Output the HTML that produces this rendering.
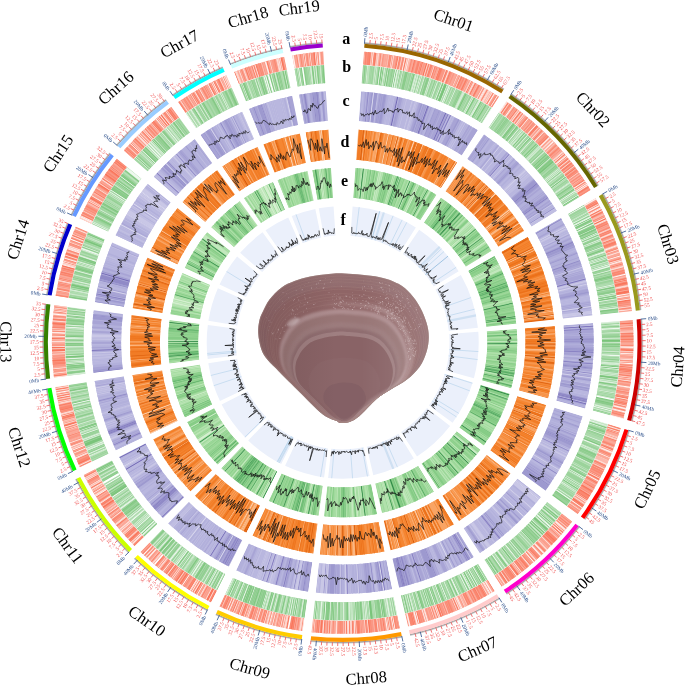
<!DOCTYPE html><html><head><meta charset="utf-8"><title>Circos</title><style>html,body{margin:0;padding:0;background:#fff;}#w{position:relative;width:685px;height:685px;overflow:hidden;background:#fff}.ring{position:absolute;border-radius:50%;filter:blur(0.3px)}svg{position:absolute;left:0;top:0}.ln{fill:none;stroke:#111;stroke-width:0.7;stroke-linejoin:round}.tr{font:5.2px "Liberation Serif",serif;fill:#ee4c4c;dominant-baseline:central}.tb{font:5.2px "Liberation Serif",serif;fill:#2c4f8a;dominant-baseline:central}.cl{font:16.5px "Liberation Serif",serif;fill:#000;text-anchor:middle;dominant-baseline:central}.lt{font:bold 16px "Liberation Serif",serif;fill:#000}</style></head><body><div id="w"><svg width="685" height="685" viewBox="0 0 685 685"><defs><radialGradient id="gr" cx="342.7" cy="342.4" r="300.6" gradientUnits="userSpaceOnUse"><stop offset="0.994" stop-color="#8a8a8a"/><stop offset="1" stop-color="#d8d8d8"/></radialGradient></defs>
<g transform="translate(0 342.4) scale(1 1.0022) translate(0 -342.4)">
<g fill="none"><circle cx="342.7" cy="342.4" r="284.35" stroke="#fa9885" stroke-width="12.9" stroke-dasharray="0 20.7 140.8 8.3 120.6 9 116.7 8.4 97.7 9.1 94.5 8.7 94.4 7.9 92 7.9 87.1 8.6 85.3 9 85 8 85.9 7.9 82.6 8.9 71.5 8.7 70.9 8.5 69.2 9.9 63.7 7.7 54.5 7.7 51.7 7.3 31.2 19.62" transform="rotate(-90 342.7 342.4)"/><circle cx="342.7" cy="342.4" r="284.35" stroke="#fcbaae" stroke-width="12.9" stroke-dasharray="0 21.5 0.7 13.4 0.8 1.5 0.7 4.5 0.7 0.8 1.5 17.8 0.8 0.7 0.8 29.8 0.7 30.5 0.8 0.7 0.8 7.4 0.8 13.4 0.7 0.8 0.7 3 0.7 26.2 0.7 3.7 0.8 14.1 0.8 10.4 0.7 16.4 0.8 4.4 0.8 5.2 0.7 21.6 0.8 5.9 0.8 3.7 0.7 39.6 2.2 14.9 0.7 7.4 0.8 2.9 0.8 10.4 0.7 13.4 0.8 7.4 0.7 5.2 0.8 6.7 0.7 7.4 0.8 28.5 0.7 4.5 1.5 11.2 0.7 4.5 0.8 8.9 1.5 6.7 0.7 23.9 0.8 41.1 0.8 20.1 0.7 7.4 3 7.5 0.7 6 0.7 8.2 0.7 15.7 0.7 44.4 0.8 15.6 0.7 1.5 0.8 2.2 0.7 19.4 0.7 5.2 0.7 16.4 0.7 5.2 0.8 13.1 0.7 5.2 0.8 16.3 1.5 5.9 1.5 2.2 0.8 14 1.5 0.8 0.7 3.7 0.8 4.4 0.8 50.2 0.7 5.2 0.8 5.2 0.7 23.1 0.8 2.2 0.7 3 0.8 20.1 0.7 2.2 0.8 39 0.7 0.8 0.7 2.2 0.8 11.1 0.7 1.5 1.5 8.2 0.7 20 0.8 75.3 0.7 16.4 1.5 7.5 0.7 29.7 0.7 2.3 0.7 3 0.8 3.7 0.7 6.8 0.7 8.2 1.5 3 0.7 9 0.7 12.7 0.8 8.2 0.7 39.3 0.7 4.5 0.7 13.4 0.8 132.2 0.8 29.1 0.7 56.3 2.2 9.7 1.4 13.4 0.8 54.5 0.7 14.1 0.7 2.2 0.8 35.8 0.7 10.4 0.8 18.7 0.7 14.9 0.8 17.4 0.8 5.2 0.8 6 0.7 46.3 0.7 45.62" transform="rotate(-90 342.7 342.4)"/><circle cx="342.7" cy="342.4" r="284.35" stroke="#fa8770" stroke-width="12.9" stroke-dasharray="0 22.2 1.5 0.8 2.2 3.7 1.5 0.8 0.7 3.7 0.8 8.2 0.7 0.8 0.7 5.2 0.8 1.4 1.5 2.3 0.7 7.5 0.7 3 0.7 2.3 2.2 0.7 0.8 6.7 1.5 0.7 2.3 4.4 0.8 2.9 0.8 0.7 0.8 4.4 0.8 3 0.7 9 0.7 0.7 0.8 2.2 0.8 1.5 0.7 6.7 0.7 6.8 0.7 8.2 0.7 5.2 1.5 3 0.8 0.7 0.7 13.5 1.5 3.8 0.7 6 0.7 2.2 0.8 5.2 1.5 4.4 0.8 1.5 0.7 4.5 1.5 11.1 0.8 0.7 0.8 11.1 0.8 2.2 1.5 1.5 0.7 10.5 0.7 2.2 1.5 1.5 1.5 0.8 0.7 5.2 1.5 0.7 0.8 3.7 0.8 1.4 0.8 2.2 0.8 2.2 0.7 0.8 0.7 2.3 0.7 0.8 0.7 1.5 0.7 15 0.8 0.7 0.7 1.5 0.8 2.2 0.7 1.5 0.8 3.7 0.7 0.8 0.7 3.7 1.5 0.8 0.7 3.7 0.8 3.7 1.5 8.9 0.7 0.8 1.5 4.4 0.8 8.9 1.5 8.1 0.8 1.5 1.5 0.7 1.5 4.4 0.8 3 0.7 1.5 0.7 3.7 0.8 3.7 0.7 8.2 0.8 1.5 0.7 20.3 0.8 1.5 0.7 6.7 0.8 0.7 0.8 0.7 0.8 2.2 0.7 3 0.8 3 0.7 6 0.7 6 0.7 1.5 0.8 2.9 1.5 3 0.8 7.4 1.5 9 0.7 3 0.7 0.8 0.7 3.7 0.8 2.2 0.8 0.7 0.8 2.9 0.8 2.2 0.8 14.3 1.5 0.8 0.7 3 0.7 11.2 1.5 2.2 0.7 4.5 0.8 0.7 0.7 10.5 1.4 4.5 1.5 0.7 1.5 1.5 0.8 17.1 0.7 1.5 0.7 2.3 2.2 8.9 0.8 2.2 0.8 3.7 0.7 0.8 0.7 10.2 0.8 1.5 1.5 0.7 0.7 1.5 0.8 5.2 0.7 1.5 0.7 2.3 0.7 2.2 2.3 1.5 0.7 3 0.7 8.2 1.5 2.2 0.8 2.9 0.8 0.7 1.5 1.5 0.7 1.5 1.5 0.8 0.7 5.2 1.5 0.7 0.8 0.7 0.8 2.9 1.5 0.8 0.7 3.7 0.8 0.7 0.7 1.5 3 0.8 0.7 4.5 1.4 4.5 0.7 7.9 0.8 7.4 0.7 1.5 1.5 1.5 1.5 1.5 2.2 2.2 0.8 0.7 0.7 3 1.5 0.7 1.5 10.4 0.7 0.8 0.7 3 1.5 0.7 0.8 0.7 0.7 1.5 0.8 11.8 0.8 0.7 0.8 8.9 0.7 1.5 0.7 0.8 0.7 1.5 0.8 4.4 3 11.6 0.7 1.5 1.5 3 0.7 9 0.7 3.7 2.3 3.7 0.7 3 0.7 5.3 0.7 0.7 1.5 0.8 0.7 1.5 0.8 12.6 0.8 0.7 0.7 0.8 0.7 0.8 0.7 9.7 0.7 1.5 0.8 21.9 0.8 3.7 0.7 3.7 0.8 1.4 1.5 1.5 0.7 6.7 0.8 2.2 0.7 3 0.7 3.8 0.7 5.9 1.5 1.5 0.7 0.8 0.7 3 0.7 0.8 0.7 2.2 1.5 3.7 0.8 0.7 0.8 1.4 0.8 10.4 0.7 2.2 0.8 1.5 0.7 1.5 1.5 2.9 0.8 9.7 1.5 7.5 1.5 8.2 0.7 1.5 0.7 2.3 1.5 3.7 0.8 2.2 0.7 3 1.5 3 0.7 0.8 0.7 0.8 0.7 0.8 0.7 6.7 0.8 0.7 0.8 2.2 0.8 2.9 0.8 2.2 0.8 11.2 0.7 5.2 0.8 1.5 0.7 8 1.5 9 0.7 1.5 0.8 11.9 0.7 4.5 0.8 0.7 1.5 1.5 0.8 2.9 1.5 11.2 0.8 3 1.5 8.9 0.8 7.4 0.8 2.2 0.8 5.9 0.8 13.9 2.2 8.9 0.8 0.7 0.8 5.2 0.7 8.2 0.8 5.9 0.8 1.5 0.7 6.7 0.7 0.8 0.7 3 0.8 2.9 0.8 1.5 2.2 6 0.7 1.5 0.7 1.5 1.5 6 0.7 11.9 0.7 6 0.7 5.2 1.5 3.7 0.8 16.4 0.7 4.5 0.7 3.7 0.8 0.7 0.8 1.5 0.7 3.7 0.8 3 0.7 1.5 0.7 10.4 0.8 8.7 1.5 4.5 1.5 3 0.7 0.8 0.7 3 0.7 4.5 1.5 1.5 0.7 0.8 0.7 0.8 0.7 9 0.7 1.5 0.8 1.5 0.7 1.5 0.7 1.5 0.8 6.7 0.7 2.3 0.7 0.8 1.5 2.2 0.7 0.8 0.7 1.5 0.8 3.7 1.5 11.5 1.5 0.7 1.5 3.7 0.8 1.5 1.5 5.2 0.7 3 0.7 8.2 0.8 3.7 0.7 2.3 0.7 4.5 0.7 6 1.5 1.4 0.8 2.2 0.8 7.4 0.7 1.5 0.8 14.3 0.8 8.9 0.7 0.7 0.8 9.6 1.5 0.7 0.8 4.4 0.8 1.4 0.8 5.2 0.7 4.4 0.8 0.7 0.8 6.6 0.8 0.7 0.8 0.7 0.7 3.7 1.5 7.7 1.5 1.4 0.8 1.5 0.7 0.8 0.7 1.5 0.8 3.7 0.7 5.3 2.2 1.5 0.7 2.3 1.5 3 0.7 3 0.7 1.5 0.8 3.7 0.8 2.2 0.7 24.2 0.8 5.2 0.8 0.7 0.8 7.5 0.7 1.5 0.7 0.8 0.7 6.8 0.7 6 0.8 7.5 0.7 0.8 0.7 11.8 0.8 2.9 0.8 5.9 0.8 2.9 0.8 4.4 0.8 27.02" transform="rotate(-90 342.7 342.4)"/><circle cx="342.7" cy="342.4" r="284.35" stroke="#f9765c" stroke-width="12.9" stroke-dasharray="0 26.7 0.7 4.5 0.8 21.6 0.7 7.4 0.8 7.4 0.8 7.4 0.8 3 1.4 7.5 0.7 4.5 0.7 0.8 0.7 4.5 0.7 3 0.8 11.9 0.7 4.5 0.7 4.5 0.8 3.7 0.7 3 0.8 32.8 0.8 9.6 0.8 3.7 0.7 20.1 0.8 5.9 0.8 8.2 0.7 20.9 0.7 0.8 0.7 2.2 0.8 2.2 0.8 3.7 0.7 3 0.7 2.3 0.7 14.2 0.7 6.7 0.8 15.7 0.7 0.8 0.7 7.4 0.8 1.5 0.7 6 1.4 4.5 0.7 6 0.7 4.5 0.7 3 0.8 2.9 0.8 21.5 0.8 14.1 0.7 0.8 0.7 1.5 1.5 3.7 0.7 0.8 0.7 0.8 2.2 6.7 1.5 6.7 0.7 13.7 1.4 9 0.7 2.3 0.7 2.3 0.7 9.7 1.5 15.6 0.8 2.2 0.8 0.7 0.8 2.9 0.8 1.5 0.7 19.4 0.8 0.7 0.8 2.9 0.8 11.2 0.7 15.1 0.7 0.8 0.7 7.5 0.7 8.9 0.8 20.8 0.8 7.4 0.7 0.8 1.5 3 0.7 5.2 0.8 2.2 1.5 3.7 1.5 2.2 0.8 0.7 0.7 5.3 1.4 0.8 0.7 28.8 0.8 0.7 0.8 1.5 0.7 8.2 1.5 0.7 0.7 1.5 0.8 19.3 0.7 9 0.7 3 0.7 3.7 0.8 5.9 1.5 3 0.7 6 0.7 1.5 0.8 24.2 0.7 5.2 0.8 3.7 0.7 18.6 0.7 15.6 0.7 0.8 1.5 2.2 0.7 17.8 0.8 3.7 0.7 0.8 0.7 19 0.8 3.7 0.8 4.4 0.8 13.4 1.5 2.2 0.7 6.7 0.8 0.7 0.8 3.7 0.7 2.3 0.7 2.2 0.8 12.6 0.8 3 0.7 4.5 0.7 1.5 1.5 1.5 0.7 0.8 0.7 3 0.7 17.5 0.7 0.8 0.7 0.8 1.4 3.7 0.8 22.2 0.8 12.6 0.7 8.2 0.7 3 0.8 5.1 0.8 8.1 0.8 3 0.7 10.5 0.7 2.2 2.3 10.4 0.8 0.7 1.5 5.2 0.8 1.5 0.7 4.5 0.7 2.3 1.5 3 1.5 7.4 0.8 0.7 0.8 1.4 0.8 6 0.7 6 0.7 4.5 0.7 8.3 0.7 1.5 0.7 16.2 0.8 0.7 1.5 3.8 0.7 1.5 0.7 11.2 0.8 20.9 1.5 1.5 0.7 0.8 0.7 7.5 0.7 9 0.7 7.5 0.8 3.7 0.7 11 0.7 1.5 1.5 3.7 0.7 33.5 1.5 6.7 0.8 0.7 0.8 5.9 0.8 3.7 0.7 6.7 0.8 3 0.7 3.7 0.8 13.3 0.8 10.4 0.7 2.3 1.5 8.1 2.3 0.7 1.5 0.8 0.7 6 1.4 9.7 0.8 2.9 1.5 3 0.8 6.7 0.7 28.9 0.7 3 0.7 5.3 0.7 3.7 0.8 0.7 1.5 3 0.7 5.3 0.7 1.5 1.5 17.2 0.7 36.1 0.7 3 1.5 0.7 0.8 4.4 0.8 7.4 1.5 5.2 0.8 4.4 1.5 4.5 1.5 2.2 0.7 4.5 0.8 1.4 0.8 12.9 0.7 0.8 0.7 5.2 0.7 0.8 0.7 5.2 0.7 4.5 0.7 8.2 0.7 8.1 0.8 0.7 0.8 3.7 0.7 3 0.7 0.7 1.5 2.3 0.7 4.4 0.8 0.7 0.8 25.5 0.7 0.8 0.7 12 0.7 5.2 0.8 3.7 0.8 4.4 0.8 4.5 0.7 11.5 0.7 10.5 0.8 6 0.7 0.8 0.7 1.5 0.8 10.4 0.8 13.5 1.5 21.4 0.8 4.5 0.7 3.7 1.5 8.2 0.7 19.62" transform="rotate(-90 342.7 342.4)"/><circle cx="342.7" cy="342.4" r="284.35" stroke="#feddd6" stroke-width="12.9" stroke-dasharray="0 28.2 0.7 4.5 0.7 14.2 0.7 6 0.7 2.3 0.7 25.3 0.8 5.9 0.8 11.2 0.7 11.9 0.8 2.2 0.7 13.4 0.8 13.4 0.7 1.5 0.8 0.7 0.8 0.7 0.8 20.2 0.7 4.5 0.7 5.2 0.8 3.7 0.7 3 0.8 17.1 0.7 17.1 0.8 0.7 0.8 14.1 0.8 2.9 0.8 1.5 0.7 5.2 0.8 4.4 0.8 6.7 0.7 11.9 0.8 30.6 0.7 9.7 0.7 8.2 0.8 3.7 1.5 3.7 0.7 6.7 0.7 0.8 0.7 14.9 0.7 3.8 1.4 17.9 1.5 38.9 0.7 4.5 0.8 29 0.8 14.1 0.8 0.7 0.8 8.2 0.7 6.7 0.8 9.7 0.7 6 0.7 18.8 0.8 5.2 0.7 1.5 0.8 7.4 0.8 2.2 0.7 9.7 0.7 3 0.8 4.4 0.8 9.6 0.8 24.5 0.8 10.4 0.8 20.6 0.7 3 0.7 40.2 0.7 18.6 0.7 20.1 0.8 42 0.7 3 1.5 2.9 0.8 20.8 0.7 1.5 0.7 6.7 0.8 36.1 0.7 0.8 0.7 22.3 0.8 12.6 0.8 36.5 0.7 12.3 0.7 0.7 0.8 12.6 0.7 0.8 0.7 8.2 0.7 8.2 0.7 11.1 0.8 8.1 0.8 1.5 0.7 8.2 0.7 28.3 0.7 19.4 0.8 14.9 0.8 4.4 0.8 0.7 0.8 14.2 0.7 1.5 0.7 6 0.8 38.5 0.8 5.2 1.5 4.5 0.7 9.7 0.8 4.5 0.7 10.5 0.7 7.5 1.5 3.7 0.8 0.7 0.7 12.7 0.8 19.8 0.8 28.3 0.7 0.8 0.7 4.5 0.7 2.3 0.7 4.5 0.7 0.8 0.7 9.7 0.7 1.5 0.8 1.4 0.8 3.7 0.8 7.4 0.7 36.5 0.7 1.5 0.8 3.7 0.7 1.5 0.8 5.9 0.8 2.2 0.7 0.8 0.7 9.7 0.7 2.3 0.7 0.8 0.7 3 0.7 3 0.7 14.8 0.7 28.3 0.8 5.2 0.8 8.2 0.7 3.7 0.8 7.4 0.8 16.7 0.8 6.7 0.7 10.4 0.8 0.7 0.8 12.6 0.8 4.4 0.8 5.9 0.8 38.1 0.8 4.4 0.7 6 0.7 5.9 0.8 13.3 0.7 6.7 0.7 0.8 0.7 9.7 0.7 15.8 0.7 11.2 0.8 31.3 0.8 15.9 0.8 17.2 0.8 16.4 0.8 6 0.7 3 0.8 22.2 0.7 15.7 0.7 23.32" transform="rotate(-90 342.7 342.4)"/><circle cx="342.7" cy="342.4" r="284.35" stroke="#fba999" stroke-width="12.9" stroke-dasharray="0 28.9 0.8 6.7 0.7 3.8 2.2 0.7 0.8 5.9 0.8 0.7 0.8 14.1 0.8 1.4 1.5 2.3 0.7 3 0.7 2.3 0.7 1.5 0.8 6.7 0.7 3 0.7 0.8 1.5 10.4 0.7 3 0.8 1.4 2.3 1.5 1.5 5.9 0.8 6.7 0.7 3.7 1.5 3 2.2 33.6 0.8 3.7 0.7 0.8 0.7 2.3 0.7 6 0.7 1.5 0.7 3.8 0.7 0.8 1.4 9.7 0.8 4.4 0.8 2.2 0.8 6.7 0.7 1.5 0.7 2.3 0.7 0.8 0.7 3 0.7 2.3 0.7 0.7 0.8 0.7 0.8 10.4 0.7 4.5 0.8 13.4 1.4 2.3 0.7 6 0.7 34.3 0.8 8.1 0.8 0.7 0.8 25.2 0.8 1.5 2.2 1.5 1.5 2.2 0.7 2.3 0.7 0.8 0.7 3 1.5 5.9 0.8 0.7 0.7 3 0.8 8.1 0.8 6.7 0.7 6.7 0.7 3 0.8 0.7 1.5 8.4 0.8 0.7 0.8 1.4 0.8 3.7 0.8 8.2 0.7 2.3 0.7 3 0.7 7.5 0.7 0.8 0.7 1.5 0.8 6.7 0.7 3 0.7 3.8 0.7 0.8 1.4 3.8 0.7 3 1.5 1.5 0.7 1.5 1.5 4.5 0.7 6 0.7 9 0.7 5.3 1.4 16.6 2.3 5.9 2.2 2.3 0.7 8.9 0.8 1.5 2.2 7.4 0.8 13.4 0.7 9 2.2 4.4 0.8 8.9 0.8 0.7 0.8 5.2 0.7 2.2 0.8 11.7 0.7 1.5 0.8 1.5 0.7 14.1 1.5 8.9 0.8 1.5 0.7 0.7 0.8 0.7 0.8 7.4 0.7 5.2 0.8 5.2 0.7 7.5 0.7 0.8 0.7 5.9 1.5 3.7 0.8 12.6 1.5 11.6 0.8 3.7 0.7 8.2 0.7 3 1.5 1.5 0.7 3 0.7 4.5 0.7 3 0.7 3 0.7 3.7 1.5 22.3 0.7 0.8 1.4 1.5 0.8 1.5 0.7 0.7 0.8 8.1 0.8 16 0.8 5.9 0.8 8.2 0.7 18.6 0.8 0.7 0.8 0.7 0.7 25.4 1.4 0.8 1.5 4.4 1.5 12.7 0.7 12.3 0.7 1.5 1.5 0.7 0.8 17 0.8 1.5 0.7 2.2 0.8 2.2 0.7 1.5 0.8 9.6 0.7 1.5 0.8 4.4 0.8 0.7 0.7 0.8 0.7 8.9 0.8 5.9 0.8 4.4 0.7 20.9 0.8 0.7 0.8 0.7 0.8 3.7 0.7 2.3 0.7 9.7 1.5 2.3 0.7 4.5 0.7 5.2 0.8 4.5 0.7 11.2 0.8 7.4 0.8 1.5 0.7 2.2 0.8 5.2 0.8 3.7 0.7 17.7 0.8 6.7 0.7 1.5 0.8 3.7 1.5 0.8 0.7 4.5 0.7 6 0.7 0.8 0.7 3 0.8 14.2 1.5 5.2 1.5 1.5 0.7 7.5 0.7 4.5 0.7 3.8 0.7 10.9 0.8 8.9 0.8 1.5 0.7 1.5 0.7 1.5 0.8 1.5 0.7 0.7 0.8 3.7 0.8 0.7 0.7 2.3 0.7 1.5 2.2 0.8 1.5 11.1 0.8 43.9 0.7 1.5 0.7 1.5 0.8 1.5 1.5 8.9 0.7 1.5 0.8 0.7 0.8 7.4 0.7 0.8 1.5 4.4 1.5 2.3 0.7 11.2 0.7 3.7 0.8 3.7 0.8 17.6 1.5 0.8 0.7 5.2 0.8 2.2 0.8 2.9 0.8 0.7 0.8 0.7 1.5 3.7 0.8 3 0.7 6 0.7 9 0.7 9 0.7 3.8 0.7 3.7 1.5 3.8 0.7 14.5 0.7 4.5 0.7 10.5 0.7 3.7 0.8 0.7 0.8 2.2 0.7 3.8 1.4 5.2 0.8 5.2 0.7 9 0.7 0.8 0.7 0.7 0.8 2.2 1.5 15.1 0.8 0.7 0.8 11.8 0.7 8.2 0.7 0.8 0.7 17.8 0.7 8.2 1.5 8.1 0.7 12.9 1.5 2.2 0.8 3.7 0.7 3 0.8 1.5 0.7 3 0.8 2.2 1.5 2.2 0.8 0.7 0.8 0.7 0.8 3.7 0.7 12 0.7 2.3 0.7 1.5 0.8 10.7 0.7 2.3 0.7 1.5 0.8 3 0.7 0.8 0.7 15 1.5 3.7 0.8 2.2 0.8 7.5 0.7 3 0.8 11 1.5 2.2 1.5 1.5 0.8 5.2 0.7 14.1 0.8 20.32" transform="rotate(-90 342.7 342.4)"/><circle cx="342.7" cy="342.4" r="284.35" stroke="#ffffff" stroke-width="12.9" stroke-dasharray="0 29.7 0.7 30.6 0.7 3 0.7 80.5 0.7 8.9 0.8 3 0.7 9.8 0.7 6.7 0.8 18.6 0.7 9 0.7 9.7 0.7 12.7 0.7 17.9 0.7 29.8 0.8 2.9 0.8 26.9 0.7 38.6 0.8 9.6 0.8 4.4 0.8 12.6 0.8 18.5 0.8 1.5 0.7 12.7 0.7 42.7 0.8 8.9 0.8 16.4 0.7 5.2 0.8 23.8 0.8 5.9 0.8 39.6 0.8 6.7 0.7 17.1 0.8 29.7 0.8 31 0.8 20.8 0.7 17.1 0.8 20.8 0.7 13.4 0.7 16.1 0.7 30.5 0.7 34.9 0.7 1.5 0.7 6 0.7 23.5 0.7 0.8 0.7 5.2 0.8 31.3 0.7 6 0.7 10.4 0.8 46.4 1.5 17.8 0.8 40.8 0.7 1.5 0.7 32.1 0.7 5.3 0.7 1.5 0.7 8.2 0.8 22.4 0.7 9.7 1.5 13.4 0.8 14.7 0.7 0.8 0.7 56 0.8 3 0.7 37.8 0.7 4.5 0.7 2.3 0.7 3 0.7 49.2 0.7 3.7 0.8 55 0.8 3 0.7 17.1 0.8 2.2 0.7 2.3 0.7 42.3 0.8 5.9 0.8 8.9 0.8 0.7 0.8 7.4 0.8 24.2 0.7 85 0.8 9.6 0.7 23.7 0.8 4.4 0.7 55.3 0.8 4.5 0.7 107.7 0.8 24.02" transform="rotate(-90 342.7 342.4)"/><circle cx="342.7" cy="342.4" r="284.35" stroke="#fdccc2" stroke-width="12.9" stroke-dasharray="0 34.1 0.8 3.7 0.8 26.8 0.7 19.4 0.7 145.3 0.8 148.1 0.7 76.9 0.8 80.7 0.7 115.1 0.7 109.7 0.8 139.4 0.8 14.8 0.8 41.2 0.7 29.7 0.7 19.3 0.8 22.4 0.7 124.4 0.8 60.9 0.7 8.2 0.8 25.3 0.7 28.3 0.7 110 0.7 17.2 0.8 11.1 0.8 125.6 0.7 17.8 0.7 50.7 0.8 41.8 0.7 10.7 0.8 24.7 0.7 15.8 0.7 29.7 0.8 34.42" transform="rotate(-90 342.7 342.4)"/><circle cx="342.7" cy="342.4" r="284.35" stroke="#feeeeb" stroke-width="12.9" stroke-dasharray="0 34.9 0.7 14.2 0.7 12.7 0.7 41.7 0.8 23.1 0.7 3 0.7 9 0.7 1.5 0.8 3.7 0.7 3 0.7 16.5 0.8 14.1 0.8 4.4 0.8 20.8 0.8 11.1 1.5 1.5 0.7 15.7 0.7 1.5 0.8 6.7 0.7 30.5 0.8 14.2 1.5 4.5 0.7 0.7 1.5 1.5 0.8 9.6 0.8 1.4 0.8 30.5 0.7 2.2 0.8 6.7 0.7 38.7 0.7 6.7 0.7 39 1.5 3 0.7 7.5 0.7 38.1 0.7 8.2 1.5 20.3 0.8 8.9 0.7 12.7 1.5 53.5 0.8 1.5 0.7 30.3 1.5 1.5 0.7 3.7 0.8 13.4 0.7 8.9 1.5 2.2 1.5 5.2 0.8 7.4 0.8 9.6 0.8 15.6 0.7 17.6 1.4 1.5 0.8 1.5 0.7 30.4 0.8 19.3 0.7 0.7 0.8 20.8 1.4 6 1.5 30.2 0.7 9 0.7 11.2 0.7 4.5 0.7 1.5 0.8 2.2 0.7 9 0.7 4.5 0.7 6.7 0.8 19.7 0.7 1.5 0.7 14.1 0.8 1.5 0.7 1.5 0.7 7.4 0.8 4.4 0.8 2.2 0.7 6.7 0.8 8.9 0.7 8.2 0.7 5.2 0.7 29.1 0.7 6 0.7 6 0.8 30.6 0.7 9.7 0.7 6.8 0.7 6 1.5 1.5 0.7 17 0.7 6 0.7 6.7 0.8 2.2 0.8 7.4 0.8 6 0.7 5.2 0.8 11.9 0.8 15.6 0.8 1.5 0.7 0.8 0.7 5.3 0.7 0.7 0.8 13.9 0.7 17.2 0.7 5.2 0.8 15.6 0.7 12.7 0.7 9.7 0.8 11.9 0.7 1.5 0.8 10.3 0.8 3 0.7 3.7 0.8 13.4 0.7 1.5 0.7 9.7 0.8 19.3 0.8 39.2 0.8 15.7 0.7 0.8 0.7 14.2 0.7 1.5 0.8 8.9 0.8 7.4 0.8 11.5 1.5 22.3 0.7 17.9 0.7 55.2 0.8 0.7 0.8 4.4 0.7 0.8 0.7 22.2 0.8 3.7 0.7 33.7 0.8 4.4 0.8 12.7 0.7 3.8 0.7 6.7 0.8 0.7 0.8 0.7 0.8 10.7 0.7 2.3 0.7 3.8 0.7 11.3 0.7 9.7 1.5 10.5 0.8 0.7 0.8 13.3 1.5 3.7 0.7 6 0.7 4.5 0.7 4.5 0.7 0.8 0.7 26.32" transform="rotate(-90 342.7 342.4)"/></g>
<g fill="none"><circle cx="342.7" cy="342.4" r="268.3" stroke="#9bd39b" stroke-width="18" stroke-dasharray="0 19.6 132.8 7.8 113.8 8.5 110.1 8 92.1 8.6 89.2 8.2 89.1 7.4 86.9 7.4 82.2 8 80.5 8.5 80.3 7.5 81 7.5 78 8.4 67.4 8.2 66.9 8.1 65.2 9.4 60.1 7.2 51.4 7.3 48.8 6.9 29.5 18.48" transform="rotate(-90 342.7 342.4)"/><circle cx="342.7" cy="342.4" r="268.3" stroke="#8bcb8b" stroke-width="18" stroke-dasharray="0 19.6 0.7 0.7 1.4 12.6 0.7 1.4 0.7 5 1.4 4.2 0.7 1.4 0.7 4.9 0.7 2.1 0.7 1.4 2.8 4.3 0.7 5.6 0.7 6.3 0.7 0.7 2.1 5.6 0.7 7.1 0.7 1.4 0.7 16.1 0.7 0.7 0.8 3.5 0.7 8.4 0.7 7.7 0.7 0.7 0.7 6.4 0.7 1.4 0.7 16.2 0.7 0.7 0.7 0.7 0.7 5.7 1.4 4.2 0.7 10.5 0.7 2.8 0.7 4.2 0.7 0.7 0.7 12 0.7 6.3 0.7 3.5 0.7 0.7 1.4 5 0.7 1.4 0.7 4.9 0.7 3.5 0.7 11.9 1.4 9.2 0.7 11.3 0.7 11.2 0.7 2.8 0.7 0.7 0.7 2.1 0.7 1.4 0.7 0.7 0.7 1.5 0.7 6.3 0.7 2.1 0.7 4.2 1.4 0.7 0.7 0.7 0.7 6.3 0.7 4.2 0.7 2.1 0.7 2.8 0.7 2.8 0.7 2.8 0.7 2.1 0.7 0.7 1.4 1.4 0.7 7.8 0.7 3.5 1.4 1.4 0.7 3.5 0.7 4.2 0.7 1.4 0.7 0.7 0.7 2.1 0.7 2.1 0.7 10.1 0.7 2.1 0.7 4.2 0.7 4.2 0.7 4.3 0.7 0.7 0.7 4.2 0.7 10.5 0.7 1.5 0.7 8.4 0.7 12 0.7 4.2 0.7 7.7 0.7 2.8 0.7 2.2 2.1 7 0.7 17.1 0.7 2.1 0.7 0.7 0.7 18.9 2.1 0.7 0.7 3.5 0.7 1.4 1.5 11.2 0.7 0.7 1.4 1.4 0.7 7 0.7 19 0.7 14.5 0.7 6.3 1.5 4.9 0.7 3.5 0.7 1.4 0.7 0.7 0.7 0.7 0.7 1.4 0.7 4.2 1.4 1.4 1.4 2.1 0.7 9.1 0.7 3.5 1.4 1.4 0.7 0.7 0.7 2.1 0.7 0.7 0.7 5.7 0.7 2.8 0.7 9.1 0.7 2.8 0.7 3.5 0.7 16.5 0.7 0.7 0.7 2.8 0.7 0.7 0.7 0.7 0.7 8.4 1.4 3.5 0.7 1.4 1.5 8.4 0.7 5.6 0.7 0.7 0.7 6.3 0.7 0.7 1.4 0.7 0.7 6.3 1.4 2.8 0.7 6.3 0.7 1.4 0.7 4.2 0.7 19.3 0.7 3.6 2.1 2.1 0.7 13.3 0.7 2.8 0.7 11.3 0.7 0.7 0.7 4.9 0.7 2.1 0.7 0.7 0.7 3.5 0.7 0.7 1.4 0.7 1.4 20.7 0.7 4.9 0.7 4.2 0.7 2.1 0.7 13.3 0.7 0.7 0.7 14.7 1.4 0.7 0.7 2.8 0.7 1.4 0.7 0.7 0.7 0.7 0.7 1.4 0.7 1.4 0.7 3.5 0.7 1.4 0.7 0.7 0.7 4.9 0.7 1.4 0.7 14.1 0.7 1.4 0.7 0.7 0.7 0.7 1.5 1.4 0.7 10.5 0.7 1.4 0.7 0.7 0.7 0.8 0.7 16.1 0.8 0.7 0.7 8.4 0.7 3.5 0.7 2.9 1.4 2.1 1.4 3.5 0.7 8.5 2.1 8.9 1.4 3.5 0.8 4.2 0.7 12.7 0.7 0.7 0.7 3.5 0.7 1.4 1.4 4.2 0.8 1.4 0.7 2.8 0.7 6.3 0.7 1.4 0.7 6.4 0.7 7 0.7 0.7 0.7 5.7 0.7 22.2 0.7 1.5 0.7 15.4 0.7 4.9 1.4 11.3 0.7 8.4 0.7 9.8 0.7 5.7 0.7 3.5 0.7 12.6 1.4 4.9 0.7 11.2 0.7 8.5 0.7 9.1 0.7 7.7 0.7 1.4 1.4 2.2 1.4 2.1 0.7 0.7 0.7 0.7 0.7 2.8 0.7 20.2 0.7 4.2 0.7 4.2 0.7 0.7 0.8 4.9 0.7 3.5 1.4 0.7 0.7 4.9 0.8 1.4 0.7 10.5 0.7 0.7 0.7 6.4 0.7 21.4 0.7 4.2 2.8 0.7 0.7 4.2 0.7 0.7 1.4 3.5 0.7 2.8 0.7 8.5 2.8 4.2 0.7 2.1 1.4 4.9 0.7 24.1 0.7 6.3 0.7 1.4 0.7 1.4 0.7 11.8 0.7 1.4 0.7 0.7 0.7 5.6 1.4 7.7 0.7 3.5 0.7 3.5 0.7 2.8 0.7 20.6 0.7 1.4 0.7 1.4 0.7 9.9 0.7 14.1 1.4 2.8 0.7 0.7 0.7 10.1 0.7 0.7 0.7 1.5 1.4 6.3 0.7 4.3 0.7 2.1 0.7 1.4 1.4 7.8 0.7 7.1 0.7 0.7 0.7 16.1 0.7 6.3 1.4 7.7 0.7 7.7 0.7 1.4 0.7 19.28" transform="rotate(-90 342.7 342.4)"/><circle cx="342.7" cy="342.4" r="268.3" stroke="#acdaac" stroke-width="18" stroke-dasharray="0 20.3 0.7 1.4 0.7 4.2 0.7 0.7 0.7 4.2 1.4 11.3 0.7 2.1 0.7 4.2 0.7 2.1 1.4 1.4 1.4 2.8 0.7 0.7 0.7 2.9 0.7 2.8 0.7 5.6 0.7 2.8 0.7 6.3 0.7 4.3 0.7 9.1 0.7 4.9 0.7 3.5 0.7 0.7 0.7 8.5 0.7 0.7 0.7 4.2 0.7 2.1 0.7 0.7 0.7 1.4 0.7 3.5 0.7 2.1 1.4 1.5 2.1 11.3 0.7 2.1 1.4 1.4 0.7 2.1 0.7 5.6 1.5 9.8 0.7 0.7 0.7 4.9 0.7 2.8 0.7 2.8 0.7 4.2 2.2 3.5 0.7 0.7 0.7 2.1 1.4 2.1 0.7 1.4 0.7 3.5 0.7 1.4 0.7 4.2 0.7 1.4 1.5 2.8 1.4 0.7 0.7 2.8 0.7 1.4 0.7 4.9 0.7 2.1 0.7 2.8 0.7 3.5 0.7 2.9 0.7 2.1 1.4 14.1 0.7 1.4 0.7 0.7 1.4 2.8 1.4 17.6 0.7 12.6 0.7 0.7 0.7 2.1 0.7 5.6 0.7 7 1.4 2.1 0.7 7 0.7 0.7 0.7 6.3 1.4 0.7 0.8 15.4 0.7 3.5 0.7 24.8 0.7 2.1 0.7 4.2 0.7 4.3 0.7 4.9 0.7 0.7 0.7 2.8 0.7 2.8 1.4 9.9 1.4 0.7 0.7 2.8 0.7 5.7 0.7 2.8 0.7 3.5 0.7 1.4 0.7 3.5 1.4 8.5 2.1 2.8 0.7 2.1 0.7 12.1 0.7 1.4 1.5 2.8 0.7 3.5 0.7 0.7 2.8 2.8 0.7 0.7 0.7 2.1 0.7 11.2 1.4 5 0.7 7.7 0.7 1.4 0.7 9.1 0.7 12 1.4 1.4 0.7 1.4 0.7 7 0.7 8.9 0.7 2.8 0.7 17.6 0.7 15.4 0.7 2.1 1.4 1.4 0.7 3.5 0.7 4.2 0.7 4.2 0.7 0.7 0.7 0.7 0.7 0.7 1.5 5.6 0.7 6.3 2.1 2.8 2.1 13 0.7 2.1 0.7 0.7 0.7 2.1 0.7 6.3 0.7 6.3 0.7 2.8 0.7 4.2 0.7 3.6 0.7 0.7 0.7 0.7 0.7 0.7 0.7 1.4 0.7 2.1 0.7 2.1 0.7 8.4 0.7 2.1 0.7 5.6 0.7 5.6 0.7 10.5 0.7 15.8 0.7 4.2 0.7 0.7 0.7 10.6 0.7 0.7 1.4 11.2 0.7 2.8 0.7 2.9 0.7 2.1 0.7 4.2 0.7 3.5 0.7 4.9 0.7 15.5 1.4 19.2 2.1 10.5 0.7 4.2 0.7 4.9 0.7 0.7 0.7 1.4 0.7 2.1 0.7 11.9 1.4 7.7 0.7 11.9 1.4 1.4 1.4 24.7 0.7 1.4 0.7 0.7 0.7 2.1 0.7 4.9 0.7 7.8 0.7 2.8 0.7 0.7 1.4 7.1 0.7 2.1 0.7 0.7 0.7 0.7 0.7 15.5 0.7 8.4 0.7 0.8 0.7 2.8 0.7 16.7 0.7 1.4 0.7 0.7 0.7 2.1 0.7 0.7 1.4 2.8 0.8 19 1.4 0.7 1.4 3.5 0.7 5 0.7 0.7 0.7 0.7 0.7 0.7 0.7 0.7 1.4 2.1 1.4 5.7 0.7 6.3 0.7 0.7 0.7 1.4 0.7 8.2 1.4 0.7 0.7 3.5 0.7 2.2 0.7 3.5 2.1 5.6 0.7 14.7 0.7 2.2 1.4 0.7 0.7 4.2 0.7 2.8 0.7 1.4 1.4 0.7 0.7 7 0.7 2.1 0.7 0.7 0.7 2.2 0.7 2.1 0.7 0.7 0.7 16.8 0.7 0.7 0.7 4.9 0.7 0.7 0.7 8.4 1.4 2.2 0.7 7 0.7 0.7 0.7 4.2 0.7 0.7 0.7 0.7 0.7 1.4 0.7 2.8 0.7 12 1.4 3.5 0.7 10.3 0.8 0.7 0.7 1.4 0.7 0.7 0.7 4.2 0.7 4.2 0.7 0.7 0.7 0.7 0.7 0.8 0.7 0.7 0.7 14 0.7 0.8 0.7 6.3 0.7 1.4 0.7 4.9 1.4 0.7 0.7 0.8 0.7 4.9 1.4 13 0.7 0.7 2.1 5.6 0.7 2.8 0.7 1.4 0.7 0.7 0.7 2.1 0.7 2.1 1.4 2.8 0.7 0.7 0.7 5 0.7 0.7 0.7 6.3 0.7 1.4 0.7 0.7 0.7 2.8 0.7 7 0.7 1.4 0.7 15 0.7 4.9 1.4 1.4 0.7 4.9 0.7 2.1 0.7 3.5 0.7 11.1 0.7 6.3 0.7 1.4 0.7 0.7 1.4 4.2 0.7 4.9 0.7 1.4 0.7 0.7 0.7 8.6 1.4 0.7 2.1 1.4 0.7 3.6 0.7 1.4 0.7 2.8 0.7 3.5 2.1 1.4 1.5 11.2 0.7 2.8 0.7 0.8 0.7 7 1.4 13.7 0.7 2.1 0.7 9.2 1.4 1.4 0.7 12 0.7 3.6 0.7 2.1 1.4 0.7 0.7 2.8 0.8 8.3 1.4 10.5 0.7 3.5 0.7 4.2 0.7 1.4 0.7 24.18" transform="rotate(-90 342.7 342.4)"/><circle cx="342.7" cy="342.4" r="268.3" stroke="#eef8ee" stroke-width="18" stroke-dasharray="0 23.8 0.7 14 0.7 1.5 0.7 14 0.7 15.5 0.7 1.4 0.7 1.4 0.7 0.7 0.7 2.1 0.7 4.9 0.7 7.1 0.7 3.5 0.7 1.4 0.7 2.8 0.7 2.8 0.7 4.9 0.7 7.8 0.7 8.4 0.7 0.7 0.7 5.6 0.7 13.4 0.7 8.5 0.7 26.7 0.7 1.4 0.7 4.2 0.7 2.1 0.7 11.3 0.7 0.7 0.7 0.7 0.7 4.2 0.7 21.1 0.7 2.1 0.7 1.4 0.7 4.2 0.7 6.3 0.7 33.1 0.7 2.1 0.7 1.4 0.7 1.4 0.7 14.1 0.7 2.8 0.7 2.8 0.7 7 0.7 8.4 0.7 2.1 0.7 2.1 0.7 4.2 1.4 2.8 0.7 13.4 0.7 11.2 0.7 1.4 0.7 21.3 0.7 2.1 0.7 2.8 1.4 25.3 1.4 6.4 0.7 0.7 0.7 3.5 0.7 16.9 0.7 36 0.7 1.4 0.7 1.4 0.7 12.7 0.7 9.8 0.7 0.7 0.7 11.3 0.7 9.8 0.7 3.5 0.7 0.7 0.7 7 0.7 2.1 0.7 2.8 0.7 7.1 0.7 20.8 0.7 3.5 0.7 5.7 0.7 1.4 0.7 2.1 0.7 4.2 0.7 3.5 0.7 2.1 0.7 8.4 0.7 14.7 0.7 19.7 0.7 8.4 0.7 2.8 0.7 8.8 0.7 13.3 0.7 1.4 0.7 13.3 0.7 2.2 0.7 4.2 0.7 21.7 0.7 11.9 0.7 2.8 0.7 1.4 0.7 3.5 0.7 9.5 0.7 3.5 0.7 21.1 0.7 2.1 0.7 0.7 0.7 9.1 0.7 5 0.7 18.9 0.7 27.7 0.7 5.6 0.7 5.6 0.7 13.3 0.7 7.7 0.7 1.4 0.7 0.7 0.7 12.6 0.7 11.2 0.7 3.5 0.7 3.5 0.7 2.8 0.7 16.3 0.7 1.4 0.7 4.2 0.7 10.6 0.7 1.4 1.4 11.2 0.7 2.2 0.7 3.5 0.7 10.6 0.7 5.6 0.7 3.5 0.7 19.5 0.7 1.4 1.4 8.5 0.7 5.6 0.7 14.1 0.7 2.9 0.7 30.3 0.7 5.6 0.7 18 0.7 1.4 0.7 14.1 0.7 4.2 0.7 3.5 0.7 2.1 0.7 16.2 0.7 3.5 0.7 30.9 0.7 9.8 0.7 0.7 0.7 5.6 0.7 7.8 0.7 4.2 0.7 4.2 0.7 21.1 0.7 7 0.7 16 0.7 8.4 0.7 9.2 0.7 8.4 0.7 12 1.4 16.2 0.7 8.8 0.7 60.3 2.8 12.2 0.7 14 0.7 0.7 1.4 0.7 1.4 1.4 0.7 0.7 0.7 11.8 0.7 29.6 0.7 1.4 0.7 2.8 0.7 3.6 0.7 27.4 0.7 35.6 0.7 9.9 1.4 4.2 0.7 38.6 0.7 2.1 0.7 1.4 0.7 26.98" transform="rotate(-90 342.7 342.4)"/><circle cx="342.7" cy="342.4" r="268.3" stroke="#bce2bc" stroke-width="18" stroke-dasharray="0 24.5 2.1 4.2 0.7 23.2 0.7 12 0.7 7 0.7 3.5 0.7 6.3 0.7 2.8 0.7 1.4 0.7 3.6 0.7 7.7 0.7 0.7 0.7 4.2 0.7 7.8 0.7 7 0.7 6.3 0.7 7.7 0.7 7.1 0.7 14.1 0.7 7.7 0.7 16.9 0.7 9.1 0.7 1.4 0.7 5 0.7 35.8 0.7 0.7 0.7 4.9 0.7 2.8 0.7 2.8 0.7 3.5 0.8 5.6 0.7 19 0.7 43.5 0.7 18.2 0.7 5.6 0.7 3.5 0.7 4.3 0.7 33.2 0.7 1.4 0.7 3.5 0.7 2.8 0.7 13.4 0.7 0.7 0.7 4.2 0.7 2.1 0.7 16.2 0.7 11.3 0.7 3.5 0.7 2.8 0.7 0.7 0.7 15.5 0.7 34.6 0.7 4.9 0.7 6.3 0.7 5.7 0.7 0.7 0.7 3.5 0.7 9.8 0.7 7.7 0.7 2.1 1.4 3.5 0.8 22.2 0.7 0.7 0.7 0.7 0.7 2.1 0.7 38.6 0.7 3.5 0.7 0.7 1.4 16.9 0.7 1.4 0.7 14 0.7 0.7 0.7 16.5 0.7 0.7 0.7 13.3 1.4 16.9 0.7 8.4 0.7 8.4 0.7 15.4 0.7 8.4 0.7 13.7 0.7 0.7 0.7 5.6 0.8 8.4 0.7 4.9 0.7 13.3 0.8 12.6 0.7 5.6 0.7 10.6 0.7 2.1 0.7 5.6 0.7 25.5 0.7 1.4 0.7 2.8 0.7 0.7 0.7 6.3 0.7 7.7 0.7 19.6 0.7 4.9 0.7 10.5 0.7 15.5 0.7 21.2 0.7 11.2 0.7 2.9 0.7 2.8 0.7 7 0.7 18.3 0.7 21.7 0.7 0.7 0.7 11.9 0.7 5 0.7 9.1 0.7 0.8 0.7 2.1 0.7 5.6 1.4 24.7 0.7 19.4 0.7 7.8 0.7 15.4 0.7 5.6 0.7 0.7 0.7 9.2 0.7 1.4 0.7 12.6 0.7 0.7 0.7 3.5 0.8 6.3 0.7 32.2 1.4 1.4 1.5 7.7 0.7 7 0.7 4.9 0.7 32.9 0.7 0.7 0.7 2.8 0.7 4.2 0.7 17.6 0.7 11.3 0.7 14.8 1.4 2.1 0.7 36.1 0.7 0.7 0.7 0.7 0.7 21.8 0.7 7 1.4 50.6 0.7 9.8 1.4 50.1 0.7 3.5 0.7 9.9 0.7 20.7 0.7 1.4 0.7 0.7 0.7 12 0.7 10.6 0.7 6.4 0.7 4.3 0.7 20.9 0.7 11.2 0.7 22.08" transform="rotate(-90 342.7 342.4)"/><circle cx="342.7" cy="342.4" r="268.3" stroke="#def0de" stroke-width="18" stroke-dasharray="0 31.5 0.7 0.7 0.7 10.6 0.7 7.7 0.7 4.9 0.7 12 0.7 1.4 0.7 13.3 0.7 32.4 0.7 0.7 0.7 16.1 1.4 9.9 0.7 26.1 0.7 4.2 0.7 10.5 0.7 33 0.7 14.1 0.7 9.1 0.7 5.6 0.7 9.9 0.7 38.7 0.7 12.6 0.7 11.2 0.7 4.2 0.7 28.1 0.7 7.7 0.7 10.5 0.7 0.7 1.4 12.9 0.7 9.1 0.7 4.9 0.7 3.6 0.7 8.4 0.7 11.3 0.7 8.4 0.7 0.7 0.7 0.7 0.7 2.1 0.7 1.4 0.8 0.7 1.4 8.4 0.7 4.9 0.7 9.2 1.4 2.8 0.7 21.3 0.7 16.1 0.7 35.8 0.7 8.4 0.7 32.1 0.7 3.6 0.7 4.9 0.7 7 0.7 2.1 0.7 13.3 0.7 14 0.7 7.1 0.7 6.3 0.7 43.1 0.7 42.8 0.7 2.1 0.7 2.8 0.7 0.7 0.7 5.6 0.7 4.2 0.7 13.7 0.7 4.9 0.7 0.7 0.7 4.3 0.7 17.5 0.7 11.3 0.7 1.4 0.7 4.2 1.4 9.8 0.7 10.6 0.7 4.2 0.7 0.7 0.7 12.2 0.7 4.9 0.7 2.8 0.7 12.6 0.7 7.7 1.4 2.8 0.7 29.4 0.7 21.1 0.7 9.2 0.7 5.6 0.7 12 0.7 7 0.7 12.7 0.7 2.8 0.7 6.4 0.7 6.3 0.7 4.2 0.7 1.4 0.8 23.7 0.7 2.1 0.7 7.1 0.7 0.7 0.7 14.8 0.7 4.2 0.7 10.6 0.7 15.5 0.7 20.8 0.7 6.4 0.7 8.4 0.7 1.4 0.7 5.6 0.7 7.7 0.8 4.2 0.7 6.3 0.7 10.5 0.7 8.5 0.7 15.4 0.7 3.5 0.7 4.9 0.7 17.6 0.7 16.8 0.7 9.9 0.7 7 0.7 14.6 0.7 2.8 0.7 7 0.7 7.1 0.7 9.8 0.7 0.7 0.7 7.1 0.7 4.9 0.7 2.8 0.7 9.2 0.7 15.1 0.7 6.3 0.7 5.6 0.7 17.6 0.7 9.1 0.7 3.5 0.7 29.7 0.7 4.2 0.7 0.7 0.7 11.9 0.7 2.8 0.7 1.4 0.6 16.8 0.7 4.2 0.7 2.1 0.7 18.4 0.7 3.6 0.7 4.2 0.7 2.1 0.7 14.1 0.7 7 0.7 21.4 0.8 3.5 0.7 9.9 0.7 9.9 0.7 7 0.8 8.4 0.7 24.5 0.7 9.1 0.7 22.78" transform="rotate(-90 342.7 342.4)"/><circle cx="342.7" cy="342.4" r="268.3" stroke="#7ac47a" stroke-width="18" stroke-dasharray="0 35.7 0.7 1.4 0.7 0.7 0.8 4.9 0.7 6.3 0.7 16.9 0.7 28.8 0.7 1.4 2.1 20.4 0.7 8.4 0.7 6.3 0.7 4.9 0.8 32.4 0.7 2.8 0.7 9.1 0.7 6.3 0.7 7.8 0.7 1.4 0.7 11.2 0.7 2.1 0.7 0.7 0.7 2.1 0.7 1.4 1.4 18.3 0.7 13.4 0.7 7 0.7 23.9 0.7 1.4 0.7 2.1 0.7 2.8 0.7 0.7 0.8 1.4 0.7 2.1 0.7 9.8 0.7 7 0.7 4.9 0.7 21 0.7 9.9 0.7 7.7 0.7 0.7 0.7 10.5 0.7 29.8 1.4 2.8 0.7 1.4 0.7 19 0.7 0.7 0.7 8.4 1.4 5.7 0.7 14.7 0.7 2.2 0.7 23.3 0.7 3.6 0.7 12.6 0.7 16.8 0.7 29.5 0.7 13.4 0.7 4.2 0.7 13.8 0.7 1.4 0.7 5.7 0.7 3.5 0.7 2.1 1.4 3.5 0.7 1.4 0.7 2.1 0.7 8.4 0.7 26 0.7 7 0.7 9.8 0.7 1.4 0.7 11.6 0.7 0.7 0.7 2.1 0.7 4.9 0.7 4.2 0.7 2.8 0.7 14.8 0.7 7.7 0.7 2.1 0.7 5.6 0.7 1.4 0.7 6.3 0.7 5.6 0.7 14 0.7 2.1 0.7 19.3 0.7 0.8 0.7 9.8 2.1 8.4 0.7 4.2 0.7 7.8 0.7 13.3 0.7 0.7 0.7 3.5 0.7 1.4 0.7 0.7 0.8 7.7 0.7 12.2 0.7 6.3 0.7 8.4 0.7 3.5 0.7 4.9 0.7 3.5 0.7 2.1 0.7 0.7 0.7 5.6 0.7 4.2 0.7 2.1 0.7 4.9 0.7 1.4 0.7 0.7 0.7 0.7 0.7 7 0.7 7 0.7 23.3 0.7 11.2 0.8 8.4 0.7 11.3 0.7 19 0.7 1.4 1.4 3.5 0.7 18.8 0.7 24 0.7 4.2 0.7 16.9 1.4 0.7 0.7 1.5 0.7 2.1 0.7 19.7 0.7 0.7 0.7 25.1 2.8 0.7 0.7 10.5 0.7 2.1 0.7 17.6 0.7 6.3 0.7 12 0.7 21 0.7 1.4 0.7 0.7 0.7 6.3 1.4 9.9 0.7 1.4 0.7 2.8 0.7 2.8 0.7 37.7 0.7 9.2 0.7 0.7 1.4 15.5 0.7 9.2 0.7 0.7 0.7 16.2 1.4 5.6 0.7 17.2 0.7 11.2 0.7 2.8 0.7 14.8 0.7 3.5 0.7 4.2 0.7 4.9 0.7 0.7 0.7 0.7 0.7 4.2 0.7 16.4 0.7 7 0.7 1.4 0.7 2.1 0.7 9.1 0.7 0.7 0.7 5.5 0.7 18.9 0.7 22.6 0.8 9.8 0.7 9.2 0.7 18.3 0.7 13.7 0.7 16.2 0.7 6.4 0.7 2.1 0.7 3.5 0.7 2.2 0.7 5.6 0.7 1.4 0.7 15.4 0.7 9.8 0.7 4.2 0.7 4.9 0.7 19.98" transform="rotate(-90 342.7 342.4)"/><circle cx="342.7" cy="342.4" r="268.3" stroke="#ffffff" stroke-width="18" stroke-dasharray="0 36.4 0.7 14.1 0.7 1.4 0.7 51.3 0.7 78.8 0.7 16.1 0.7 64 0.7 4.2 0.7 11.3 0.7 11.9 0.7 4.2 0.7 1.4 0.7 9.9 0.7 17.5 0.7 12.6 0.7 27.4 0.7 71.9 0.7 30.2 1.4 9.9 0.7 14.2 0.7 20.4 0.7 58.3 0.7 32.1 0.7 44.1 0.7 9.2 0.7 6.3 0.7 22.8 0.7 4.2 0.7 1.4 0.7 5.6 0.7 2.1 0.7 8.4 0.7 12 0.7 4.9 0.7 6.3 0.7 44.5 0.7 50.6 0.7 11.2 0.7 3.6 0.7 29 0.7 47.6 0.7 27.4 0.7 43.7 0.7 7 0.7 35.7 0.7 7.8 0.7 7.7 0.7 2.2 0.7 12.6 0.7 12.7 0.7 12.7 0.7 1.4 2.1 33.6 0.7 1.4 0.7 44.2 0.7 43.5 0.7 19 0.7 10.5 0.7 1.4 0.7 67.4 0.7 67.8 0.7 1.4 0.7 15.4 0.7 31.8 0.7 31.4 0.7 106.7 0.8 3.5 1.4 28.8 0.7 2.8 1.4 39.58" transform="rotate(-90 342.7 342.4)"/><circle cx="342.7" cy="342.4" r="268.3" stroke="#cde9cd" stroke-width="18" stroke-dasharray="0 40 0.7 1.4 0.7 66 0.7 26 0.7 50.7 0.7 2.1 0.7 153.1 0.7 37.2 0.7 24.1 0.7 32.4 0.7 0.7 0.7 27.4 0.7 32.5 0.7 28.8 0.7 18.3 0.7 22.4 0.7 35.7 0.7 55.4 0.7 56.4 0.7 16.2 0.7 6.3 1.4 61.4 0.7 10.5 0.7 10.6 1.4 9.1 0.7 23.2 0.7 32.5 1.4 56.7 0.7 16.3 0.7 29.5 0.7 11.3 0.7 157.2 0.7 12.7 0.7 11.9 0.7 9.1 0.7 33.7 0.7 28.8 0.7 85.6 0.7 52.4 0.7 75.8 0.7 6.3 1.4 5.6 0.7 53.6 0.7 24.2 0.7 55.7 0.7 45.18" transform="rotate(-90 342.7 342.4)"/></g>
<g fill="none"><circle cx="342.7" cy="342.4" r="236.3" stroke="#b2b0db" stroke-width="29.4" stroke-dasharray="0 17.2 117 6.9 100.2 7.5 97 7 81.1 7.6 78.6 7.2 78.5 6.5 76.5 6.5 72.4 7.1 70.9 7.5 70.7 6.6 71.4 6.6 68.6 7.4 59.4 7.3 58.8 7.1 57.5 8.3 52.9 6.3 45.3 6.5 42.9 6.1 25.9 16.42" transform="rotate(-90 342.7 342.4)"/><circle cx="342.7" cy="342.4" r="236.3" stroke="#c0bee2" stroke-width="29.4" stroke-dasharray="0 18.9 0.8 13.2 0.8 11.5 0.9 2.4 0.9 10.7 1.6 5 0.8 0.8 0.8 0.9 1.6 33.8 1.6 0.8 0.9 9 1.7 34.9 0.9 35.6 1.6 1.7 0.8 2.5 2.5 2.5 0.8 35.6 2.5 15.7 0.9 3.2 0.9 0.8 0.8 0.8 1.7 35.3 0.8 11.5 0.8 1.7 0.8 9.9 0.8 2.5 0.8 13.1 1.7 8.6 0.9 29.8 0.8 3.3 0.9 9.1 0.8 9.9 0.9 9.9 0.8 6.7 0.8 46.4 0.9 1.6 0.8 2.5 0.8 15.7 0.9 0.8 0.8 41.2 0.8 4.9 0.9 9 0.9 4.9 0.9 19.8 0.8 3.3 1.7 0.8 0.8 1.7 0.8 3.3 0.8 6.6 0.8 32.1 1.6 6.6 0.8 12.4 0.8 12.3 0.8 36.2 2.5 23 0.8 0.8 0.9 27.9 1.7 21.1 0.8 1.7 0.8 18.1 2.5 2.5 0.8 0.8 1.7 4.1 2.5 0.8 1.6 3.3 1.7 0.8 0.8 41.2 0.8 0.9 0.8 4.9 0.8 4.2 0.8 4.1 0.8 0.8 0.9 1.6 0.8 3.3 0.8 0.8 0.9 16.4 3.3 54.7 0.9 2.5 1.6 1.7 0.8 3.3 0.8 0.9 0.8 2.5 2.5 0.8 0.8 24.9 1.6 8.3 1.6 3.4 0.8 7.4 0.9 20.6 0.9 0.8 0.8 26.4 0.8 1.7 2.5 1.6 0.8 13.2 0.8 0.9 1.6 2.5 0.8 3.3 0.8 30.4 0.9 36.5 0.8 0.8 1.7 25.3 0.8 0.8 0.8 1.7 0.8 6.6 0.8 1.6 2.5 5.7 1.7 0.8 1.6 5 0.8 2.5 0.8 2.4 0.9 8.2 0.8 14 1.7 3.3 0.8 14 0.9 0.8 0.8 0.9 0.8 3.3 1.6 0.9 0.8 14.1 0.8 29.4 0.8 0.9 1.6 12.4 0.8 6.6 1.6 0.8 0.9 26.2 1.6 1.7 0.8 0.9 0.8 0.8 0.8 5 0.8 0.8 0.9 3.3 0.8 36.1 0.9 18.02" transform="rotate(-90 342.7 342.4)"/><circle cx="342.7" cy="342.4" r="236.3" stroke="#b9b7df" stroke-width="29.4" stroke-dasharray="0 19.7 0.8 1.7 0.8 1.7 0.8 18.1 1.6 0.9 2.4 4.2 0.8 4.9 1.7 1.6 4.1 1.7 0.8 3.3 0.8 14.9 0.8 14.8 1.6 2.5 0.8 0.9 0.8 6.6 1.6 1.7 0.8 1.6 0.9 0.8 0.8 16.8 0.8 6.6 1.7 3.3 0.8 0.9 1.6 4.2 0.8 0.8 0.9 0.8 4.1 1.7 0.8 1.7 2.4 0.9 1.6 7.5 1.6 1.7 2.5 5 0.8 3.3 2.5 0.8 0.8 30.7 0.8 0.8 0.9 11.6 0.8 0.9 0.8 4.9 0.8 5 0.8 0.8 0.8 2.5 1.6 13.2 0.8 27.1 0.8 0.9 0.8 2.4 0.9 1.6 0.8 0.9 0.8 6.6 0.8 0.8 2.5 0.8 0.8 7.4 1.6 67.5 1.6 3.3 0.9 3.3 3.3 0.8 0.9 0.8 0.8 8.3 0.8 16.7 0.8 5 0.8 1.7 0.8 0.8 0.8 13.3 0.8 2.5 0.8 0.8 0.9 0.8 0.8 2.5 2.5 9.1 0.8 0.8 0.8 0.9 0.8 1.7 2.4 23.8 0.8 8.3 4.1 1.7 1.6 0.9 0.8 0.8 0.8 1.7 1.6 1.7 0.8 5 0.8 2.5 0.8 1.7 0.8 0.8 0.8 1.7 2.5 0.8 1.6 5 0.8 0.8 0.9 4.9 0.8 3.4 0.8 0.8 1.7 4.9 0.8 6.6 0.9 17.2 0.8 2.5 0.8 2.5 2.5 1.6 0.8 0.8 1.7 2.5 0.8 4.1 0.8 0.8 2.5 13.2 0.8 5.7 0.9 28.7 0.8 0.9 1.6 9.9 0.8 0.8 0.8 9.1 0.8 0.8 0.9 4.1 0.8 2.5 0.8 1.6 0.8 4.2 0.8 17.3 0.8 4.9 0.8 18.7 0.8 6.6 0.8 2.5 0.8 7.4 0.8 4.2 1.6 4.1 0.9 3.3 1.6 1.7 0.8 4.9 3.3 3.3 1.7 4.1 0.8 0.8 1.7 29.7 0.8 2.4 0.9 1.6 2.5 0.8 0.8 2.5 0.8 3.3 2.5 5.7 0.8 3.3 0.8 1.7 0.8 0.8 1.7 0.8 0.8 1.7 0.8 5.7 0.9 4.9 2.5 8.3 0.8 2.5 1.6 15 0.8 0.8 0.9 0.8 0.8 2.5 3.3 0.9 1.6 7.5 0.8 0.8 1.7 3.3 0.9 1.6 1.7 1.6 2.5 2.5 0.8 5.8 0.9 0.8 1.7 9.1 0.8 0.8 2.5 5.8 0.8 4.1 0.9 4.9 1.7 1.6 0.9 0.8 0.8 6.6 0.9 0.8 0.8 1.7 1.6 0.9 0.8 2.5 0.8 0.8 1.7 0.8 0.8 2.5 0.8 1.7 1.7 0.8 0.8 4.1 0.9 0.8 0.8 0.9 0.8 2.5 0.8 15.6 2.5 0.8 1.7 2.5 0.8 1.6 0.8 7.5 1.6 12.4 0.8 15.7 1.6 24.7 2.5 1.7 0.8 14.1 0.8 0.8 0.9 1.6 0.9 0.8 1.7 0.8 0.8 1.7 0.8 1.7 5.8 1.6 2.5 7.9 1.7 0.8 0.8 4.1 1.7 0.8 0.8 7.4 0.8 15.6 1.7 2.4 0.9 0.8 1.6 11.5 0.8 14.1 1.6 2.5 1.6 11.6 0.8 0.9 0.8 0.8 0.9 0.8 0.8 1.7 0.8 3.3 0.8 17.4 0.8 31.1 0.8 13.2 0.8 1.6 0.9 3.3 0.8 0.8 0.8 23 0.8 1.6 1.7 0.8 0.9 0.8 0.8 0.8 5 0.8 0.8 0.9 1.6 15.2 0.8 6.7 1.7 9.2 2.5 3.4 0.8 17.22" transform="rotate(-90 342.7 342.4)"/><circle cx="342.7" cy="342.4" r="236.3" stroke="#a8a4d5" stroke-width="29.4" stroke-dasharray="0 21.4 0.8 0.8 0.8 1.7 1.6 7.4 0.9 0.8 0.8 0.8 0.9 2.4 0.8 9.1 0.8 1.7 0.8 0.8 1.7 16.4 1.7 3.3 1.6 5 0.8 4.1 3.3 0.8 1.7 0.8 3.3 0.8 1.7 7.4 3.3 2.5 0.8 8.2 1.7 0.8 0.8 1.7 4.9 7.7 2.5 0.8 0.9 11.6 0.8 9.9 1.7 7.4 0.9 2.4 1.7 0.8 0.9 19.8 0.9 7.4 0.8 0.9 1.6 3.3 0.9 0.8 0.8 0.9 0.8 3.3 0.8 1.7 1.6 0.9 0.8 22.4 1.6 9.9 0.8 2.5 1.6 1.6 0.9 4.1 0.8 5.7 0.9 4.1 0.8 3.3 1.6 0.9 1.6 0.8 0.8 3.3 0.8 0.9 0.8 0.8 4.1 10.7 2.5 1.6 0.8 7.4 0.8 0.9 0.8 0.8 0.8 0.9 0.8 20.2 3.3 0.8 0.9 0.8 2.5 3.3 0.8 2.5 0.8 0.8 1.7 4.1 1.7 0.8 0.9 2.4 0.9 2.5 0.8 1.6 1.7 3.3 0.8 3.3 0.9 0.8 0.8 1.7 0.8 4.2 2.4 2.5 0.9 7.4 0.8 8.3 0.8 10.1 0.8 2.5 0.9 4.1 0.8 5.8 0.8 1.7 0.8 1.7 0.8 0.8 0.8 5 2.5 14 0.9 2.4 0.9 0.8 1.6 11.6 1.7 1.6 1.7 0.8 1.7 42.7 0.8 1.7 0.8 21.5 0.8 0.8 0.9 16.5 0.8 0.8 0.9 10.6 0.9 5.7 0.8 1.7 0.8 0.8 0.9 4.1 0.8 10.7 3.3 4.9 0.8 0.8 1.7 5.7 0.9 0.8 0.8 0.8 0.9 1.6 2.5 3.3 1.6 3.3 1.6 0.9 1.6 1.6 0.9 14.7 0.9 2.4 0.9 4.1 0.8 0.8 0.8 0.9 0.8 6.6 0.8 0.8 1.6 0.9 1.6 5.8 0.8 16.4 0.9 1.6 2.5 6.6 0.8 0.8 0.8 18.6 2.5 1.7 2.4 9.1 0.8 3.3 0.8 0.9 0.8 1.6 1.7 3.3 0.8 30.5 1.7 7.4 0.8 14.9 1.6 5.8 1.6 9.9 0.8 27.1 0.8 2.5 0.8 26.5 0.8 1.7 0.8 4.1 1.7 5.8 0.8 15 1.6 0.9 0.8 0.8 0.8 10 0.8 28.2 0.8 0.8 1.7 0.8 0.9 10.7 0.8 8.3 0.8 16.6 0.8 0.8 0.9 14 0.9 4.1 0.8 9.9 2.5 14.8 0.8 2.5 0.8 3.3 1.7 9 1.7 2.5 1.6 2.5 3.3 19.6 0.9 3.3 0.8 2.5 3.3 13.3 0.8 0.9 0.8 3.3 1.7 20.7 0.8 22.8 0.8 62.5 0.8 0.9 0.8 5.8 0.8 13.2 1.7 0.8 1.7 14 0.8 0.9 0.8 7.2 2.4 1.7 0.8 3.3 0.8 1.7 1.6 10.7 1.7 2.4 0.9 0.8 1.6 1.7 0.8 18 1.6 0.8 1.7 0.8 2.5 4.9 0.9 0.8 0.8 0.8 0.9 20.6 0.8 0.9 4.1 6.9 0.9 1.6 0.9 1.7 0.8 3.3 2.5 29.82" transform="rotate(-90 342.7 342.4)"/><circle cx="342.7" cy="342.4" r="236.3" stroke="#908ac7" stroke-width="29.4" stroke-dasharray="0 23.8 0.9 57.6 0.8 140.8 0.8 12.5 0.8 11.6 0.9 23 1.6 17.3 0.8 74.5 0.8 0.8 0.9 8.3 0.8 15.7 0.9 4.1 0.8 24 1.7 0.8 0.9 39.8 0.8 7.5 0.8 23.1 0.9 9.9 0.8 1.7 0.8 104.6 0.8 5 0.8 26.3 0.8 25.5 1.6 0.9 0.8 0.8 0.8 0.9 1.6 18.9 0.8 6.6 0.8 46.9 0.8 18.6 0.9 4.1 0.8 3.3 0.8 29.7 0.8 34.7 0.8 0.8 0.9 2.4 1.7 6.5 0.9 73.3 2.5 0.8 0.8 1.7 0.8 77.9 0.9 30.6 0.8 26.4 0.8 52.8 0.8 33 0.8 0.8 4.2 118.4 0.8 5 0.8 9.9 0.9 50 0.9 33.6 0.8 6.6 0.8 40.9 1.7 6.6 0.9 2.5 1.7 24.72" transform="rotate(-90 342.7 342.4)"/><circle cx="342.7" cy="342.4" r="236.3" stroke="#9d99cf" stroke-width="29.4" stroke-dasharray="0 27.1 1.7 0.8 3.3 2.5 0.8 0.8 0.8 0.9 2.4 13.2 0.8 19.8 1.6 0.9 0.8 1.6 0.9 8.2 0.8 3.3 0.8 19 1.6 32.5 0.8 34.8 0.8 21.6 4.1 0.8 2.5 10.8 0.8 0.8 0.9 6.6 0.8 42.1 2.5 0.8 0.8 5.8 0.8 9 0.9 27.1 1.6 42.5 0.8 0.8 0.8 1.7 0.8 5 1.7 0.8 0.8 2.5 0.8 10.8 0.8 0.9 0.8 9.9 0.8 6.7 1.6 0.9 0.8 12.4 0.8 20.9 0.8 8.2 0.9 3.3 0.8 0.8 1.7 0.8 2.5 17.4 1.6 18.2 0.8 5 5.8 25.4 0.8 9.1 0.8 3.3 1.7 15.7 0.8 0.8 0.8 21.5 0.8 12.4 0.8 0.8 1.7 0.8 0.8 13.2 0.8 19.7 4.9 18.1 0.9 4.9 0.8 3.3 3.3 17.2 0.9 8.2 0.8 1.6 0.9 30.4 0.8 0.8 4.2 0.8 0.8 18.6 0.8 2.5 0.8 17.3 0.9 57.7 0.8 0.9 0.8 0.8 0.8 3.3 1.7 0.8 0.8 0.8 0.8 72.5 0.9 26.5 1.7 1.6 0.9 53 0.8 2.5 0.8 9.9 0.9 46.2 1.7 47.8 3.3 0.8 0.9 11.4 0.8 2.5 1.6 0.9 0.8 2.5 0.8 4.2 0.8 6.6 0.8 6.7 0.8 112.6 0.9 2.4 2.5 0.8 0.9 15.7 0.8 6.6 0.8 17.1 0.9 2.4 0.9 1.6 3.3 0.8 0.8 14.9 2.4 0.9 0.8 4.9 0.8 24.6 3.3 26.4 0.9 11.9 0.8 10.9 2.5 1.7 0.8 2.5 1.7 19.72" transform="rotate(-90 342.7 342.4)"/><circle cx="342.7" cy="342.4" r="236.3" stroke="#deddf0" stroke-width="29.4" stroke-dasharray="0 28.8 0.8 500.2 0.8 20.7 0.8 82.4 0.8 67.4 0.9 34.5 0.8 125 0.8 33.7 0.8 91.9 0.8 217.3 0.8 17.8 0.8 22.2 0.8 12.4 0.8 165.4 0.8 54.22" transform="rotate(-90 342.7 342.4)"/><circle cx="342.7" cy="342.4" r="236.3" stroke="#7066b4" stroke-width="29.4" stroke-dasharray="0 51.8 0.9 28.8 0.8 17.3 0.8 254.9 0.8 72.9 0.8 443.1 0.8 114 0.9 11.6 0.8 104.1 0.8 72.6 0.9 305.82" transform="rotate(-90 342.7 342.4)"/><circle cx="342.7" cy="342.4" r="236.3" stroke="#c9c7e6" stroke-width="29.4" stroke-dasharray="0 65.8 0.9 2.4 0.9 50.2 0.8 42.5 0.8 7.4 0.9 2.4 0.9 17.4 0.8 0.8 0.9 0.8 0.8 35.6 0.9 4.1 0.8 20.7 1.6 37.8 0.9 12.3 1.6 27.1 2.5 57.5 0.8 78 0.8 1.6 1.7 44.4 1.7 0.8 4.2 31.3 0.9 26.4 3.3 1.6 0.9 15.6 0.8 128.3 0.8 14 0.8 0.8 3.3 2.5 0.8 17.8 2.5 1.6 0.9 21.4 1.6 6.6 0.9 3.3 0.8 85.6 0.8 6.6 0.8 58.9 1.6 11.6 0.9 28.1 1.7 12.4 0.8 0.8 0.9 9.1 0.8 17.4 0.8 0.8 0.8 0.9 0.8 0.8 0.8 31.4 0.8 1.6 0.9 12.3 0.9 1.6 2.5 84.3 0.8 17 0.8 14.8 0.8 0.8 4.1 4.1 0.9 9.8 0.8 0.9 0.8 0.8 1.7 1.6 3.3 3.3 0.8 14.8 0.9 19.8 1.7 65.7 0.8 6.6 0.8 1.7 0.8 98.62" transform="rotate(-90 342.7 342.4)"/><circle cx="342.7" cy="342.4" r="236.3" stroke="#8078be" stroke-width="29.4" stroke-dasharray="0 102.1 0.8 1.6 0.9 65.5 0.8 37.3 0.8 15.8 0.8 84 0.9 46.5 0.8 21.5 0.8 10 0.8 34.8 0.8 154.5 0.8 34.7 0.8 48.5 0.8 15.6 0.9 18 0.8 34.6 0.8 59.8 0.8 6.6 0.8 8.3 0.8 42.1 0.8 73.2 0.9 11.6 0.8 68.8 0.8 10.8 0.8 0.9 0.8 131.1 0.8 127.6 0.8 197.42" transform="rotate(-90 342.7 342.4)"/><circle cx="342.7" cy="342.4" r="236.3" stroke="#d4d2eb" stroke-width="29.4" stroke-dasharray="0 159.3 0.8 32.3 0.9 64.6 0.8 56.7 0.8 20.5 0.9 5.7 0.8 60 0.9 91.1 0.8 43.6 0.9 25.6 0.8 158.8 0.8 11.5 0.9 17.2 0.9 192.5 0.8 118.5 0.8 93.9 0.9 74 0.8 21.4 0.8 2.5 0.8 33.8 0.8 52.6 0.9 131.52" transform="rotate(-90 342.7 342.4)"/></g>
<g fill="none"><circle cx="342.7" cy="342.4" r="197.75" stroke="#f58632" stroke-width="29.9" stroke-dasharray="0 14.4 97.9 5.8 83.8 6.3 81.2 5.8 68 6.3 65.7 6.1 65.6 5.5 64 5.5 60.6 5.9 59.3 6.3 59.1 5.6 59.7 5.5 57.5 6.2 49.7 6.1 49.2 6 48.1 6.9 44.3 5.3 37.9 5.4 35.9 5.1 21.7 13.8" transform="rotate(-90 342.7 342.4)"/><circle cx="342.7" cy="342.4" r="197.75" stroke="#fccaa4" stroke-width="29.9" stroke-dasharray="0 14.4 0.8 5.3 0.8 12.9 0.7 15.9 0.8 1.5 0.8 12.9 1.5 2.3 0.7 31.9 0.8 75.1 0.7 39.8 0.8 1.5 0.7 5.3 0.8 37.2 0.7 11.4 0.7 2.3 0.8 3 0.8 16.5 0.8 3 0.8 3.8 0.8 6.1 0.7 60.5 0.7 2.3 0.7 9.1 0.8 1.5 0.7 6.1 0.7 9.8 0.8 31 0.8 53.4 0.8 6.1 0.8 24.5 0.7 3.1 0.8 6.1 1.5 32 0.7 13.1 0.8 39.3 0.8 6.8 0.8 50.7 0.8 6.9 0.7 3.1 0.7 19.9 0.8 14.4 0.8 29.5 0.8 34.3 0.8 18.9 0.7 3 0.8 22.9 0.8 33.2 0.8 60.2 0.8 4.6 0.7 17.6 0.7 9.9 0.7 43.9 0.8 19.1 0.7 58.1 0.7 17.6 0.8 7.6 0.7 12.1 0.8 103.9" transform="rotate(-90 342.7 342.4)"/><circle cx="342.7" cy="342.4" r="197.75" stroke="#f17c26" stroke-width="29.9" stroke-dasharray="0 15.2 3 1.5 0.8 6.1 0.7 9.1 1.5 16.7 0.8 3 1.6 0.7 0.8 3.8 1.5 1.5 0.8 0.7 0.8 1.5 2.3 4.5 0.8 0.7 0.8 3 0.8 1.5 0.8 3 3.8 3 0.8 1.5 1.5 9.1 0.8 8 0.8 8.4 0.7 8.4 2.3 15.3 0.7 4.6 1.5 0.8 0.8 3.8 0.7 4.6 2.3 0.8 0.7 16 0.8 1.5 0.8 0.7 0.8 3.1 1.5 11.6 0.7 0.8 0.7 0.8 0.8 6 2.3 1.5 1.5 1.6 0.7 3.8 0.8 0.7 0.8 0.7 0.8 0.8 1.5 2.2 0.8 2.3 0.7 6.1 1.5 0.8 1.5 3 1.5 0.8 0.8 1.5 0.7 3.8 0.8 2.3 0.7 1.5 0.8 2.3 1.5 18 0.8 8.4 0.7 0.8 2.3 0.7 0.8 0.8 0.7 7.7 0.7 1.5 0.8 7.6 0.8 7.6 0.8 3.8 0.8 0.7 0.8 1.5 0.8 3.8 0.8 0.7 0.8 3.8 0.8 10.9 0.8 4.5 0.7 2.3 0.8 7.5 2.3 2.3 0.7 6.8 0.8 0.7 0.8 2.2 0.8 0.8 1.5 0.7 1.5 1.5 0.8 1.5 0.8 7.5 1.5 2.3 0.7 0.8 0.8 0.7 2.3 2.2 0.8 2.3 0.7 10.7 0.7 1.6 0.7 5.4 1.5 1.5 1.6 0.7 0.8 13.7 0.8 1.5 2.3 5.3 0.8 19.9 0.7 7 2.3 9.9 1.5 6.1 0.8 6.1 0.8 3.8 0.7 0.8 0.7 19.1 1.5 21.5 0.7 0.8 0.7 3.8 0.8 5.3 0.7 2.3 0.8 0.7 0.8 0.7 0.8 12.9 0.7 0.8 0.7 13.7 0.7 5.3 0.8 8.2 0.8 1.5 0.7 2.3 0.8 1.5 1.5 0.8 0.7 1.6 0.7 3.8 0.8 0.7 0.8 0.8 0.7 5.4 0.7 0.8 1.5 1.5 1.5 0.8 2.3 7.6 0.8 0.7 0.8 5.3 0.8 5.3 0.7 8.6 0.7 7.6 0.8 3.8 0.7 2.3 0.7 1.6 0.7 3.8 1.5 13.7 1.5 0.8 0.7 3.8 0.8 0.7 0.8 4.5 1.6 1.5 0.7 7.1 0.8 0.7 0.8 0.7 0.8 8.3 0.8 4.5 1.5 2.3 2.2 8.3 0.8 0.8 1.5 0.7 2.3 3.8 1.5 4.5 1.5 4.6 0.7 3 0.8 10.1 0.7 4.6 0.7 0.8 0.7 0.8 0.7 6.1 0.7 1.5 1.6 1.5 0.7 1.5 0.8 10.6 1.5 13.6 0.8 3.7 0.8 10 0.8 1.5 0.8 3 0.8 0.7 3.1 0.8 0.7 3.1 0.8 5.3 2.3 0.8 0.7 0.8 0.8 3.8 0.7 5.4 0.8 3.8 0.8 2.2 1.6 6.8 0.8 1.5 0.7 4.6 0.8 9.8 1.5 4.6 0.7 16.7 0.8 0.7 0.8 25 0.7 2.3 0.8 0.8 0.7 3.1 2.3 3.8 0.8 5.3 2.3 3 0.8 27.5 1.6 1.5 1.5 1.5 2.3 8.4 0.8 3.8 0.8 1.5 0.8 1.5 0.8 10.6 0.8 6.8 1.5 2.3 2.2 3.8 0.8 1.5 0.8 2.2 1.6 0.7 2.3 0.7 1.6 0.7 0.8 2.2 0.8 12.3 0.7 1.5 0.8 5.4 0.7 3.8 0.8 5.4 0.7 0.8 1.5 14.3 0.8 5.2 0.7 28.8" transform="rotate(-90 342.7 342.4)"/><circle cx="342.7" cy="342.4" r="197.75" stroke="#d25406" stroke-width="29.9" stroke-dasharray="0 19 0.7 127.3 0.8 136.3 0.7 27.2 0.8 71.8 0.8 167.4 0.8 54 0.8 4.5 0.8 6.8 0.8 4.5 0.8 65.2 0.7 21.5 0.7 0.8 0.8 250.8 0.8 9.9 0.7 7.6 0.8 35.5 0.8 110.6 0.8 108.4" transform="rotate(-90 342.7 342.4)"/><circle cx="342.7" cy="342.4" r="197.75" stroke="#f7954b" stroke-width="29.9" stroke-dasharray="0 21.3 0.7 0.8 0.7 2.3 0.8 0.7 0.8 12.1 2.3 1.5 2.3 1.5 3 3.1 0.7 2.3 0.8 5.3 0.7 24.3 1.5 4.6 1.5 8.4 0.7 0.8 0.7 2.3 0.8 12.6 3 0.8 1.5 5.4 0.7 1.5 0.8 0.8 0.7 3.8 1.6 0.7 0.8 1.5 0.8 9.9 0.8 6.8 1.5 4.6 0.8 10.7 0.7 1.5 0.8 5.3 0.8 4.6 0.7 2.3 1.6 31.3 1.5 3.8 0.7 3.8 1.5 4.6 0.8 0.7 0.8 21.2 0.8 3 2.3 5.3 1.5 2.3 0.7 12 2.3 12.9 0.8 10.7 0.8 1.5 1.5 2.3 2.3 4.6 0.7 1.6 1.5 6.9 0.7 3.1 0.7 6.1 2.3 9.4 1.5 3.8 0.8 6.8 0.7 4.5 0.8 9.1 0.7 8.3 1.5 3.1 0.7 0.8 1.5 0.7 1.5 0.8 0.8 2.2 0.8 3.8 0.7 3.8 0.7 0.8 0.8 9.1 0.7 1.5 1.6 3 0.8 0.8 0.7 13.8 0.7 2.3 1.5 2.3 0.8 2.3 1.5 3.1 0.7 5.4 1.5 0.8 2.2 0.8 2.3 0.8 0.7 0.8 0.8 3 0.8 0.7 0.8 25.3 0.8 0.7 0.8 6.8 0.8 9.1 0.8 0.8 1.5 3 0.8 3 0.8 3.1 1.5 9.9 1.5 1.5 0.8 0.8 0.7 5.5 0.8 2.2 1.5 3.8 0.8 2.3 0.7 1.5 2.3 7.6 0.7 0.8 0.7 6.9 1.5 2.2 1.6 2.2 0.8 5.3 0.7 0.8 0.8 0.7 1.5 3.8 1.5 0.8 0.7 0.8 0.8 16.5 0.8 14.5 0.7 2.3 0.8 0.7 0.8 1.5 1.5 6.9 0.7 0.8 0.7 2.3 0.8 3.8 0.8 2.2 0.8 0.8 0.7 3.1 0.7 16.9 0.7 6.9 0.7 1.5 0.8 6.8 1.6 2.2 0.8 1.5 1.5 3.8 1.5 12.9 0.8 3 0.8 1.5 0.7 10.9 0.7 0.8 0.8 8.3 0.7 3.1 0.7 3.8 1.5 2.3 0.7 0.8 0.7 15.9 0.8 2.2 0.8 2.3 1.5 0.7 0.8 0.7 0.8 2.3 0.7 7 0.8 3.8 0.7 0.8 0.8 4.5 2.3 0.7 2.3 4.5 0.8 1.5 0.7 1.6 1.5 3 0.7 0.8 2.3 11.3 0.8 21.3 0.8 11.5 0.7 4.6 1.5 7.7 0.8 5.3 0.8 0.7 0.8 1.5 0.8 15.2 0.8 6.1 0.7 0.8 0.7 14.4 0.8 5.3 1.5 1.5 0.8 1.5 0.8 1.5 0.7 4.6 2.3 0.7 0.8 6.7 0.7 6.9 0.8 5.3 0.8 3.8 0.8 12.2 0.7 1.6 0.7 5.4 0.7 0.8 0.8 0.7 0.8 2.3 0.8 0.7 0.8 6.9 0.8 1.5 0.7 0.8 2.3 0.8 1.5 3.8 0.8 14.5 0.7 0.8 0.8 2.3 0.7 5.4 0.7 1.6 0.7 8.4 0.7 2.3 3 2.3 0.8 22 0.7 5.3 0.8 14.5 0.8 9.2 0.7 7.7 0.8 0.7 1.5 11.3 1.4 1.5 0.8 0.7 0.8 0.7 0.8 6 0.7 5.3 0.7 0.8 0.7 13.8" transform="rotate(-90 342.7 342.4)"/><circle cx="342.7" cy="342.4" r="197.75" stroke="#e56711" stroke-width="29.9" stroke-dasharray="0 22 0.8 32.6 0.8 12.9 0.7 16 0.7 52.9 0.8 68.8 1.5 56.9 0.7 19.7 1.6 25.7 0.7 13 0.8 51.2 0.8 71.1 0.8 12.2 1.5 6.2 0.7 31.3 0.8 21.5 0.7 2.3 0.8 35 0.8 41.1 0.8 45.3 0.8 59.4 0.8 22.8 0.7 70.7 0.7 7.6 0.8 35.7 0.8 39.3 0.8 116.5 0.7 67.1 0.8 162.5" transform="rotate(-90 342.7 342.4)"/><circle cx="342.7" cy="342.4" r="197.75" stroke="#f9a464" stroke-width="29.9" stroke-dasharray="0 28.1 1.5 1.5 0.8 0.7 1.6 4.5 1.5 21.3 1.5 0.7 0.8 17.5 0.7 4.6 0.7 16.7 0.8 14.1 0.8 0.7 0.8 5.3 0.8 2.3 0.7 2.3 0.8 12.2 0.7 0.8 0.8 22.1 0.7 5.4 0.7 3.1 0.8 67.8 0.7 14.4 1.6 17.4 0.8 2.2 0.8 25.7 0.7 5.4 0.8 3.8 0.7 12.2 0.8 6.9 0.7 3.1 0.8 9.9 0.7 2.3 0.8 20.7 0.8 1.5 0.7 8.3 2.3 0.8 0.7 7.6 0.7 11.3 0.8 3.8 1.5 19.7 0.7 11.5 0.8 4.5 0.8 1.5 0.8 6.9 0.7 6.9 0.8 5.3 0.8 9.1 0.8 2.3 0.7 4.6 0.8 12.3 1.6 0.7 6.1 10.7 0.7 1.6 1.5 2.3 0.7 0.8 0.8 5.3 0.8 11.4 0.7 24.5 0.8 24.2 0.8 1.5 0.8 3 0.7 4.6 0.7 0.8 0.8 3.7 0.8 4.5 0.8 3 0.8 0.7 0.8 0.8 0.7 6.7 0.8 39.5 0.8 9.1 1.5 20.7 0.8 0.7 0.8 2.3 1.5 15.9 0.8 1.5 0.7 12.9 0.8 0.8 0.7 0.8 0.7 3.1 0.7 14.7 0.7 10.6 1.5 15.1 0.8 14.4 0.7 4.5 1.6 3 0.7 10.1 0.7 28.8 0.7 1.5 0.8 8.3 1.5 12.9 0.7 28.4 0.8 2.2 0.8 7.7 0.7 1.5 0.8 1.5 0.8 6.1 0.8 1.5 0.8 13.7 0.7 5.3 0.8 0.7 0.8 8.3 0.8 0.8 0.7 14.4 0.8 16.5 0.8 0.8 1.5 8.4 1.5 3.1 0.7 46.7 0.7 16.8 0.8 8.4 0.7 13.7 0.8 4.5 0.8 10.6 1.5 3.8 0.8 12.9 0.7 8.5 0.7 5.4 0.7 12.3 0.7 6.2 0.7 1.5 0.8 12.7 0.7 8.3 0.7 22.8" transform="rotate(-90 342.7 342.4)"/><circle cx="342.7" cy="342.4" r="197.75" stroke="#fbb681" stroke-width="29.9" stroke-dasharray="0 31.9 0.7 13.7 0.8 5.3 0.7 4.6 0.7 81.8 0.7 3.9 0.7 39.7 2.3 9.1 0.8 3.8 0.7 35.9 0.8 24.2 0.8 15.9 0.8 37.8 0.8 6.9 0.7 9.2 0.7 17.6 0.8 98.7 0.8 25.9 0.8 12.2 0.8 32.1 0.8 17.5 0.8 1.5 0.8 21.3 0.8 0.7 0.8 38.1 2.2 12.1 0.8 0.8 0.7 7.6 0.7 28 0.8 39.5 0.8 13.8 1.5 0.8 0.8 62.4 0.7 1.5 0.8 4.5 0.8 0.8 0.7 9.8 0.8 1.5 0.8 18.1 0.8 4.5 0.7 29.8 0.7 23.5 0.7 6.1 0.7 3 0.8 19.9 0.7 13 0.8 105.6 0.8 56.5 0.8 6.8 0.8 56.2 0.8 16.8 0.8 1.5 0.8 16 0.8 15.7 0.8 32.5" transform="rotate(-90 342.7 342.4)"/><circle cx="342.7" cy="342.4" r="197.75" stroke="#dc5e0c" stroke-width="29.9" stroke-dasharray="0 35.7 0.7 15.2 0.8 100.7 0.8 5.3 0.8 31.3 0.7 26.8 0.8 104.6 0.8 4.6 0.7 19.1 0.8 224.7 0.8 76.5 0.8 43.3 0.8 29.8 0.7 3.8 0.8 15.9 0.8 57 0.8 66 0.7 18.9 0.8 16.8 0.7 7.7 0.7 75.4 0.8 3.8 0.7 178.2 0.8 33.3 0.7 30.3" transform="rotate(-90 342.7 342.4)"/><circle cx="342.7" cy="342.4" r="197.75" stroke="#fddec6" stroke-width="29.9" stroke-dasharray="0 42.5 0.8 32.6 0.7 34.2 0.7 6.6 0.7 30.5 0.8 7.6 0.8 19 0.8 14.5 0.8 36.6 0.8 336.3 0.7 48 0.7 104.9 0.7 121.6 0.8 18.1 0.8 210.8 0.7 112 0.8 3 0.8 28.5 0.8 0.7 0.8 20.5" transform="rotate(-90 342.7 342.4)"/><circle cx="342.7" cy="342.4" r="197.75" stroke="#ec711a" stroke-width="29.9" stroke-dasharray="0 47.1 0.7 23.5 0.8 2.3 1.5 3.8 0.7 0.8 0.8 1.5 0.7 0.8 0.8 23.5 0.7 1.5 0.8 16.4 0.8 14.5 0.8 3.8 0.7 1.6 2.2 2.3 0.8 5.3 0.8 0.8 0.7 1.5 1.6 0.7 0.8 3 0.8 2.3 0.8 6.8 1.5 6.9 0.8 16.9 0.8 15.9 1.5 6.8 0.8 6.1 0.7 2.3 2.3 8.3 0.8 1.5 1.5 3 0.8 10.6 1.5 5.3 0.8 17.3 0.7 11.5 0.7 6.1 0.8 4.6 0.7 34.4 0.7 22.3 1.5 11.4 0.7 8.3 0.8 27.9 0.8 20.5 0.8 6.9 0.7 0.8 0.7 8.4 1.6 9.9 2.3 22.9 0.7 24.6 0.7 1.6 0.7 7.6 0.8 13.7 0.8 33.6 0.7 9.1 0.8 0.7 0.8 0.8 0.7 50.7 0.7 5.3 0.8 4.6 0.7 0.8 0.7 4.6 0.8 76.1 1.5 64.6 1.5 1.5 0.8 5.3 0.7 57.7 0.8 8.3 0.7 1.6 0.7 13 0.8 0.7 0.8 3.8 1.6 5.3 0.8 3 0.8 3.1 0.7 4.6 0.8 0.7 0.8 6.1 0.8 4.6 0.7 5.4 0.7 28.1 0.8 9.1 0.7 5.3 0.8 3.8 1.5 0.8 0.7 3.1 0.7 28.1 0.8 3.8 0.7 0.8 0.8 9.9 0.8 6.8 0.8 10.7 0.8 7.6 1.5 7.7 0.7 3.1 1.5 16.8 1.5 23.6 0.7 26.6 0.8 3.8 0.8 6.1 0.8 36.2 1.5 6 0.8 19" transform="rotate(-90 342.7 342.4)"/></g>
<g fill="none"><circle cx="342.7" cy="342.4" r="159.55" stroke="#a1da9d" stroke-width="29.9" stroke-dasharray="0 11.6 79 4.7 67.6 5.1 65.5 4.7 54.8 5.1 53 4.9 53 4.4 51.7 4.4 48.9 4.8 47.8 5.1 47.7 4.5 48.2 4.4 46.4 5 40.1 4.9 39.7 4.8 38.8 5.6 35.7 4.3 30.6 4.3 29 4.1 17.6 11.18" transform="rotate(-90 342.7 342.4)"/><circle cx="342.7" cy="342.4" r="159.55" stroke="#94d392" stroke-width="29.9" stroke-dasharray="0 11.6 0.7 2.8 1.4 2.8 0.7 3.5 0.7 0.7 0.7 1.4 2.1 0.7 0.7 2.1 0.7 4.2 2.1 2.8 0.7 1.4 2.1 3.5 0.7 0.7 0.7 3.5 0.7 4.2 0.7 2.8 1.4 2.7 1.4 3.5 0.7 0.7 0.7 0.7 1.4 4.9 0.7 4.2 0.7 0.7 0.7 6.1 0.7 1.4 0.7 2 2.8 5.6 1.4 1.4 0.7 2.8 0.7 7 0.7 2.8 0.7 1.4 0.6 5.6 0.7 4.2 0.7 4.2 0.7 4.2 0.7 4.9 0.7 1.4 1.3 0.7 0.7 0.7 0.7 12.8 0.7 0.7 0.7 6.9 0.7 5.6 0.7 2.1 1.4 0.7 0.7 6.2 0.7 1.4 0.7 0.7 0.7 1.4 0.7 2.1 0.7 4.9 2.1 1.3 0.7 0.7 1.4 0.7 0.7 1.4 2.1 2.8 0.7 10.3 0.7 0.7 0.7 0.7 0.7 0.7 0.6 2.8 0.7 0.7 0.7 1.4 0.7 1.4 0.7 2.7 1.4 2.8 0.7 4.2 0.6 0.7 1.4 2.8 1.4 0.7 0.7 6.9 0.7 2.8 0.7 2.8 1.3 0.7 0.7 2.1 0.7 5.1 0.7 2.8 0.7 4.2 0.7 11.2 0.7 4.1 0.7 4.9 0.7 0.7 0.7 13.3 0.7 3.5 1.4 0.6 0.7 4.9 0.7 1.4 0.7 7 0.7 0.7 0.7 2.8 0.7 1.4 2.1 2.8 0.6 2.8 0.7 7.7 0.7 4.2 0.7 3.5 2.7 2.8 0.7 3.5 0.7 4.4 0.7 0.7 0.7 0.7 0.7 1.4 0.7 0.7 2.1 2.8 0.7 0.7 0.7 0.7 0.7 2.1 0.7 2.1 0.7 7.6 0.7 0.7 0.7 4.9 0.7 0.7 0.7 2.1 1.4 4.2 0.7 13.5 1.4 4.2 0.7 18.1 0.7 7.7 0.7 7.7 0.7 2.1 0.7 6.9 0.6 0.7 0.7 2.8 0.7 3.5 0.7 9.7 0.7 4.8 0.7 0.7 1.4 4.9 2 2.1 1.4 1.4 2.1 3.4 1.4 7.8 0.7 3.5 0.7 0.7 0.7 3.4 0.7 2.1 1.4 4.8 0.7 2.8 0.7 7.6 0.7 2 1.4 3.5 0.7 3.4 0.7 12.2 1.4 3.5 0.7 2 1.4 1.4 0.7 2.8 0.7 0.7 0.7 9.8 0.7 5.6 2.1 0.7 0.7 6.3 1.4 5.1 0.7 1.4 0.7 0.7 1.3 1.4 0.7 1.4 0.7 0.7 0.7 9 0.7 4.8 0.7 1.4 0.7 1.4 0.7 6.2 0.7 15.3 0.7 2.8 1.4 3.4 1.4 1.4 2.1 6.9 0.7 2.7 0.7 0.7 0.7 0.7 1.4 5.5 0.7 1.4 0.7 8.4 1.4 0.6 1.4 14.7 0.7 3.5 0.7 0.7 0.7 2.1 0.7 1.4 0.7 19.4 0.7 4.1 0.7 3.5 0.7 0.7 0.7 2 0.7 4.9 1.4 2 0.7 2.1 0.7 16 0.7 0.7 0.7 7 0.7 2.1 0.7 0.7 0.7 7 1.4 4.9 1.4 0.7 0.7 8.5 0.7 2.1 0.7 2.1 0.7 5.5 0.7 7 0.7 15.4 1.4 0.7 0.7 2 0.7 12.5 0.7 1.3 0.7 0.7 0.7 2.1 0.7 6.8 0.7 2.8 2.2 2.1 0.7 2.1 0.7 4.2 1.4 11.88" transform="rotate(-90 342.7 342.4)"/><circle cx="342.7" cy="342.4" r="159.55" stroke="#86cc86" stroke-width="29.9" stroke-dasharray="0 13 1.4 8.4 0.7 7.7 0.7 9.1 1.4 1.4 0.7 9.8 0.7 2.1 0.7 7.7 1.4 0.7 0.6 4.2 0.7 0.7 0.7 2.8 0.7 1.4 0.7 4.9 2.1 0.7 0.7 10.3 0.6 4.9 0.7 0.7 0.7 1.4 0.7 7 0.7 3.5 0.7 2.8 0.7 2.8 1.4 11.8 0.7 0.7 0.7 0.7 0.7 2.1 0.7 3.5 0.7 0.7 0.7 3.5 0.7 15.5 2.1 0.7 0.7 0.7 0.7 6.9 2.1 1.4 0.7 0.7 0.7 1.4 1.4 1.4 0.7 1.4 1.4 0.7 0.6 1.4 1.4 1.4 0.7 2.1 1.4 1.4 0.7 8.4 1.3 0.7 0.7 2.8 1.4 7 1.4 0.7 0.7 6.8 0.7 6.9 0.7 9 0.7 1.4 0.7 9.7 0.7 3.5 1.4 2 0.7 8.4 0.7 12 2.1 4.2 0.7 2.1 1.4 1.4 0.7 1.4 0.7 2.1 1.4 4.8 0.7 1.4 0.7 0.7 2.8 9.8 3.5 0.7 0.7 4.2 0.7 1.4 0.6 12.6 1.4 2.1 0.7 0.7 0.7 7 2.1 1.3 0.7 4.9 0.7 1.4 2.1 2.1 0.7 9.7 2.1 2.1 0.7 12.8 0.7 2.8 0.7 0.7 0.7 2.1 0.7 3.5 2.1 11.8 2.1 3.5 0.7 18.4 2.8 16 0.7 5.6 0.7 3.5 0.7 1.4 2.1 0.7 0.7 6.3 1.4 0.7 0.7 12.4 1.4 11.1 0.7 7 1.3 7.7 0.7 2.7 1.4 2.1 0.7 16.8 0.7 0.7 0.7 10.4 1.4 2 1.4 1.4 0.7 3.5 0.6 2.8 0.7 1.4 0.7 0.7 0.7 4.1 0.7 6.9 0.7 0.7 0.7 8 0.7 2.8 0.7 1.4 0.7 2 0.7 4.2 0.7 21.7 0.7 0.7 1.4 0.7 2.8 0.7 0.7 5.8 0.7 1.4 0.7 15.2 2.1 9 0.7 0.7 0.6 0.7 0.7 2.8 1.4 0.7 0.7 16 0.7 8.3 0.7 2.8 0.7 6.2 2.7 0.7 0.7 0.7 0.7 1.4 0.7 0.7 0.7 2.7 0.7 0.7 0.7 15.3 0.7 13.3 0.7 4.2 0.7 29.1 2.1 0.7 0.7 2.1 0.6 9.8 0.6 0.7 1.4 19.5 0.7 4.2 0.7 2.8 1.4 4.9 1.4 0.7 0.7 0.7 0.7 4.2 0.7 52.5 0.6 9 1.4 3.5 0.6 4.2 0.7 8.2 0.7 9.9 0.7 2.1 0.7 13.98" transform="rotate(-90 342.7 342.4)"/><circle cx="342.7" cy="342.4" r="159.55" stroke="#b1e1ac" stroke-width="29.9" stroke-dasharray="0 16.5 1.4 2.8 0.7 4.9 0.7 3.5 0.7 2.8 0.7 1.4 0.7 21.7 0.7 2.1 1.4 8.3 0.7 7 0.7 0.7 0.7 18.6 0.7 11.9 0.7 9.1 0.7 1.4 0.7 6.2 0.7 1.4 1.4 1.4 0.7 0.7 0.7 0.7 0.7 7 1.4 2.8 0.7 2.1 1.4 7.6 0.7 6.5 0.7 8.3 0.7 0.7 0.7 29.3 0.7 0.7 0.7 0.7 0.7 16 0.7 8.9 0.7 2.1 0.7 2.7 0.7 15.3 1.4 1.4 0.7 4.1 0.7 4.2 0.7 9 0.7 4.8 0.7 12.8 0.7 11.2 0.7 16 2.1 0.7 1.4 0.7 0.7 7 0.7 36.2 0.7 2.1 1.4 1.4 0.7 3.5 0.7 0.7 0.7 1.4 0.7 2.8 0.7 6.9 0.7 0.7 0.7 7.2 0.7 0.7 0.7 0.7 0.7 5.6 0.7 1.4 0.7 2.8 0.7 5.6 0.7 2.1 0.7 16 1.4 0.7 0.7 1.4 2.8 1.4 0.7 10 0.7 0.7 2.1 4.9 1.4 2.1 0.7 4.1 0.7 1.4 0.7 0.7 0.7 8.4 0.7 4.2 0.7 6.3 1.4 6.9 0.7 0.6 0.7 4.9 0.7 2.8 0.7 15.2 0.7 1.4 0.7 29.3 0.7 2.1 0.7 4.1 0.7 32.5 0.7 5.9 0.7 20.2 1.4 2.1 0.7 0.7 0.7 2.8 0.7 2.1 0.7 0.7 0.7 0.7 1.4 21.8 0.7 2.8 0.7 1.4 0.7 0.7 0.6 2.1 0.7 22.2 0.7 0.6 2.1 1.4 0.7 7.7 0.7 2.8 0.7 6.2 0.7 6.9 0.7 18.7 0.7 10.4 0.7 2.8 0.7 0.7 0.7 3.5 0.7 1.4 0.7 0.7 1.4 4.2 0.7 2.8 0.7 4.9 1.3 0.7 1.4 0.7 0.7 0.7 0.7 0.7 0.7 6.9 0.7 0.7 1.4 4.8 0.7 7.6 0.7 0.7 0.7 2.8 0.7 6.2 0.7 5.6 0.7 0.7 0.6 7 2.1 7.7 0.7 5.6 1.4 7 0.7 7 0.7 0.7 1.4 5 0.7 4.2 1.4 17.3 0.7 2.8 1.4 6.4 0.7 3.5 0.7 2 0.7 1.4 0.7 2.8 0.6 10.4 0.7 3.4 1.4 12.6 1.4 18.88" transform="rotate(-90 342.7 342.4)"/><circle cx="342.7" cy="342.4" r="159.55" stroke="#c2e8bd" stroke-width="29.9" stroke-dasharray="0 17.9 0.7 1.4 0.7 1.4 0.7 11.9 1.4 0.7 0.7 9.1 0.7 0.7 0.7 20.9 1.4 11.9 1.4 40.3 0.7 3.4 1.4 1.4 0.7 4.2 0.7 14.7 0.7 23.9 0.7 2 0.7 0.7 2.1 27.9 0.7 42.3 0.7 28.4 0.7 28.8 0.7 46.7 0.7 9.1 0.7 1.4 0.7 20.9 0.7 2.1 0.7 1.4 0.7 29.5 0.7 5.6 0.7 0.7 0.7 0.7 0.7 0.7 2 11.2 0.7 3.5 0.7 0.7 0.7 23.3 0.7 1.4 1.4 2.7 0.7 3.5 0.7 4.9 0.7 8.4 0.7 4.9 0.7 22.8 0.7 4.9 0.7 11.1 0.7 25.1 0.7 30.5 1.3 23.3 0.7 13.9 0.7 11.9 0.7 30.9 0.7 0.6 0.7 7 0.7 2 0.7 18 0.7 28.5 0.7 28.4 0.7 2.8 0.7 0.7 0.7 1.4 0.7 3.5 0.7 11.2 1.4 22.8 0.7 11.8 1.4 10.4 3.5 37 0.7 13.4 1.4 3.5 0.7 2.7 0.7 4.9 1.4 1.4 1.4 6.2 0.7 69.68" transform="rotate(-90 342.7 342.4)"/><circle cx="342.7" cy="342.4" r="159.55" stroke="#1e7c3a" stroke-width="29.9" stroke-dasharray="0 18.6 0.7 97.6 0.7 133.8 0.7 46.7 0.7 47.5 0.7 24.4 0.7 107.2 0.7 51.5 0.7 43.2 0.7 42.2 0.6 132.7 0.7 16.6 0.7 82 0.7 149.98" transform="rotate(-90 342.7 342.4)"/><circle cx="342.7" cy="342.4" r="159.55" stroke="#71be77" stroke-width="29.9" stroke-dasharray="0 25.6 0.7 2.8 0.7 9.8 0.7 2.8 0.7 59.8 0.7 0.7 0.7 1.4 0.7 2.8 0.7 1.4 1.4 27.9 0.7 0.7 0.7 23.9 1.4 16.7 0.7 11.8 0.7 7.7 0.7 50.6 0.7 20.8 0.7 10.4 0.7 12.1 0.7 13.3 0.7 1.4 0.7 3.4 0.7 0.7 0.7 11.9 0.7 36.3 0.7 53.9 0.7 11.8 0.7 1.4 0.7 44.2 0.7 8.4 0.7 0.7 1.4 26.4 1.4 0.7 0.7 7.6 0.7 0.7 2.1 3.5 1.4 48 0.6 2.8 0.7 1.4 0.7 0.7 0.7 4.8 0.7 31.6 0.6 42.9 0.7 1.4 0.7 1.3 0.7 14.6 0.7 11 0.7 1.4 0.7 19.5 0.7 3.5 0.7 7.6 1.3 12.5 0.7 0.7 0.7 0.7 0.6 42.6 0.7 18.7 0.7 0.6 0.7 4.9 0.7 36.8 2.1 4.2 0.7 4.9 0.7 2.1 0.7 71.2 0.7 0.7 0.7 2.7 0.7 25.1 0.7 13.28" transform="rotate(-90 342.7 342.4)"/><circle cx="342.7" cy="342.4" r="159.55" stroke="#d4efcf" stroke-width="29.9" stroke-dasharray="0 33.3 0.7 18.9 0.7 9.8 0.7 7.6 0.7 57.7 0.7 4.2 0.7 16.8 0.7 24.5 0.7 70.9 0.7 110.2 1.4 125.3 0.7 3.5 0.7 43.2 0.6 41.8 0.7 7 0.6 67 0.7 2.1 2.1 12.6 0.7 25.2 0.7 28.4 0.7 61.8 1.4 0.7 0.7 0.7 1.4 11.2 0.7 10.4 0.7 85.6 0.7 19.6 0.7 1.4 1.4 2.1 2.7 0.7 1.4 48 0.7 0.7 0.7 20.98" transform="rotate(-90 342.7 342.4)"/><circle cx="342.7" cy="342.4" r="159.55" stroke="#338e49" stroke-width="29.9" stroke-dasharray="0 50.8 0.7 11.2 0.7 17.4 0.7 24.9 0.7 40.5 0.7 65.7 0.7 11.8 0.7 49.2 0.6 4.2 0.7 21.1 0.7 16.8 0.6 40.5 0.7 23 0.7 60.9 1.4 5.6 0.7 101.2 0.7 9.7 0.7 16.1 0.7 9.7 0.7 11 0.7 48.3 0.7 83.7 0.7 11 0.7 87.5 0.7 78.2 0.7 84.98" transform="rotate(-90 342.7 342.4)"/><circle cx="342.7" cy="342.4" r="159.55" stroke="#5cb168" stroke-width="29.9" stroke-dasharray="0 52.2 0.7 0.7 0.7 59.8 0.7 5.6 0.7 36.9 0.7 11.4 0.7 25.8 0.7 45.8 0.7 34.6 0.7 40 0.7 1.3 0.7 67 0.7 157.9 0.7 54.9 0.7 0.7 0.7 2.1 0.7 106.9 0.7 25.1 1.3 4.9 0.7 16.6 0.7 123.1 0.7 69.1 0.7 0.7 0.7 43.18" transform="rotate(-90 342.7 342.4)"/><circle cx="342.7" cy="342.4" r="159.55" stroke="#48a158" stroke-width="29.9" stroke-dasharray="0 66.9 0.7 50 0.7 19.5 0.7 46.9 0.7 8.4 0.7 2.7 0.7 2.8 0.7 25.8 0.7 50.5 0.7 5.6 0.7 4.1 0.7 38.6 0.7 48.1 0.7 27.9 0.7 14.2 0.7 120.1 0.7 0.7 0.7 45.2 0.7 8.3 0.7 2.1 0.7 1.3 0.7 25.3 0.7 2.1 0.7 76.1 0.7 29.2 0.7 55.5 0.7 29.9 0.7 68.2 0.7 23.8 0.7 11.8 0.7 3.5 0.7 39.5 1.4 8.5 0.7 16.08" transform="rotate(-90 342.7 342.4)"/></g>
<path d="M499.76 96.24A292 292 0 0 1 506.87 100.92L421.41 226.62A140 140 0 0 0 418 224.38ZM591.7 189.87A292 292 0 0 1 596.42 197.86L464.34 273.1A140 140 0 0 0 462.08 269.27ZM633.01 311.07A292 292 0 0 1 633.82 319.69L482.28 331.51A140 140 0 0 0 481.89 327.38ZM624.46 419.06A292 292 0 0 1 621.85 428.06L476.54 383.47A140 140 0 0 0 477.79 379.15ZM578.63 514.45A292 292 0 0 1 573.24 521.61L453.23 428.32A140 140 0 0 0 455.82 424.89ZM502.25 586.96A292 292 0 0 1 495.4 591.29L415.91 461.73A140 140 0 0 0 419.2 459.65ZM408.34 626.93A292 292 0 0 1 400.42 628.64L370.37 479.64A140 140 0 0 0 374.17 478.82ZM311.42 632.72A292 292 0 0 1 302.72 631.65L323.53 481.08A140 140 0 0 0 327.7 481.59ZM219.02 606.91A292 292 0 0 1 210.73 602.87L279.42 467.28A140 140 0 0 0 283.4 469.22ZM139.82 552.41A292 292 0 0 1 134 546.63L242.64 440.32A140 140 0 0 0 245.43 443.09ZM82.71 475.33A292 292 0 0 1 79.1 468.02L216.32 402.63A140 140 0 0 0 218.05 406.13ZM54.16 387.22A292 292 0 0 1 52.9 378.19L203.76 359.56A140 140 0 0 0 204.36 363.89ZM53.11 304.99A292 292 0 0 1 54.39 296.12L204.47 320.21A140 140 0 0 0 203.85 324.47ZM74.72 226.43A292 292 0 0 1 78.32 218.44L215.94 282.97A140 140 0 0 0 214.21 286.8ZM115.97 158.4A292 292 0 0 1 122.53 150.6L237.14 250.44A140 140 0 0 0 233.99 254.18ZM170.61 106.5A292 292 0 0 1 177.02 101.96L263.26 227.12A140 140 0 0 0 260.19 229.3ZM225.84 74.8A292 292 0 0 1 233.17 71.72L290.19 212.62A140 140 0 0 0 286.67 214.1ZM283.89 56.38A292 292 0 0 1 291.29 54.96L318.05 204.59A140 140 0 0 0 314.5 205.27ZM323.09 51.06A292 292 0 0 1 363.98 51.18L352.9 202.77A140 140 0 0 0 333.3 202.72Z" fill="#fff"/>
<path d="M352.61 206.76A136 136 0 0 1 415.85 227.75L400.15 252.37A106.8 106.8 0 0 0 350.48 235.88ZM419.16 229.93A136 136 0 0 1 458.67 271.36L433.77 286.61A106.8 106.8 0 0 0 402.75 254.08ZM460.87 275.08A136 136 0 0 1 477.91 327.81L448.88 330.94A106.8 106.8 0 0 0 435.5 289.53ZM478.29 331.82A136 136 0 0 1 473.93 378.1L445.75 370.44A106.8 106.8 0 0 0 449.18 334.09ZM472.72 382.3A136 136 0 0 1 452.59 422.53L428.99 405.33A106.8 106.8 0 0 0 444.8 373.73ZM450.07 425.87A136 136 0 0 1 417.01 456.3L401.05 431.85A106.8 106.8 0 0 0 427.02 407.95ZM413.82 458.32A136 136 0 0 1 373.27 474.92L366.71 446.47A106.8 106.8 0 0 0 398.55 433.43ZM369.58 475.72A136 136 0 0 1 328.13 477.62L331.26 448.59A106.8 106.8 0 0 0 363.81 447.09ZM324.08 477.12A136 136 0 0 1 285.09 465.6L297.46 439.15A106.8 106.8 0 0 0 328.08 448.19ZM281.23 463.72A136 136 0 0 1 248.21 440.21L268.5 419.21A106.8 106.8 0 0 0 294.43 437.67ZM245.5 437.52A136 136 0 0 1 221.61 404.31L247.61 391.02A106.8 106.8 0 0 0 266.37 417.1ZM219.93 400.91A136 136 0 0 1 208.31 363.28L237.17 358.79A106.8 106.8 0 0 0 246.29 388.34ZM207.73 359.07A136 136 0 0 1 207.82 324.98L236.78 328.72A106.8 106.8 0 0 0 236.71 355.49ZM208.42 320.84A136 136 0 0 1 217.89 288.39L244.68 299.98A106.8 106.8 0 0 0 237.25 325.47ZM219.56 284.67A136 136 0 0 1 237.1 256.7L259.77 275.1A106.8 106.8 0 0 0 246 297.06ZM240.15 253.07A136 136 0 0 1 262.55 232.53L279.76 256.12A106.8 106.8 0 0 0 262.17 272.25ZM265.53 230.41A136 136 0 0 1 288.27 217.77L299.96 244.52A106.8 106.8 0 0 0 282.1 254.46ZM291.69 216.33A136 136 0 0 1 315.31 209.19L321.19 237.79A106.8 106.8 0 0 0 302.64 243.4ZM318.76 208.52A136 136 0 0 1 333.57 206.71L335.53 235.84A106.8 106.8 0 0 0 323.9 237.27Z" fill="#ebf0fb"/>
<path d="M375.05 240.62L383.89 212.79M418.91 267.58L439.74 247.12M447.37 321.19L475.99 315.39M382.47 441.52L393.34 468.62" stroke="#cfe0f2" stroke-width="2.2" fill="none"/>
<path d="M355.66 236.39L359.2 207.4M382.27 243.2L393.09 216.08M393.09 248.23L406.87 222.49M371.87 239.66L379.84 211.57M389.38 246.34L402.14 220.08M371.73 239.62L379.67 211.52M420.3 269.02L441.51 248.96M422.27 271.17L444.03 251.69M431.82 283.55L456.19 267.46M443.55 307.24L471.12 297.63M446.28 316.39L474.61 309.28M448.65 355.85L477.62 359.52M449.26 349.6L478.39 351.57M442.52 380.38L469.81 390.76M433.88 398.01L458.81 413.21M444.58 374.43L472.44 383.19M432.1 400.83L456.54 416.8M385.68 440.17L397.43 466.9M334.08 448.85L331.72 477.96M362.13 447.42L367.44 476.13M350.46 448.92L352.59 478.04M325.28 447.77L320.51 476.58M291.55 436.15L277.56 461.79M291.17 435.95L277.09 461.53M292.91 436.89L279.3 462.72M292.3 436.56L278.52 462.3M265.84 416.55L244.82 436.83M241.43 376.31L213.74 385.58M239.09 368.32L210.77 375.41M236.25 351.04L207.15 353.41M236.35 352.24L207.28 354.93M251.49 286.85L226.55 271.66M306.02 242.1L295.99 214.67" stroke="#a6cbe6" stroke-width="0.5" fill="none"/>
<path d="M425.4 274.82L448.01 256.34" stroke="#6fa6d2" stroke-width="0.6" fill="none"/>
<path d="M364.61 42.6A300.6 300.6 0 0 1 504.39 88.99L503.47 90.42A298.9 298.9 0 0 0 364.49 44.3Z" fill="url(#gr)"/>
<path d="M364.49 44.3A298.9 298.9 0 0 1 503.47 90.42L501.27 93.88A294.8 294.8 0 0 0 364.19 48.38Z" fill="#996600"/>
<path d="M511.71 93.81A300.6 300.6 0 0 1 599.03 185.38L597.58 186.27A298.9 298.9 0 0 0 510.75 95.21Z" fill="url(#gr)"/>
<path d="M510.75 95.21A298.9 298.9 0 0 1 597.58 186.27L594.09 188.41A294.8 294.8 0 0 0 508.44 98.61Z" fill="#666600"/>
<path d="M603.89 193.6A300.6 300.6 0 0 1 641.56 310.14L639.87 310.33A298.9 298.9 0 0 0 602.41 194.44Z" fill="url(#gr)"/>
<path d="M602.41 194.44A298.9 298.9 0 0 1 639.87 310.33L635.8 310.77A294.8 294.8 0 0 0 598.85 196.47Z" fill="#99991e"/>
<path d="M642.39 319.02A300.6 300.6 0 0 1 632.76 421.32L631.12 420.87A298.9 298.9 0 0 0 640.69 319.16Z" fill="url(#gr)"/>
<path d="M640.69 319.16A298.9 298.9 0 0 1 631.12 420.87L627.16 419.79A294.8 294.8 0 0 0 636.61 319.48Z" fill="#cc0000"/>
<path d="M630.07 430.59A300.6 300.6 0 0 1 585.58 519.51L584.21 518.51A298.9 298.9 0 0 0 628.45 430.09Z" fill="url(#gr)"/>
<path d="M628.45 430.09A298.9 298.9 0 0 1 584.21 518.51L580.9 516.1A294.8 294.8 0 0 0 624.53 428.89Z" fill="#ff0000"/>
<path d="M580.03 526.89A300.6 300.6 0 0 1 506.95 594.16L506.02 592.74A298.9 298.9 0 0 0 578.69 525.85Z" fill="url(#gr)"/>
<path d="M578.69 525.85A298.9 298.9 0 0 1 506.02 592.74L503.78 589.3A294.8 294.8 0 0 0 575.45 523.33Z" fill="#ff00cc"/>
<path d="M499.9 598.62A300.6 300.6 0 0 1 410.27 635.31L409.89 633.65A298.9 298.9 0 0 0 499.01 597.17Z" fill="url(#gr)"/>
<path d="M499.01 597.17A298.9 298.9 0 0 1 409.89 633.65L408.97 629.66A294.8 294.8 0 0 0 496.86 593.68Z" fill="#ffcccc"/>
<path d="M402.12 637.07A300.6 300.6 0 0 1 310.5 641.27L310.68 639.58A298.9 298.9 0 0 0 401.78 635.4Z" fill="url(#gr)"/>
<path d="M401.78 635.4A298.9 298.9 0 0 1 310.68 639.58L311.12 635.5A294.8 294.8 0 0 0 400.97 631.38Z" fill="#ff9900"/>
<path d="M301.54 640.17A300.6 300.6 0 0 1 215.38 614.7L216.1 613.16A298.9 298.9 0 0 0 301.77 638.48Z" fill="url(#gr)"/>
<path d="M301.77 638.48A298.9 298.9 0 0 1 216.1 613.16L217.83 609.45A294.8 294.8 0 0 0 302.33 634.42Z" fill="#ffcc00"/>
<path d="M206.84 610.55A300.6 300.6 0 0 1 133.85 558.6L135.03 557.37A298.9 298.9 0 0 0 207.61 609.03Z" fill="url(#gr)"/>
<path d="M207.61 609.03A298.9 298.9 0 0 1 135.03 557.37L137.88 554.43A294.8 294.8 0 0 0 209.46 605.37Z" fill="#ffff00"/>
<path d="M127.86 552.64A300.6 300.6 0 0 1 75.05 479.24L76.57 478.47A298.9 298.9 0 0 0 129.07 551.45Z" fill="url(#gr)"/>
<path d="M129.07 551.45A298.9 298.9 0 0 1 76.57 478.47L80.22 476.6A294.8 294.8 0 0 0 132 548.59Z" fill="#ccff00"/>
<path d="M71.34 471.72A300.6 300.6 0 0 1 45.66 388.54L47.34 388.28A298.9 298.9 0 0 0 72.87 470.99Z" fill="url(#gr)"/>
<path d="M72.87 470.99A298.9 298.9 0 0 1 47.34 388.28L51.39 387.65A294.8 294.8 0 0 0 76.57 469.22Z" fill="#00ff00"/>
<path d="M44.37 379.24A300.6 300.6 0 0 1 44.58 303.89L46.26 304.11A298.9 298.9 0 0 0 46.05 379.03Z" fill="url(#gr)"/>
<path d="M46.05 379.03A298.9 298.9 0 0 1 46.26 304.11L50.33 304.64A294.8 294.8 0 0 0 50.12 378.53Z" fill="#358000"/>
<path d="M45.9 294.75A300.6 300.6 0 0 1 66.82 223.02L68.38 223.69A298.9 298.9 0 0 0 47.58 295.02Z" fill="url(#gr)"/>
<path d="M47.58 295.02A298.9 298.9 0 0 1 68.38 223.69L72.15 225.32A294.8 294.8 0 0 0 51.63 295.67Z" fill="#0000cc"/>
<path d="M70.53 214.79A300.6 300.6 0 0 1 109.29 152.98L110.61 154.05A298.9 298.9 0 0 0 72.07 215.51Z" fill="url(#gr)"/>
<path d="M72.07 215.51A298.9 298.9 0 0 1 110.61 154.05L113.79 156.64A294.8 294.8 0 0 0 75.78 217.25Z" fill="#6699ff"/>
<path d="M116.04 144.95A300.6 300.6 0 0 1 165.55 99.55L166.55 100.92A298.9 298.9 0 0 0 117.32 146.07Z" fill="url(#gr)"/>
<path d="M117.32 146.07A298.9 298.9 0 0 1 166.55 100.92L168.96 104.23A294.8 294.8 0 0 0 120.41 148.76Z" fill="#99ccff"/>
<path d="M172.14 94.88A300.6 300.6 0 0 1 222.4 66.92L223.08 68.48A298.9 298.9 0 0 0 173.1 96.28Z" fill="url(#gr)"/>
<path d="M173.1 96.28A298.9 298.9 0 0 1 223.08 68.48L224.72 72.24A294.8 294.8 0 0 0 175.43 99.65Z" fill="#00ffff"/>
<path d="M229.95 63.75A300.6 300.6 0 0 1 282.15 47.96L282.5 49.63A298.9 298.9 0 0 0 230.58 65.32Z" fill="url(#gr)"/>
<path d="M230.58 65.32A298.9 298.9 0 0 1 282.5 49.63L283.32 53.64A294.8 294.8 0 0 0 232.12 69.12Z" fill="#ccffff"/>
<path d="M289.78 46.5A300.6 300.6 0 0 1 322.52 42.48L322.63 44.17A298.9 298.9 0 0 0 290.08 48.17Z" fill="url(#gr)"/>
<path d="M290.08 48.17A298.9 298.9 0 0 1 322.63 44.17L322.91 48.27A294.8 294.8 0 0 0 290.8 52.2Z" fill="#9900cc"/>
<path d="M369.89 44.24L370.22 40.65M375.26 44.78L375.65 41.2M380.61 45.41L381.06 41.84M385.95 46.14L386.47 42.58M391.27 46.97L391.86 43.41M396.58 47.89L397.23 44.35M401.87 48.91L402.58 45.38M412.4 51.23L413.23 47.72M417.63 52.53L418.53 49.04M422.83 53.92L423.79 50.45M428.01 55.41L429.04 51.96M433.16 56.99L434.25 53.56M438.28 58.67L439.43 55.26M443.37 60.43L444.58 57.04M453.46 64.24L454.79 60.89M458.45 66.28L459.84 62.96M463.4 68.41L464.85 65.11M468.31 70.62L469.82 67.35M473.18 72.93L474.75 69.69M478.01 75.32L479.63 72.11M482.79 77.8L484.48 74.62M492.22 83.01L494.02 79.89M496.87 85.74L498.72 82.66M501.46 88.56L503.37 85.51M515.46 97.87L517.54 94.93M519.83 101.02L521.96 98.12M524.15 104.25L526.33 101.38M528.41 107.55L530.64 104.73M532.6 110.93L534.89 108.15M536.74 114.39L539.07 111.65M540.81 117.92L543.19 115.22M548.76 125.19L551.24 122.58M552.64 128.94L555.16 126.37M556.44 132.75L559.01 130.23M560.18 136.63L562.8 134.15M563.85 140.58L566.51 138.15M567.45 144.59L570.15 142.21M570.97 148.67L573.72 146.34M577.8 157.01L580.62 154.78M581.09 161.27L583.96 159.09M584.32 165.59L587.22 163.46M587.46 169.97L590.4 167.89M590.52 174.4L593.5 172.38M593.51 178.89L596.52 176.92M596.41 183.43L599.46 181.52M605.47 198.9L608.63 197.18M608.01 203.65L611.2 201.99M610.47 208.45L613.68 206.84M612.83 213.29L616.08 211.74M615.11 218.18L618.39 216.68M617.3 223.1L620.61 221.66M619.41 228.06L622.73 226.69M623.34 238.09L626.72 236.84M625.17 243.16L628.57 241.97M626.91 248.26L630.33 247.13M628.56 253.39L632 252.32M630.12 258.55L633.57 257.54M631.58 263.74L635.05 262.79M632.95 268.95L636.44 268.07M635.41 279.44L638.93 278.69M636.49 284.72L640.02 284.03M637.48 290.02L641.03 289.39M638.38 295.33L641.93 294.77M639.18 300.66L642.74 300.16M639.88 306L643.45 305.57M641.56 324.49L645.16 324.28M641.84 329.88L645.43 329.72M642.01 335.26L645.61 335.18M642.09 340.65L645.69 340.63M642.08 346.04L645.68 346.08M641.96 351.43L645.56 351.53M641.75 356.81L645.35 356.98M641.04 367.56L644.63 367.87M640.54 372.93L644.12 373.3M639.94 378.28L643.52 378.72M639.25 383.63L642.81 384.12M638.46 388.96L642.01 389.52M637.57 394.27L641.12 394.9M636.59 399.57L640.12 400.26M634.34 410.11L637.85 410.93M633.08 415.35L636.57 416.23M631.72 420.57L635.19 421.51M627.3 435.37L630.72 436.49M625.58 440.48L628.98 441.66M623.77 445.56L627.15 446.8M621.87 450.6L625.22 451.9M619.87 455.6L623.21 456.97M617.79 460.57L621.1 462M615.62 465.51L618.9 466.99M611.01 475.25L614.24 476.85M608.58 480.06L611.77 481.71M606.06 484.82L609.22 486.53M603.45 489.54L606.59 491.31M600.76 494.21L603.86 496.03M597.99 498.82L601.06 500.71M595.13 503.39L598.17 505.33M589.17 512.37L592.14 514.42M586.07 516.78L589 518.88M575.73 530.38L578.54 532.64M572.31 534.54L575.07 536.85M568.82 538.64L571.54 541M565.25 542.68L567.93 545.09M561.61 546.65L564.24 549.11M557.9 550.56L560.49 553.06M554.12 554.4L556.66 556.95M546.35 561.87L548.8 564.51M542.37 565.5L544.77 568.18M538.32 569.06L540.67 571.78M534.21 572.54L536.51 575.31M530.04 575.95L532.29 578.76M525.8 579.28L528 582.13M521.51 582.54L523.66 585.43M512.75 588.82L514.79 591.78M508.29 591.84L510.28 594.84M494.65 600.38L496.48 603.48M489.98 603.07L491.75 606.2M485.27 605.68L486.98 608.84M480.51 608.2L482.16 611.4M475.7 610.64L477.3 613.86M470.85 612.99L472.39 616.24M465.96 615.25L467.44 618.53M456.06 619.51L457.42 622.84M451.06 621.5L452.36 624.86M446.01 623.41L447.26 626.79M440.94 625.22L442.12 628.62M435.83 626.95L436.95 630.37M430.7 628.58L431.76 632.02M425.53 630.11L426.53 633.57M415.13 632.91L416 636.4M396.6 636.91L397.25 640.45M391.3 637.83L391.89 641.38M385.99 638.65L386.51 642.22M380.67 639.38L381.12 642.95M375.33 640.02L375.72 643.6M369.98 640.55L370.31 644.14M364.62 641L364.89 644.59M353.89 641.59L354.02 645.19M348.51 641.74L348.58 645.34M343.14 641.8L343.14 645.4M337.76 641.76L337.7 645.36M332.39 641.62L332.27 645.22M327.02 641.39L326.83 644.98M321.65 641.06L321.4 644.65M310.95 640.11L310.56 643.69M296.37 638.19L295.82 641.75M291.06 637.31L290.44 640.86M285.76 636.34L285.07 639.87M280.48 635.26L279.73 638.78M275.22 634.1L274.4 637.6M269.98 632.83L269.1 636.33M264.76 631.48L263.82 634.95M254.41 628.49L253.35 631.93M249.27 626.85L248.15 630.27M244.17 625.12L242.98 628.52M239.1 623.3L237.85 626.68M234.06 621.39L232.75 624.75M229.05 619.39L227.69 622.72M224.09 617.3L222.66 620.61M202.6 607L200.91 610.18M197.86 604.43L196.11 607.58M193.16 601.78L191.37 604.9M188.52 599.05L186.67 602.14M183.93 596.23L182.02 599.28M179.38 593.33L177.42 596.35M174.89 590.35L172.88 593.34M166.08 584.15L163.95 587.06M161.76 580.94L159.58 583.8M157.49 577.64L155.27 580.47M153.29 574.27L151.01 577.06M149.15 570.82L146.82 573.57M145.07 567.3L142.69 570.01M141.05 563.71L138.63 566.37M124.98 547.92L122.36 550.39M121.32 543.97L118.65 546.39M117.72 539.95L115.02 542.33M114.21 535.87L111.46 538.2M110.76 531.73L107.97 534M107.39 527.52L104.56 529.75M104.1 523.26L101.23 525.43M97.74 514.55L94.8 516.62M94.68 510.11L91.7 512.13M91.71 505.62L88.69 507.59M88.81 501.08L85.76 502.99M85.99 496.48L82.91 498.34M83.26 491.84L80.14 493.64M80.61 487.15L77.46 488.89M70.15 466.32L66.87 467.81M67.96 461.39L64.66 462.82M65.86 456.43L62.53 457.8M63.86 451.43L60.5 452.74M61.94 446.39L58.56 447.64M60.11 441.32L56.72 442.51M58.38 436.22L54.96 437.35M55.19 425.92L51.73 426.93M53.73 420.74L50.25 421.68M52.37 415.52L48.88 416.4M51.1 410.28L47.59 411.1M49.92 405.03L46.4 405.78M48.84 399.75L45.31 400.44M47.86 394.45L44.31 395.07M44.95 373.78L41.37 374.16M44.44 368.45L40.85 368.76M44.02 363.12L40.43 363.36M43.69 357.77L40.1 357.96M43.47 352.43L39.87 352.55M43.34 347.08L39.74 347.13M43.3 341.72L39.7 341.72M43.52 331.02L39.92 330.89M43.77 325.68L40.17 325.48M44.11 320.34L40.52 320.07M44.56 315L40.97 314.67M45.09 309.68L41.51 309.29M45.73 304.36L42.16 303.91M47.97 289.71L44.43 289.08M48.95 284.5L45.42 283.8M50.03 279.3L46.51 278.54M51.19 274.12L47.68 273.3M52.45 268.96L48.96 268.08M53.79 263.83L50.32 262.89M55.23 258.72L51.77 257.72M58.38 248.59L54.96 247.46M60.09 243.56L56.69 242.37M61.88 238.57L58.51 237.32M63.77 233.6L60.41 232.3M65.74 228.68L62.41 227.31M67.8 223.79L64.49 222.36M73.95 210.44L70.72 208.86M76.37 205.63L73.16 203.98M78.87 200.85L75.7 199.15M81.46 196.13L78.32 194.37M84.14 191.45L81.03 189.64M86.9 186.82L83.82 184.95M89.74 182.24L86.7 180.32M95.66 173.24L92.69 171.21M98.75 168.82L95.82 166.74M101.91 164.46L99.02 162.32M105.15 160.16L102.3 157.97M108.47 155.91L105.66 153.67M120.52 141.71L117.85 139.3M124.17 137.74L121.54 135.28M127.89 133.84L125.31 131.33M131.68 130.01L129.14 127.46M135.53 126.25L133.04 123.65M139.46 122.55L137.01 119.91M143.45 118.93L141.05 116.24M151.62 111.9L149.32 109.13M155.8 108.5L153.55 105.69M160.04 105.18L157.84 102.32M164.34 101.93L162.19 99.04M177.28 92.85L175.29 89.85M181.8 89.91L179.86 86.87M186.37 87.05L184.49 83.98M190.99 84.28L189.17 81.18M195.66 81.59L193.89 78.46M200.38 78.99L198.67 75.82M205.14 76.47L203.49 73.27M214.8 71.69L213.26 68.44M219.7 69.43L218.22 66.15M235.41 62.88L234.12 59.52M240.46 61L239.23 57.61M245.54 59.2L244.37 55.8M250.65 57.5L249.55 54.08M255.8 55.89L254.75 52.45M260.97 54.37L259.98 50.91M266.16 52.95L265.24 49.47M276.63 50.38L275.84 46.87M281.9 49.24L281.16 45.71M295.3 46.78L294.73 43.22M300.63 45.97L300.12 42.41M305.97 45.26L305.53 41.69M311.33 44.65L310.95 41.07M316.69 44.13L316.38 40.55M322.06 43.71L321.81 40.12" stroke="#ef5050" stroke-width="0.8" fill="none"/>
<path d="M364.48 44.39L364.89 38.81M407.02 50.6L408.22 45.14M448.22 62.85L450.2 57.61M487.24 80.89L489.95 75.99M510.69 95.3L513.84 90.67M544.41 121.96L548.19 117.83M573.96 153.19L578.29 149.64M602.32 194.49L607.19 191.72M620.86 233.28L626.07 231.23M633.64 274.32L639.09 273.05M640.6 319.16L646.18 318.73M640.85 362.15L646.43 362.52M634.93 404.73L640.4 405.9M628.35 430.06L633.71 431.7M612.82 470.14L617.88 472.54M591.69 507.58L596.36 510.68M578.61 525.78L583.03 529.22M549.85 557.74L553.73 561.77M516.81 585.23L520.07 589.78M498.96 597.09L501.88 601.86M460.79 616.87L463.01 622.02M420.19 630.98L421.64 636.39M401.76 635.31L402.87 640.79M359.22 640.74L359.53 646.33M316.35 640.04L315.85 645.61M301.79 638.39L301.02 643.93M259.74 629.45L258.18 634.83M219.41 614.58L217.1 619.68M207.65 608.94L205.12 613.94M170.8 586.8L167.58 591.38M137.51 559.61L133.67 563.68M129.14 551.38L125.14 555.3M101.36 518.58L96.84 521.88M78.58 482.13L73.63 484.74M72.96 470.94L67.91 473.35M57.31 430.91L51.96 432.57M47.56 389.04L42.03 389.91M46.15 379.02L40.59 379.71M43.96 336.39L38.36 336.27M47.68 295.04L42.15 294.15M57.33 253.82L51.98 252.16M72.16 215.55L67.09 213.18M93.16 178.05L88.48 174.97M117.4 146.13L113.18 142.46M147.89 115.84L144.24 111.59M173.16 96.36L169.98 91.75M210.22 74.58L207.73 69.56M230.62 65.42L228.52 60.22M271.53 52.2L270.19 46.76M290.1 48.27L289.11 42.75" stroke="#2c4f8a" stroke-width="0.8" fill="none"/>
<text class="tb" transform="translate(365 37.21)rotate(-85.82)">0Mb</text>
<text class="tr" transform="translate(370.3 39.76)rotate(-84.79)">2.5</text>
<text class="tr" transform="translate(375.75 40.3)rotate(-83.76)">5</text>
<text class="tr" transform="translate(381.18 40.95)rotate(-82.73)">7.5</text>
<text class="tr" transform="translate(386.6 41.69)rotate(-81.69)">10</text>
<text class="tr" transform="translate(392 42.53)rotate(-80.66)">12.5</text>
<text class="tr" transform="translate(397.39 43.46)rotate(-79.63)">15</text>
<text class="tr" transform="translate(402.76 44.49)rotate(-78.6)">17.5</text>
<text class="tb" transform="translate(408.57 43.57)rotate(-77.57)">20Mb</text>
<text class="tr" transform="translate(413.44 46.85)rotate(-76.54)">22.5</text>
<text class="tr" transform="translate(418.75 48.17)rotate(-75.51)">25</text>
<text class="tr" transform="translate(424.04 49.59)rotate(-74.48)">27.5</text>
<text class="tr" transform="translate(429.29 51.1)rotate(-73.44)">30</text>
<text class="tr" transform="translate(434.52 52.7)rotate(-72.41)">32.5</text>
<text class="tr" transform="translate(439.72 54.4)rotate(-71.38)">35</text>
<text class="tr" transform="translate(444.89 56.2)rotate(-70.35)">37.5</text>
<text class="tb" transform="translate(450.76 56.12)rotate(-69.32)">40Mb</text>
<text class="tr" transform="translate(455.12 60.06)rotate(-68.29)">42.5</text>
<text class="tr" transform="translate(460.18 62.13)rotate(-67.26)">45</text>
<text class="tr" transform="translate(465.21 64.29)rotate(-66.23)">47.5</text>
<text class="tr" transform="translate(470.2 66.54)rotate(-65.19)">50</text>
<text class="tr" transform="translate(475.14 68.88)rotate(-64.16)">52.5</text>
<text class="tr" transform="translate(480.04 71.3)rotate(-63.13)">55</text>
<text class="tr" transform="translate(484.9 73.82)rotate(-62.1)">57.5</text>
<text class="tb" transform="translate(490.72 74.59)rotate(-61.07)">60Mb</text>
<text class="tr" transform="translate(494.47 79.11)rotate(-60.04)">62.5</text>
<text class="tr" transform="translate(499.19 81.89)rotate(-59.01)">65</text>
<text class="tr" transform="translate(503.85 84.74)rotate(-57.98)">67.5</text>
<text class="tb" transform="translate(514.74 89.34)rotate(-55.79)">0Mb</text>
<text class="tr" transform="translate(518.06 94.2)rotate(-54.76)">2.5</text>
<text class="tr" transform="translate(522.5 97.39)rotate(-53.73)">5</text>
<text class="tr" transform="translate(526.88 100.67)rotate(-52.7)">7.5</text>
<text class="tr" transform="translate(531.2 104.02)rotate(-51.66)">10</text>
<text class="tr" transform="translate(535.46 107.45)rotate(-50.63)">12.5</text>
<text class="tr" transform="translate(539.65 110.96)rotate(-49.6)">15</text>
<text class="tr" transform="translate(543.79 114.54)rotate(-48.57)">17.5</text>
<text class="tb" transform="translate(549.27 116.65)rotate(-47.54)">20Mb</text>
<text class="tr" transform="translate(551.86 121.93)rotate(-46.51)">22.5</text>
<text class="tr" transform="translate(555.79 125.73)rotate(-45.48)">25</text>
<text class="tr" transform="translate(559.66 129.6)rotate(-44.45)">27.5</text>
<text class="tr" transform="translate(563.45 133.54)rotate(-43.41)">30</text>
<text class="tr" transform="translate(567.17 137.54)rotate(-42.38)">32.5</text>
<text class="tr" transform="translate(570.83 141.62)rotate(-41.35)">35</text>
<text class="tr" transform="translate(574.4 145.75)rotate(-40.32)">37.5</text>
<text class="tb" transform="translate(579.53 148.63)rotate(-39.29)">40Mb</text>
<text class="tr" transform="translate(581.33 154.22)rotate(-38.26)">42.5</text>
<text class="tr" transform="translate(584.68 158.55)rotate(-37.23)">45</text>
<text class="tr" transform="translate(587.95 162.93)rotate(-36.2)">47.5</text>
<text class="tr" transform="translate(591.14 167.37)rotate(-35.16)">50</text>
<text class="tr" transform="translate(594.25 171.87)rotate(-34.13)">52.5</text>
<text class="tr" transform="translate(597.28 176.43)rotate(-33.1)">55</text>
<text class="tr" transform="translate(600.22 181.04)rotate(-32.07)">57.5</text>
<text class="tb" transform="translate(608.58 190.93)rotate(-29.67)">0Mb</text>
<text class="tr" transform="translate(609.42 196.75)rotate(-28.64)">2.5</text>
<text class="tr" transform="translate(612 201.57)rotate(-27.61)">5</text>
<text class="tr" transform="translate(614.49 206.44)rotate(-26.58)">7.5</text>
<text class="tr" transform="translate(616.89 211.35)rotate(-25.55)">10</text>
<text class="tr" transform="translate(619.21 216.31)rotate(-24.51)">12.5</text>
<text class="tr" transform="translate(621.43 221.31)rotate(-23.48)">15</text>
<text class="tr" transform="translate(623.57 226.34)rotate(-22.45)">17.5</text>
<text class="tb" transform="translate(627.56 230.65)rotate(-21.42)">20Mb</text>
<text class="tr" transform="translate(627.56 236.52)rotate(-20.39)">22.5</text>
<text class="tr" transform="translate(629.42 241.67)rotate(-19.36)">25</text>
<text class="tr" transform="translate(631.19 246.85)rotate(-18.33)">27.5</text>
<text class="tr" transform="translate(632.86 252.05)rotate(-17.3)">30</text>
<text class="tr" transform="translate(634.44 257.29)rotate(-16.26)">32.5</text>
<text class="tr" transform="translate(635.92 262.55)rotate(-15.23)">35</text>
<text class="tr" transform="translate(637.31 267.84)rotate(-14.2)">37.5</text>
<text class="tb" transform="translate(640.65 272.68)rotate(-13.17)">40Mb</text>
<text class="tr" transform="translate(639.81 278.5)rotate(-12.14)">42.5</text>
<text class="tr" transform="translate(640.91 283.85)rotate(-11.11)">45</text>
<text class="tr" transform="translate(641.91 289.23)rotate(-10.08)">47.5</text>
<text class="tr" transform="translate(642.82 294.62)rotate(-9.05)">50</text>
<text class="tr" transform="translate(643.63 300.03)rotate(-8.01)">52.5</text>
<text class="tr" transform="translate(644.35 305.46)rotate(-6.98)">55</text>
<text class="tb" transform="translate(647.77 318.6)rotate(-4.46)">0Mb</text>
<text class="tr" transform="translate(646.06 324.22)rotate(-3.43)">2.5</text>
<text class="tr" transform="translate(646.33 329.69)rotate(-2.4)">5</text>
<text class="tr" transform="translate(646.51 335.15)rotate(-1.37)">7.5</text>
<text class="tr" transform="translate(646.59 340.62)rotate(-0.33)">10</text>
<text class="tr" transform="translate(646.58 346.09)rotate(0.7)">12.5</text>
<text class="tr" transform="translate(646.46 351.56)rotate(1.73)">15</text>
<text class="tr" transform="translate(646.25 357.03)rotate(2.76)">17.5</text>
<text class="tb" transform="translate(648.03 362.63)rotate(3.79)">20Mb</text>
<text class="tr" transform="translate(645.52 367.94)rotate(4.82)">22.5</text>
<text class="tr" transform="translate(645.02 373.39)rotate(5.85)">25</text>
<text class="tr" transform="translate(644.41 378.82)rotate(6.88)">27.5</text>
<text class="tr" transform="translate(643.7 384.25)rotate(7.92)">30</text>
<text class="tr" transform="translate(642.9 389.66)rotate(8.95)">32.5</text>
<text class="tr" transform="translate(642 395.05)rotate(9.98)">35</text>
<text class="tr" transform="translate(641.01 400.43)rotate(11.01)">37.5</text>
<text class="tb" transform="translate(641.97 406.23)rotate(12.04)">40Mb</text>
<text class="tr" transform="translate(638.73 411.13)rotate(13.07)">42.5</text>
<text class="tr" transform="translate(637.44 416.45)rotate(14.1)">45</text>
<text class="tr" transform="translate(636.06 421.74)rotate(15.13)">47.5</text>
<text class="tb" transform="translate(635.24 432.17)rotate(17.06)">0Mb</text>
<text class="tr" transform="translate(631.58 436.77)rotate(18.09)">2.5</text>
<text class="tr" transform="translate(629.83 441.95)rotate(19.12)">5</text>
<text class="tr" transform="translate(627.99 447.11)rotate(20.15)">7.5</text>
<text class="tr" transform="translate(626.06 452.22)rotate(21.19)">10</text>
<text class="tr" transform="translate(624.04 457.31)rotate(22.22)">12.5</text>
<text class="tr" transform="translate(621.93 462.35)rotate(23.25)">15</text>
<text class="tr" transform="translate(619.72 467.36)rotate(24.28)">17.5</text>
<text class="tb" transform="translate(619.33 473.22)rotate(25.31)">20Mb</text>
<text class="tr" transform="translate(615.05 477.25)rotate(26.34)">22.5</text>
<text class="tr" transform="translate(612.57 482.13)rotate(27.37)">25</text>
<text class="tr" transform="translate(610.02 486.96)rotate(28.4)">27.5</text>
<text class="tr" transform="translate(607.37 491.75)rotate(29.44)">30</text>
<text class="tr" transform="translate(604.64 496.49)rotate(30.47)">32.5</text>
<text class="tr" transform="translate(601.82 501.18)rotate(31.5)">35</text>
<text class="tr" transform="translate(598.92 505.81)rotate(32.53)">37.5</text>
<text class="tb" transform="translate(597.69 511.56)rotate(33.56)">40Mb</text>
<text class="tr" transform="translate(592.88 514.93)rotate(34.59)">42.5</text>
<text class="tr" transform="translate(589.73 519.4)rotate(35.62)">45</text>
<text class="tb" transform="translate(584.29 530.2)rotate(37.86)">0Mb</text>
<text class="tr" transform="translate(579.24 533.2)rotate(38.89)">2.5</text>
<text class="tr" transform="translate(575.76 537.43)rotate(39.92)">5</text>
<text class="tr" transform="translate(572.22 541.59)rotate(40.95)">7.5</text>
<text class="tr" transform="translate(568.59 545.69)rotate(41.99)">10</text>
<text class="tr" transform="translate(564.9 549.72)rotate(43.02)">12.5</text>
<text class="tr" transform="translate(561.13 553.69)rotate(44.05)">15</text>
<text class="tr" transform="translate(557.29 557.58)rotate(45.08)">17.5</text>
<text class="tb" transform="translate(554.84 562.93)rotate(46.11)">20Mb</text>
<text class="tr" transform="translate(549.41 565.17)rotate(47.14)">22.5</text>
<text class="tr" transform="translate(545.37 568.85)rotate(48.17)">25</text>
<text class="tr" transform="translate(541.26 572.46)rotate(49.2)">27.5</text>
<text class="tr" transform="translate(537.09 576)rotate(50.24)">30</text>
<text class="tr" transform="translate(532.85 579.46)rotate(51.27)">32.5</text>
<text class="tr" transform="translate(528.55 582.84)rotate(52.3)">35</text>
<text class="tr" transform="translate(524.2 586.15)rotate(53.33)">37.5</text>
<text class="tb" transform="translate(521 591.08)rotate(54.36)">40Mb</text>
<text class="tr" transform="translate(515.31 592.52)rotate(55.39)">42.5</text>
<text class="tr" transform="translate(510.78 595.59)rotate(56.42)">45</text>
<text class="tb" transform="translate(502.72 603.22)rotate(58.47)">0Mb</text>
<text class="tr" transform="translate(496.94 604.25)rotate(59.5)">2.5</text>
<text class="tr" transform="translate(492.2 606.99)rotate(60.53)">5</text>
<text class="tr" transform="translate(487.41 609.63)rotate(61.56)">7.5</text>
<text class="tr" transform="translate(482.58 612.19)rotate(62.59)">10</text>
<text class="tr" transform="translate(477.7 614.67)rotate(63.63)">12.5</text>
<text class="tr" transform="translate(472.78 617.05)rotate(64.66)">15</text>
<text class="tr" transform="translate(467.81 619.35)rotate(65.69)">17.5</text>
<text class="tb" transform="translate(463.64 623.49)rotate(66.72)">20Mb</text>
<text class="tr" transform="translate(457.77 623.67)rotate(67.75)">22.5</text>
<text class="tr" transform="translate(452.68 625.7)rotate(68.78)">25</text>
<text class="tr" transform="translate(447.57 627.63)rotate(69.81)">27.5</text>
<text class="tr" transform="translate(442.42 629.47)rotate(70.84)">30</text>
<text class="tr" transform="translate(437.23 631.22)rotate(71.88)">32.5</text>
<text class="tr" transform="translate(432.02 632.88)rotate(72.91)">35</text>
<text class="tr" transform="translate(426.78 634.44)rotate(73.94)">37.5</text>
<text class="tb" transform="translate(422.05 637.93)rotate(74.97)">40Mb</text>
<text class="tr" transform="translate(416.21 637.27)rotate(76)">42.5</text>
<text class="tb" transform="translate(403.18 642.36)rotate(78.6)">0Mb</text>
<text class="tr" transform="translate(397.41 641.33)rotate(79.63)">2.5</text>
<text class="tr" transform="translate(392.03 642.27)rotate(80.66)">5</text>
<text class="tr" transform="translate(386.64 643.11)rotate(81.69)">7.5</text>
<text class="tr" transform="translate(381.24 643.85)rotate(82.71)">10</text>
<text class="tr" transform="translate(375.82 644.49)rotate(83.74)">12.5</text>
<text class="tr" transform="translate(370.39 645.04)rotate(84.77)">15</text>
<text class="tr" transform="translate(364.95 645.48)rotate(85.8)">17.5</text>
<text class="tb" transform="translate(359.62 647.93)rotate(86.83)">20Mb</text>
<text class="tr" transform="translate(354.06 646.09)rotate(87.86)">22.5</text>
<text class="tr" transform="translate(348.6 646.24)rotate(88.89)">25</text>
<text class="tr" transform="translate(343.15 646.3)rotate(89.92)">27.5</text>
<text class="tr" transform="translate(337.69 646.26)rotate(90.94)">30</text>
<text class="tr" transform="translate(332.24 646.12)rotate(91.97)">32.5</text>
<text class="tr" transform="translate(326.78 645.88)rotate(93)">35</text>
<text class="tr" transform="translate(321.34 645.55)rotate(94.03)">37.5</text>
<text class="tb" transform="translate(315.71 647.21)rotate(95.06)">40Mb</text>
<text class="tr" transform="translate(310.47 644.59)rotate(96.09)">42.5</text>
<text class="tb" text-anchor="end" transform="translate(300.8 645.52)rotate(-82.13)">0Mb</text>
<text class="tr" text-anchor="end" transform="translate(295.68 642.64)rotate(-81.1)">2.5</text>
<text class="tr" text-anchor="end" transform="translate(290.28 641.75)rotate(-80.07)">5</text>
<text class="tr" text-anchor="end" transform="translate(284.9 640.75)rotate(-79.04)">7.5</text>
<text class="tr" text-anchor="end" transform="translate(279.54 639.66)rotate(-78)">10</text>
<text class="tr" text-anchor="end" transform="translate(274.2 638.48)rotate(-76.97)">12.5</text>
<text class="tr" text-anchor="end" transform="translate(268.88 637.2)rotate(-75.94)">15</text>
<text class="tr" text-anchor="end" transform="translate(263.59 635.82)rotate(-74.91)">17.5</text>
<text class="tb" text-anchor="end" transform="translate(257.74 636.37)rotate(-73.88)">20Mb</text>
<text class="tr" text-anchor="end" transform="translate(253.08 632.79)rotate(-72.85)">22.5</text>
<text class="tr" text-anchor="end" transform="translate(247.87 631.13)rotate(-71.82)">25</text>
<text class="tr" text-anchor="end" transform="translate(242.69 629.37)rotate(-70.79)">27.5</text>
<text class="tr" text-anchor="end" transform="translate(237.54 627.53)rotate(-69.75)">30</text>
<text class="tr" text-anchor="end" transform="translate(232.43 625.59)rotate(-68.72)">32.5</text>
<text class="tr" text-anchor="end" transform="translate(227.35 623.56)rotate(-67.69)">35</text>
<text class="tr" text-anchor="end" transform="translate(222.3 621.43)rotate(-66.66)">37.5</text>
<text class="tb" text-anchor="end" transform="translate(216.44 621.14)rotate(-65.63)">40Mb</text>
<text class="tb" text-anchor="end" transform="translate(204.4 615.36)rotate(-63.13)">0Mb</text>
<text class="tr" text-anchor="end" transform="translate(200.49 610.97)rotate(-62.1)">2.5</text>
<text class="tr" text-anchor="end" transform="translate(195.68 608.37)rotate(-61.07)">5</text>
<text class="tr" text-anchor="end" transform="translate(190.92 605.68)rotate(-60.04)">7.5</text>
<text class="tr" text-anchor="end" transform="translate(186.2 602.91)rotate(-59)">10</text>
<text class="tr" text-anchor="end" transform="translate(181.54 600.05)rotate(-57.97)">12.5</text>
<text class="tr" text-anchor="end" transform="translate(176.93 597.11)rotate(-56.94)">15</text>
<text class="tr" text-anchor="end" transform="translate(172.37 594.08)rotate(-55.91)">17.5</text>
<text class="tb" text-anchor="end" transform="translate(166.66 592.69)rotate(-54.88)">20Mb</text>
<text class="tr" text-anchor="end" transform="translate(163.42 587.79)rotate(-53.85)">22.5</text>
<text class="tr" text-anchor="end" transform="translate(159.04 584.52)rotate(-52.82)">25</text>
<text class="tr" text-anchor="end" transform="translate(154.71 581.18)rotate(-51.79)">27.5</text>
<text class="tr" text-anchor="end" transform="translate(150.44 577.75)rotate(-50.75)">30</text>
<text class="tr" text-anchor="end" transform="translate(146.24 574.26)rotate(-49.72)">32.5</text>
<text class="tr" text-anchor="end" transform="translate(142.1 570.68)rotate(-48.69)">35</text>
<text class="tr" text-anchor="end" transform="translate(138.02 567.04)rotate(-47.66)">37.5</text>
<text class="tb" text-anchor="end" transform="translate(132.57 564.84)rotate(-46.63)">40Mb</text>
<text class="tb" text-anchor="end" transform="translate(124 556.42)rotate(-44.38)">0Mb</text>
<text class="tr" text-anchor="end" transform="translate(121.71 551.01)rotate(-43.35)">2.5</text>
<text class="tr" text-anchor="end" transform="translate(117.99 547)rotate(-42.32)">5</text>
<text class="tr" text-anchor="end" transform="translate(114.34 542.92)rotate(-41.29)">7.5</text>
<text class="tr" text-anchor="end" transform="translate(110.77 538.78)rotate(-40.25)">10</text>
<text class="tr" text-anchor="end" transform="translate(107.27 534.57)rotate(-39.22)">12.5</text>
<text class="tr" text-anchor="end" transform="translate(103.85 530.3)rotate(-38.19)">15</text>
<text class="tr" text-anchor="end" transform="translate(100.51 525.97)rotate(-37.16)">17.5</text>
<text class="tb" text-anchor="end" transform="translate(95.55 522.82)rotate(-36.13)">20Mb</text>
<text class="tr" text-anchor="end" transform="translate(94.06 517.14)rotate(-35.1)">22.5</text>
<text class="tr" text-anchor="end" transform="translate(90.96 512.64)rotate(-34.07)">25</text>
<text class="tr" text-anchor="end" transform="translate(87.93 508.08)rotate(-33.04)">27.5</text>
<text class="tr" text-anchor="end" transform="translate(84.99 503.46)rotate(-32)">30</text>
<text class="tr" text-anchor="end" transform="translate(82.14 498.8)rotate(-30.97)">32.5</text>
<text class="tr" text-anchor="end" transform="translate(79.36 494.09)rotate(-29.94)">35</text>
<text class="tr" text-anchor="end" transform="translate(76.68 489.32)rotate(-28.91)">37.5</text>
<text class="tb" text-anchor="end" transform="translate(72.22 485.49)rotate(-27.88)">40Mb</text>
<text class="tb" text-anchor="end" transform="translate(66.46 474.04)rotate(-25.48)">0Mb</text>
<text class="tr" text-anchor="end" transform="translate(66.05 468.18)rotate(-24.45)">2.5</text>
<text class="tr" text-anchor="end" transform="translate(63.83 463.18)rotate(-23.42)">5</text>
<text class="tr" text-anchor="end" transform="translate(61.7 458.14)rotate(-22.39)">7.5</text>
<text class="tr" text-anchor="end" transform="translate(59.67 453.06)rotate(-21.35)">10</text>
<text class="tr" text-anchor="end" transform="translate(57.72 447.95)rotate(-20.32)">12.5</text>
<text class="tr" text-anchor="end" transform="translate(55.87 442.81)rotate(-19.29)">15</text>
<text class="tr" text-anchor="end" transform="translate(54.11 437.63)rotate(-18.26)">17.5</text>
<text class="tb" text-anchor="end" transform="translate(50.43 433.04)rotate(-17.23)">20Mb</text>
<text class="tr" text-anchor="end" transform="translate(50.86 427.18)rotate(-16.2)">22.5</text>
<text class="tr" text-anchor="end" transform="translate(49.39 421.91)rotate(-15.17)">25</text>
<text class="tr" text-anchor="end" transform="translate(48 416.62)rotate(-14.14)">27.5</text>
<text class="tr" text-anchor="end" transform="translate(46.71 411.31)rotate(-13.11)">30</text>
<text class="tr" text-anchor="end" transform="translate(45.52 405.97)rotate(-12.07)">32.5</text>
<text class="tr" text-anchor="end" transform="translate(44.43 400.61)rotate(-11.04)">35</text>
<text class="tr" text-anchor="end" transform="translate(43.43 395.23)rotate(-10.01)">37.5</text>
<text class="tb" text-anchor="end" transform="translate(40.45 390.16)rotate(-8.98)">40Mb</text>
<text class="tb" text-anchor="end" transform="translate(39.01 379.9)rotate(-7.04)">0Mb</text>
<text class="tr" text-anchor="end" transform="translate(40.47 374.25)rotate(-6.02)">2.5</text>
<text class="tr" text-anchor="end" transform="translate(39.95 368.84)rotate(-4.99)">5</text>
<text class="tr" text-anchor="end" transform="translate(39.53 363.43)rotate(-3.97)">7.5</text>
<text class="tr" text-anchor="end" transform="translate(39.2 358)rotate(-2.94)">10</text>
<text class="tr" text-anchor="end" transform="translate(38.97 352.58)rotate(-1.92)">12.5</text>
<text class="tr" text-anchor="end" transform="translate(38.84 347.15)rotate(-0.89)">15</text>
<text class="tr" text-anchor="end" transform="translate(38.8 341.71)rotate(0.13)">17.5</text>
<text class="tb" text-anchor="end" transform="translate(36.76 336.24)rotate(1.15)">20Mb</text>
<text class="tr" text-anchor="end" transform="translate(39.02 330.85)rotate(2.18)">22.5</text>
<text class="tr" text-anchor="end" transform="translate(39.27 325.43)rotate(3.2)">25</text>
<text class="tr" text-anchor="end" transform="translate(39.63 320.01)rotate(4.23)">27.5</text>
<text class="tr" text-anchor="end" transform="translate(40.07 314.59)rotate(5.25)">30</text>
<text class="tr" text-anchor="end" transform="translate(40.62 309.19)rotate(6.27)">32.5</text>
<text class="tr" text-anchor="end" transform="translate(41.26 303.79)rotate(7.3)">35</text>
<text class="tb" text-anchor="end" transform="translate(40.57 293.9)rotate(9.12)">0Mb</text>
<text class="tr" text-anchor="end" transform="translate(43.54 288.92)rotate(10.14)">2.5</text>
<text class="tr" text-anchor="end" transform="translate(44.54 283.63)rotate(11.15)">5</text>
<text class="tr" text-anchor="end" transform="translate(45.63 278.35)rotate(12.17)">7.5</text>
<text class="tr" text-anchor="end" transform="translate(46.81 273.09)rotate(13.18)">10</text>
<text class="tr" text-anchor="end" transform="translate(48.08 267.86)rotate(14.2)">12.5</text>
<text class="tr" text-anchor="end" transform="translate(49.45 262.65)rotate(15.21)">15</text>
<text class="tr" text-anchor="end" transform="translate(50.91 257.46)rotate(16.23)">17.5</text>
<text class="tb" text-anchor="end" transform="translate(50.46 251.68)rotate(17.25)">20Mb</text>
<text class="tr" text-anchor="end" transform="translate(54.1 247.17)rotate(18.26)">22.5</text>
<text class="tr" text-anchor="end" transform="translate(55.84 242.07)rotate(19.28)">25</text>
<text class="tr" text-anchor="end" transform="translate(57.66 237.01)rotate(20.29)">27.5</text>
<text class="tr" text-anchor="end" transform="translate(59.57 231.97)rotate(21.31)">30</text>
<text class="tr" text-anchor="end" transform="translate(61.58 226.97)rotate(22.32)">32.5</text>
<text class="tr" text-anchor="end" transform="translate(63.67 222)rotate(23.34)">35</text>
<text class="tb" text-anchor="end" transform="translate(65.64 212.5)rotate(25.12)">0Mb</text>
<text class="tr" text-anchor="end" transform="translate(69.91 208.46)rotate(26.15)">2.5</text>
<text class="tr" text-anchor="end" transform="translate(72.36 203.57)rotate(27.18)">5</text>
<text class="tr" text-anchor="end" transform="translate(74.91 198.73)rotate(28.21)">7.5</text>
<text class="tr" text-anchor="end" transform="translate(77.54 193.93)rotate(29.25)">10</text>
<text class="tr" text-anchor="end" transform="translate(80.25 189.18)rotate(30.28)">12.5</text>
<text class="tr" text-anchor="end" transform="translate(83.05 184.48)rotate(31.31)">15</text>
<text class="tr" text-anchor="end" transform="translate(85.93 179.84)rotate(32.34)">17.5</text>
<text class="tb" text-anchor="end" transform="translate(87.15 174.09)rotate(33.37)">20Mb</text>
<text class="tr" text-anchor="end" transform="translate(91.95 170.7)rotate(34.4)">22.5</text>
<text class="tr" text-anchor="end" transform="translate(95.08 166.22)rotate(35.43)">25</text>
<text class="tr" text-anchor="end" transform="translate(98.29 161.79)rotate(36.46)">27.5</text>
<text class="tr" text-anchor="end" transform="translate(101.58 157.42)rotate(37.5)">30</text>
<text class="tr" text-anchor="end" transform="translate(104.95 153.11)rotate(38.53)">32.5</text>
<text class="tb" text-anchor="end" transform="translate(111.97 141.4)rotate(41.06)">0Mb</text>
<text class="tr" text-anchor="end" transform="translate(117.18 138.69)rotate(42.09)">2.5</text>
<text class="tr" text-anchor="end" transform="translate(120.89 134.67)rotate(43.12)">5</text>
<text class="tr" text-anchor="end" transform="translate(124.66 130.71)rotate(44.15)">7.5</text>
<text class="tr" text-anchor="end" transform="translate(128.51 126.82)rotate(45.19)">10</text>
<text class="tr" text-anchor="end" transform="translate(132.42 123)rotate(46.22)">12.5</text>
<text class="tr" text-anchor="end" transform="translate(136.4 119.25)rotate(47.25)">15</text>
<text class="tr" text-anchor="end" transform="translate(140.45 115.57)rotate(48.28)">17.5</text>
<text class="tb" text-anchor="end" transform="translate(143.2 110.38)rotate(49.31)">20Mb</text>
<text class="tr" text-anchor="end" transform="translate(148.75 108.44)rotate(50.34)">22.5</text>
<text class="tr" text-anchor="end" transform="translate(152.99 104.99)rotate(51.37)">25</text>
<text class="tr" text-anchor="end" transform="translate(157.29 101.61)rotate(52.4)">27.5</text>
<text class="tr" text-anchor="end" transform="translate(161.66 98.31)rotate(53.44)">30</text>
<text class="tb" text-anchor="end" transform="translate(169.07 90.43)rotate(55.43)">0Mb</text>
<text class="tr" text-anchor="end" transform="translate(174.79 89.1)rotate(56.46)">2.5</text>
<text class="tr" text-anchor="end" transform="translate(179.38 86.11)rotate(57.49)">5</text>
<text class="tr" text-anchor="end" transform="translate(184.02 83.22)rotate(58.52)">7.5</text>
<text class="tr" text-anchor="end" transform="translate(188.71 80.4)rotate(59.56)">10</text>
<text class="tr" text-anchor="end" transform="translate(193.45 77.67)rotate(60.59)">12.5</text>
<text class="tr" text-anchor="end" transform="translate(198.24 75.03)rotate(61.62)">15</text>
<text class="tr" text-anchor="end" transform="translate(203.07 72.47)rotate(62.65)">17.5</text>
<text class="tb" text-anchor="end" transform="translate(207.02 68.12)rotate(63.68)">20Mb</text>
<text class="tr" text-anchor="end" transform="translate(212.88 67.62)rotate(64.71)">22.5</text>
<text class="tr" text-anchor="end" transform="translate(217.85 65.33)rotate(65.74)">25</text>
<text class="tb" text-anchor="end" transform="translate(227.92 58.74)rotate(67.97)">0Mb</text>
<text class="tr" text-anchor="end" transform="translate(233.8 58.68)rotate(69)">2.5</text>
<text class="tr" text-anchor="end" transform="translate(238.92 56.77)rotate(70.03)">5</text>
<text class="tr" text-anchor="end" transform="translate(244.08 54.95)rotate(71.06)">7.5</text>
<text class="tr" text-anchor="end" transform="translate(249.27 53.22)rotate(72.1)">10</text>
<text class="tr" text-anchor="end" transform="translate(254.49 51.58)rotate(73.13)">12.5</text>
<text class="tr" text-anchor="end" transform="translate(259.74 50.04)rotate(74.16)">15</text>
<text class="tr" text-anchor="end" transform="translate(265.01 48.6)rotate(75.19)">17.5</text>
<text class="tb" text-anchor="end" transform="translate(269.81 45.21)rotate(76.22)">20Mb</text>
<text class="tr" text-anchor="end" transform="translate(275.64 45.99)rotate(77.25)">22.5</text>
<text class="tr" text-anchor="end" transform="translate(280.98 44.83)rotate(78.28)">25</text>
<text class="tb" text-anchor="end" transform="translate(288.83 41.18)rotate(79.86)">0Mb</text>
<text class="tr" text-anchor="end" transform="translate(294.59 42.33)rotate(80.89)">2.5</text>
<text class="tr" text-anchor="end" transform="translate(300 41.52)rotate(81.92)">5</text>
<text class="tr" text-anchor="end" transform="translate(305.42 40.8)rotate(82.95)">7.5</text>
<text class="tr" text-anchor="end" transform="translate(310.85 40.17)rotate(83.99)">10</text>
<text class="tr" text-anchor="end" transform="translate(316.3 39.65)rotate(85.02)">12.5</text>
<text class="tr" text-anchor="end" transform="translate(321.75 39.22)rotate(86.05)">15</text>
<path d="M360.84 113.44L361.79 116.12L363.11 114.28L364.03 116.94L365.37 115.1L366.53 115.09L367.81 114.09L368.8 115.73L370.23 113.57L371.26 114.73L372.74 112.4L373.5 115.6L375.35 110.77L376.04 114.27L377.31 113.74L378.56 113.33L380.05 111.48L381.17 111.98L382.42 111.76L384.11 109.02L384.38 114.27L385.85 112.81L387.9 108.47L388.49 111.7L389.96 110.47L390.94 111.65L392.22 111.41L393.06 113.19L394.97 110.15L396.16 110.34L397.8 108.66L398.08 112.72L400.11 109.51L401.09 110.6L402.4 110.39L402.82 113.57L404.26 112.83L405.12 114.27L406.95 112.17L407.44 114.91L409.45 112.29L409.39 116.78L411.04 115.44L411.82 117.02L414.24 113.29L413.88 118.45L415.48 117.38L416.39 118.45L417.75 118.19L418.07 120.96L419.63 120.1L420.23 121.98L421.63 121.61L421.99 124.09L423.4 123.68L424.58 123.9L423.52 130.02L426.13 126.47L428.33 124.1L428.79 126.16L430.42 125.27L430.56 128.08L432.45 126.59L432.23 130.17L434.38 128.12L435.06 129.54L437.07 127.88L437.31 130.28L438.97 129.47L439.39 131.41L441 130.75L440.66 134.25L443.45 131.12L442.8 135.19L445.07 133.22L446 134L449.52 129.61L448.17 134.95L450.45 133.11L450.79 135.03L452.3 134.72L452.45 136.98L454.31 136.02L454.23 138.65L456.14 137.64L457.1 138.35L459.04 137.35L458.59 140.53L460.72 139.23L457.88 146.41L462.54 140.84L462.76 142.79L464.45 142.28L464.72 144.12L466.69 143.2L466.59 145.59M476.09 148.75L475.73 151.36L476.6 152.18L477.56 152.87L478.91 153.02L478.26 155.94L481.1 154.04L479.15 158.67L484.65 153.27L484.78 155.1L486.35 155.01L488.15 154.66L490.45 153.68L490.52 155.55L492.19 155.39L492.55 156.89L493.64 157.47L493.66 159.35L495.19 159.4L494.25 162.4L496.99 161.03L497.73 162.03L498.98 162.43L499.33 163.87L503.84 160.6L503.46 162.87L504.13 163.96L503.01 167.01L505.92 165.63L506.22 167.1L508.03 166.96L507.95 168.82L510.08 168.37L509.91 170.3L510.62 171.32L509.64 174.04L511.78 173.61L512.83 174.28L512.86 175.95L513.6 176.92L515.31 176.95L514.77 179.14L518.01 177.76L518.67 178.81L518.83 180.33L517.96 182.76L520.27 182.3L517.52 186.39L520.25 185.57L518.34 188.84L520.38 188.64L521.42 189.32L523.36 189.25L522.47 191.56L525.21 190.84L524.38 193.09L524.32 194.67L522.7 197.51L525.53 196.76L524.88 198.78L526.39 199.1L524.9 201.74L526.87 201.71L527.13 203L529.77 202.49L529.31 204.31L532.76 203.25L530.66 206.24L533.21 205.87L534.08 206.71L534.72 207.72L534.82 209.1L536.49 209.4L536.37 210.93L538.51 210.92L537.76 212.86L541.23 212.01L540.14 214.15L541.6 214.64L540.79 216.58L543.38 216.36L543.15 217.92M549.14 226.46L548.15 228.39L548.73 229.44L547.66 231.38L549.32 231.84L550.44 232.6L550.79 233.77L550.58 235.23L553.8 234.93L553.26 236.55L554.88 237.09L558.82 236.51L555.13 239.66L556.3 240.43L559.4 240.31L557.49 242.54L557.6 243.83L561.29 243.48L561.54 244.71L560.01 246.72L563.26 246.63L561.92 248.54L561.51 250.03L562.06 251.12L563.27 251.93L563.78 253.04L564.96 253.88L565.33 255.04L567.61 255.47L565.01 257.78L566.36 258.57L565.62 260.14L567.35 260.8L563.84 263.35L563.76 264.65L562.58 266.33L564.06 267.08L563.95 268.37L566.21 268.88L564.65 270.65L566.14 271.42L566.93 272.43L567.42 273.53L562.56 276.25L563.57 277.17L564.53 278.12L566.69 278.73L565.04 280.42L566.93 281.13L567.63 282.17L567.99 283.3L567.51 284.65L569.81 285.3L570.54 286.35L573.24 286.93L577.8 287.1L574.88 289.04L573.2 290.66L576.09 291.26L575.91 292.55L576.55 293.66L574.89 295.24L576.56 296.14L577.44 297.21L578.19 298.31L577.5 299.68L575.44 301.28L574.26 302.71L579.38 303.07L577.52 304.61L580.21 305.42L579.66 306.75L582.26 307.6L578.59 309.37L579.66 310.45L578.72 311.8L582.43 312.56L581.29 313.94L582.77 315M579.69 325.37L579.41 326.58L579.43 327.78L580.82 328.89L580.79 330.09L579.87 331.33L580.65 332.49L579.49 333.73L581.04 334.87L580.24 336.09L582.53 337.23L580.39 338.47L583.02 339.64L581.53 340.85L581.48 342.05L581.02 343.25L583.36 344.46L583.21 345.67L584.05 346.89L584.56 348.12L583.82 349.31L582.4 350.47L585.78 351.81L582 352.87L584.84 354.21L581.09 355.22L590.92 357L583.18 357.76L581.86 358.88L578.83 359.86L583.29 361.41L579.74 362.33L581.2 363.65L581.41 364.88L581.12 366.06L577.83 366.93L579.81 368.34L573.44 368.81L579.02 370.65L576.38 371.53L577.63 372.88L573.59 373.54L574.83 374.89L572.12 375.69L573.25 377.03L574.52 378.42L574.72 379.64L571.08 380.23L573.83 381.88L571.16 382.61L573.51 384.21L570.65 384.88L572.36 386.39L572.76 387.67L573.01 388.92L571.1 389.73L572.39 391.2L569.15 391.7L569.56 392.98L569.81 394.24L571.89 395.92L570.38 396.78L571.81 398.33L571.15 399.39L573 401.08L571.77 401.99L573.15 403.59M565.03 412.12L562.13 412.43L564.17 414.33L562.26 414.94L562.42 416.23L560.41 416.79L563.22 419L560.91 419.45L562.22 421.17L560.43 421.78L562.26 423.71L562.47 425.06L561.35 425.91L560.16 426.72L559.95 427.92L558.37 428.56L559.37 430.24L557.29 430.67L557.79 432.15L556.42 432.86L558.15 434.88L556.51 435.47L557.63 437.26L557.1 438.33L557.19 439.68L555.65 440.29L556.67 442.08L553.91 442.1L555.25 444.06L553.21 444.4L556.75 447.46L553.47 447.18L554.61 449.1L552.9 449.58L553.98 451.49L553.08 452.38L553.16 453.79L552.16 454.62L552.02 455.92L550.31 456.36L550.97 458.11L550.5 459.23L551.42 461.15L550.18 461.84L549.4 462.79L547.99 463.37L548.85 465.3L545.9 464.94L546.67 466.83L545.6 467.59L544.89 468.57L542.98 468.8L544.31 471.08L542.52 471.37L543.79 473.64L541.42 473.54L543.57 476.43L540.78 476.03L540.76 477.48L538.24 477.22L539.34 479.46L529.53 474.03L536.46 480.4L535.4 481.12M528.29 488.49L526.45 488.57L528.22 491.51L525.38 490.77L526.69 493.39L524.17 492.87L524.45 494.66L522.76 494.81L522.88 496.48L521.11 496.55L521.67 498.63L519.48 498.3L521.73 501.9L519.54 501.57L519.51 503.18L517.26 502.76L517.88 504.97L516.95 505.76L515.56 506.11L515.22 507.46L514.82 508.77L513.77 509.43L510.78 508.2L509.55 508.66L509.45 510.25L506.72 509.19L507.08 511.27L504.75 510.57L505.93 513.53L504.65 513.91L503.69 514.64L502.47 515.08L502.67 517.07L499.79 515.68L501.47 519.33L501.93 521.67L501.27 522.76L499.13 522.16L499 523.86L496.73 523.07L496.77 524.99L496.07 526.04L495.36 527.08L494.37 527.8L493.79 529.01L491.83 528.51L493.09 532.05L490.92 531.28L491.98 534.63L489.95 534.01L490.87 537.25L488.39 536.02L488.44 538.14L486.85 538.08L485.92 538.89L484.53 539.08L484.11 540.61L482.24 540.11L481.32 540.93L479.81 540.91L479.36 542.42L476.35 540.16L476.62 542.74L474.04 541.06M468.29 549.94L465.34 547.38L464.64 548.56L464.2 550.18L463.22 550.9L462.36 551.84L461.46 552.7L459.38 551.46L458.82 552.93L456.84 551.83L456.49 553.7L454.4 552.35L453.66 553.5L451.78 552.48L450.77 553.11L449.57 553.39L449.3 555.49L447.61 554.78L448.12 558.54L445.74 556.37L446.19 560.09L444.35 559.04L443.39 559.81L442.15 560L440.57 559.42L439.09 559.03L439.41 562.72L437.35 561L435.93 560.73L434.02 559.26L433.7 561.59L431.19 558.6L430.79 560.73L429.3 560.18L430.33 566.05L428.12 563.66L426.3 562.23L424.99 562.1L424.18 563.3L423.45 564.75L422.27 565.01L420.86 564.55L419.62 564.6L418.41 564.71L417.29 565.06L415.16 562.37L414.76 564.92L413.43 564.61L412.89 566.8L411.06 564.86L410.1 565.73L408.87 565.72L407.44 564.97L406.12 564.59L405.65 567.23L404.81 568.59L404.04 570.25L402.47 568.95L401.19 568.71L399.9 568.4L398.38 567.11L397.5 568.45L396.9 570.95M389.22 580.62L387.55 578.3L386.45 578.97L384.94 577.33L384.22 580.13L382.76 578.69L382.06 581.81L380.48 579.57L379.65 582.04L378.1 579.82L377.25 582.33L375.73 580.15L374.91 583.07L373.26 579.73L372.23 581.1L370.85 579.69L369.14 575.17L368.69 581.88L367.49 581.92L366.19 580.9L365.27 583.95L363.75 580.43L362.76 582.91L361.29 579.57L360.13 580.01L358.93 579.81L357.79 580.67L356.62 581.06L355.48 582.02L354.18 579.8L353.12 582.73L351.72 577.48L350.62 579.87L349.43 579.64L348.3 581.75L347.04 578.1L345.88 579.2L344.68 577.67L343.51 578.47L342.34 577.74L341.16 577.96L340 577.46L338.79 579.26L337.67 576.63L336.3 584.18L335.32 577.11L334.12 577.73L333 576.4L331.76 578.1L330.57 578.22L329.37 578.62L328.24 577.74L327.12 576.95L326.13 574.35L324.87 575.67L323.76 574.89L322.49 576.09L321.48 574.32L320.1 576.5L319.16 574.16M308.97 575.89L308.14 573.4L306.59 575.69L305.44 575.34L304.35 574.6L303.71 571.3L301.95 574.56L301.55 570.05L299.92 572.47L298.78 572.11L297.33 573.37L296.1 573.48L294.99 572.96L294.26 570.67L293.59 568.21L292.2 569.07L290.56 571L290.27 567.01L288.45 569.65L287.65 567.92L286.01 569.68L285.23 567.96L283.71 569.11L282.93 567.44L281.26 569.13L280.56 567.21L279.13 567.94L278.25 566.71L276.02 570.12L274.84 569.88L273.05 571.65L272.53 569.25L270.83 570.66L270.04 569.15L268.47 570.09L267.23 569.98L265.85 570.3L264.55 570.34L263.08 570.87L263.56 565.84L261.14 569.04L260.18 568.13L258.79 568.39L258.44 565.85L256.36 567.93L255.69 566.27L253.88 567.56L253.63 564.89L252.35 564.84L252.27 561.84L250.59 562.76L250.74 559.31L248.66 561.15L248.63 558.21L246.71 559.61L246.39 557.38L244.57 558.53L244.5 555.81M235.66 550.5L234.8 549.6L233.17 550.17L232.87 548.22L230.51 550.12L230.06 548.46L228.4 549.02L227.89 547.5L226.76 547.09L226.34 545.45L224.47 546.33L224.56 543.82L222.43 545.11L222.63 542.47L220.79 543.24L220.19 541.95L218.91 541.78L218.36 540.44L216.87 540.59L217.74 537.04L214.5 539.91L215.04 536.92L213.8 536.66L213.62 534.82L211.78 535.46L211.91 533.19L209.11 535.19L208.54 533.95L207.39 533.53L207.77 530.98L205.66 531.91L205.64 529.94L204.04 530.13L203.75 528.56L201.6 529.46L201.48 527.68L200.28 527.31L201.16 524.27L199.54 524.46L198.68 523.67L195.64 525.58L195.85 523.46L194.06 523.78L192.87 523.37L188.72 526.5L190.3 522.75L187.74 523.92L187.39 522.48L184.64 523.81L185.24 521.3L182.74 522.3L182.89 520.32L181.08 520.53L181.41 518.38L178.2 520.07L179.9 516.48L176.68 518.13L178.87 514.08M176.27 503.29L177.49 500.52L175.74 500.6L173.65 500.99L171.5 501.41L171.12 500.17L169.73 499.86L170 498.04L168.71 497.64L168.75 496.05L168.77 494.49L169.05 492.72L167.92 492.18L165.87 492.41L163.66 492.75L164.58 490.47L160.53 492.3L162.36 489.29L161.98 488.11L160.71 487.64L157.85 488.42L164.78 481.51L160.77 483.18L161.2 481.41L157.07 483.1L156.73 481.9L156.85 480.37L159.46 477.02L157.95 476.71L158.37 475L156.15 475.19L158.58 472.08L155.18 473.08L154.45 472.19L150.93 473.21L150.87 471.85L148.2 472.24L147.4 471.38L145.37 471.3L146.92 468.9L144.38 469.14L144.15 467.9L144.14 466.52L144.77 464.75L145.39 463.01L143.85 462.6L146.77 459.5L146.83 458.13L147.19 456.61L147.57 455.09L144.7 455.43L144.66 454.14L143.23 453.64L142.45 452.76L139.96 452.82L140.8 451.06L136.99 451.79L139.54 449.13L139.54 447.85M127.01 443.57L126.88 442.33L126.97 440.99L130.5 438.11L128.21 437.86L130.99 435.36L120.96 438.45L125.81 435.07L125.07 434.11L124.87 432.93L117.82 434.54L124.39 430.59L122.5 430.08L121.47 429.22L117.65 429.43L119.5 427.44L116.68 427.23L119.47 424.92L116.91 424.59L120.15 422.16L117.6 421.82L119.36 419.95L116.09 419.83L116.84 418.32L114.79 417.75L115.97 416.11L113.78 415.57L113.77 414.32L111.13 413.88L111.62 412.48L108.05 412.29L112.37 409.76L110.95 408.92L112.19 407.33L111.68 406.23L111.08 405.16L111.16 403.91L116.61 401.26L113.48 400.86L113.11 399.74L113.08 398.53L115.51 396.74L114.45 395.8L113.6 394.8L112.57 393.83L113.75 392.37L110.47 391.88L113.54 390.04L111.78 389.21L113 387.77L110.26 387.11L114.43 385.14L109.48 384.86L113.54 382.95L111.85 382.07L112.61 380.76L112.9 379.54M108.66 369.85L108.84 368.65L108.91 367.46L111.51 366.02L109.7 365.03L109.7 363.86L107.86 362.85L110.43 361.46L108.97 360.41L113.12 358.94L112.21 357.85L117.3 356.39L114.74 355.4L116.48 354.17L115.16 353.11L114.02 352.02L113.53 350.9L118.57 349.59L113.78 348.6L115.83 347.42L111.89 346.35L115.17 345.17L113.64 344.04L113.23 342.9L111.77 341.76L113.88 340.62L113.09 339.47L115.08 338.36L114.22 337.21L112.89 336.03L112.12 334.86L114.35 333.8L110.05 332.47L118.22 331.7L111.37 330.22L112.67 329.14L107.25 327.65L107.9 326.51L107.06 325.28L109.21 324.26L104.4 322.7L111.17 322.09L108.42 320.68L111.48 319.8L116.57 319.16L111.51 317.47L110.09 316.15L111.31 315.12L109.25 313.69M108.87 303.4L107.31 301.94L104.95 300.33L110.32 300.09L106.87 298.26L108.48 297.36L106.58 295.79L109.3 295.12L102.34 292.48L111.03 293.09L109.27 291.51L111.31 290.75L111.61 289.62L111.83 288.47L107.12 286.14L109.26 285.43L109.62 284.3L110.92 283.41L111.12 282.24L112.57 281.4L112.56 280.18L113.86 279.32L114.25 278.21L113.45 276.76L113.84 275.65L116.4 275.18L117.18 274.2L119.61 273.73L117.37 271.82L118.53 270.97L117.96 269.56L118.4 268.48L117.77 267.04L122.12 267.28L119.82 265.27L121.89 264.76L119.36 262.63L121.86 262.29L117.83 259.57L125.7 261.25L124.05 259.4L127.38 259.45L125.66 257.55L128.03 257.25L126.61 255.45L127.64 254.63L126.69 253L128.79 252.62L128.86 251.41M131.4 241.75L132.47 240.96L131.9 239.38L132.33 238.28L130.7 236.14L132.81 235.87L132.98 234.63L135.74 234.73L134.18 232.59L136.22 232.33L134.82 230.24L135.59 229.31L132.07 226.01L134.28 225.86L133.32 223.94L135.17 223.6L133.94 221.51L136.21 221.43L135.5 219.62L137.81 219.59L136.52 217.4L138.1 216.95L136.59 214.59L138.25 214.2L139.24 213.39L140.64 212.85L142.22 212.44L143.41 211.78L143.32 210.29L146.7 211.11L145.63 208.95L146.54 208.13L145.49 205.94L146.96 205.51L147.49 204.41L150.71 205.23L150.79 203.83L158.14 207.72L153.63 202.97L154.26 201.97L155.62 201.51L157.73 201.64L153.65 197.03L159.79 200.28L156.04 195.86L158.92 196.62L158.99 195.16M163.77 184.6L164.04 183.26L162.45 180.25L165.13 181.07L166.53 180.75L165.16 177.88L167.27 178.22L169.84 179.02L169.13 176.73L172.08 177.93L172.51 176.72L174.34 176.88L172.89 173.8L175.89 175.14L175.75 173.34L176.64 172.58L176.37 170.62L180.92 173.66L180.47 171.52L181.99 171.44L178.86 166.38L180.71 166.65L180.75 164.95L185.42 168.34L183.47 164.44L185.06 164.46L185.65 163.36L188.53 164.88L188.05 162.55L188.76 161.58L189.21 160.3L191.55 161.27L192.05 160.06L193.41 159.88L191.97 156.26L195.22 158.43L191.67 152.09L192.81 151.6L193.35 150.35L195.96 151.78L195.03 148.6L196.91 149.11L196.26 146.24L197.15 145.41M208.72 145.4L210.21 145.54L210.99 144.65L212.32 144.57L213.2 143.81L215.3 144.94L214.62 141.77L216.69 142.88L216.81 140.92L218.97 142.21L219.46 140.84L219.96 139.43L220.24 137.67L221.94 138.27L223.68 138.97L224.74 138.51L225.14 136.92L226.39 136.79L227.04 135.6L230.34 139.2L229.76 135.8L231.6 136.81L231.78 134.74L234.19 136.86L234.83 135.63L237.19 137.76L237.04 134.99L239.14 136.66L238.85 133.57L240.57 134.51L241.24 133.3L243.07 134.52L243.17 132.12L245.25 133.9L245.16 131.05L247.35 133.14L248.5 132.96L249.3 132.03M255.27 122.48L257.1 124.01L257.97 123.12L259.43 123.74L260.55 123.5L261.84 123.72L262.4 121.97L263.21 120.85L264.55 121.22L266.11 122.26L267.83 123.8L269.52 125.3L270 123.22L271.81 125.17L272.65 124.17L274.18 125.33L275.07 124.49L276.54 125.51L276.95 123.05L278.49 124.35L279.66 124.44L280.49 123.34L281.1 121.43L283.03 124.25L283.06 120.14L284.65 121.8L285.26 119.75L286.58 120.45L287.6 119.96L288.9 120.61L289.56 118.58L291.05 120.08L291.46 116.89L292.95 118.46L293.64 116.38L294.86 116.77M302.85 111.44L304.14 112.53L304.86 110.23L306.52 113.72L307.51 113.12L308.06 109.47L309.12 109.2L310.52 111.28L310.84 105.52L312.26 107.83L312.84 103.63L314.29 106.36L315.38 106.16L316.75 108.41L317.89 108.85L318.74 106.36L319.72 105.12L320.84 105.17L321.86 104.18L322.85 102.6L323.87 101.32L324.98 101.15" class="ln"/>
<path d="M358.31 145.34L359.41 146.69L360.77 144.97L361.77 147.22L363.5 142.2L364.07 148.22L366.23 139.97L366.75 146.01L368.46 142.2L368.74 149.35L370.46 145.68L371.39 147.67L373.46 142.1L373.33 150.75L376.09 141.38L376.99 143.51L378.01 144.82L378.43 149.3L380.91 142.73L381.29 147.18L382.22 148.7L383.91 146.57L385.17 146.5L385.08 152.52L387.13 148.91L387.45 152.86L389.86 147.97L390.22 151.57L391.63 150.9L392.39 152.78L394.69 148.81L393.96 156.1L397 149.67L395.95 157.73L399.83 148.73L397 162.36L402.63 148L398.07 166.62L402.32 157.09L401.56 163.22L403.76 160.29L404.28 162.39L409.24 151.69L408.85 156.47L411.71 152.13L410.56 158.82L414.36 152.11L408.7 170.33L414.96 157.42L412.4 167.13L419.04 153.79L415.85 164.8L418.24 162.14L418.97 163.47L422.33 158.7L421.74 163.09L425.77 157.01L423.65 164.68L427.57 159.04L424.96 167.48L430.35 158.96L428.48 165.65L430.63 164L431.01 165.95L435.3 160.18L431.98 169.33L437.61 161.15L432.09 174.2L436.5 168.48L437.01 170.06L440.92 165.49L437.43 174.2L441.17 170.03L438.44 177.17L447.79 163.55L442.34 175.18L446.84 170.04L443.99 177.05L449.4 170.58L446.23 177.94M461.27 170.26L456.04 179.98L464.61 169.93L460.34 178.1L463.9 175.26L453.58 191.42L463.14 180.48L462.11 183.87L462.83 184.91L456.13 195.56L465.04 185.98L467.5 184.81L468.83 185.11L463.43 193.69L470.3 187.16L467.81 192.06L474.17 186.34L470.67 192.35L474.98 189.19L470.57 196.1L473.74 194.29L474.08 195.7L478.05 193.11L476.98 196.08L480.96 193.56L477.6 198.93L483.61 194.34L480.41 199.45L484.9 196.57L485.91 197.3L487.69 197.27L482.19 204.46L490.38 198.12L483.63 206.36L489.89 202.03L486.63 206.8L491.52 203.88L488.13 208.68L491.19 207.51L488.61 211.46L493.19 208.98L485.73 217.14L491.25 213.89L491.04 215.63L497.34 211.86L492.92 217.14L496.21 215.97L492.27 220.73L499.08 216.75L491.88 224.02L496.66 221.74L492.99 226.07L500.44 221.83L499.1 224.35L503.11 222.84L496.82 228.97L503.31 225.69L503.3 227.18L506.96 226.05L501.7 231.22L509.94 226.96L501.58 234.14L512.25 228.37L504.51 234.99L505.56 235.72L499.5 241.04L506.82 237.7L509.2 237.6L510.69 238.08M514.44 245.95L511.21 249.11L512.94 249.51L513.36 250.63L515.72 250.73L511.45 254.31L515.68 253.44L515.92 254.66L518.14 254.88L516.93 256.82L520.57 256.37L521.28 257.38L526.47 256.28L523.22 259.15L525.58 259.42L524.78 261.12L524.27 262.67L522.27 264.86L523.27 265.74L524.34 266.59L530.46 265.39L520.56 270.72L529.59 268.41L521.87 272.73L531.02 270.5L528.57 272.73L524.69 275.46L523.79 277.04L527.35 277.03L516.8 281.96L528.13 279.3L523.32 282.17L531.51 280.72L527.73 283.21L534.9 282.21L528.47 285.47L533.58 285.18L526.67 288.48L537.87 286.49L534.8 288.64L540.15 288.45L536.91 290.61L539.73 291.15L529.53 295.02L538.24 294.08L533.35 296.53L536.57 297.01L531.47 299.42L542.21 298.26L532.66 301.59L539.79 301.32L530.61 304.43L535.96 304.58L530.43 306.86L542.07 305.92L530.33 309.25L536.23 309.43L535.16 310.82L544.22 310.6L527.66 314.38L538.36 313.98L536.11 315.52L538.98 316.34L537.9 317.7L545.38 318.01L542.9 319.55M544.71 327.88L538.05 329.55L546.78 330.2L531.7 332.25L545.86 332.71L539.3 334.21L542.4 335.29L538.29 336.61L541.37 337.72L539.32 338.95L550.57 340.01L537.17 341.33L543.22 342.51L539.96 343.7L544.24 344.94L537.88 346.03L543.32 347.34L543.52 348.56L545.73 349.85L545.02 351.05L546.44 352.34L539.71 353.2L547.58 354.87L540.41 355.63L542.6 356.98L535.23 357.61L543.82 359.51L537.81 360.18L545.82 362.15L536.94 362.46L539.5 363.93L540.29 365.22L541.27 366.55L540.77 367.7L544.48 369.41L541.8 370.27L540.58 371.31L537.21 372.02L542.38 374.04L538.03 374.56L541.17 376.3L535.31 376.5L541.1 378.76L533.6 378.57L534.49 379.94L529.86 380.2L534.09 382.26L529.18 382.41L533.17 384.47L532.08 385.42L535.79 387.49L528.11 386.88L537.1 390.27L533.17 390.53L535.54 392.36L528.31 391.68M536.8 403.27L532.15 403.07L534.01 404.94L530.66 405.1L533.16 407.22L524.62 405.54L526.96 407.6L524.95 408.13L528.15 410.55L530.36 412.65L528.87 413.38L527.86 414.28L529.3 416.14L524.55 415.53L530.75 419.35L524.12 417.92L522.33 418.45L523.3 420.15L519.72 419.88L520.66 421.58L525.3 424.97L522.85 425.17L523.82 426.95L518.48 425.75L522.01 428.76L516.37 427.33L520.43 430.65L516.4 429.96L515.36 430.75L509.67 429.11L519.61 435.64L516.79 435.5L516.65 436.78L514.87 437.17L517.53 440.01L516.04 440.55L517.13 442.57L514.63 442.52L511.77 442.23L509.96 442.52L514.59 446.71L507.93 444.04L512.41 448.21L508.94 447.45L509.19 449.02L508.76 450.16L509.69 452.21L501.42 448.15L505.83 452.51L499.97 449.95L504.18 454.26L502.68 454.66L508.78 460.45L499.25 455.1M507.87 472.43L501.51 468.98L499.05 468.56L497.17 468.59L503.07 475.04L496.5 471.17L496.81 473.02L491.13 469.76L492.5 472.5L488.24 470.36L494.29 477.31L489.42 474.57L491.36 477.94L486.39 475.01L490.6 480.55L487.28 479.1L488.53 481.96L482.89 478.19L487.85 484.7L482.58 481.2L484.3 484.61L475.76 477.66L481.64 485.35L476.49 481.72L481.26 488.44L475.53 484.11L478.22 488.74L475.16 487.17L475.22 489.01L468.57 483.35L477.73 495.45L466.36 484.28L471.25 491.7L467.58 489.22L472.1 496.41L469.77 495.5L473.72 502.21L466.74 495.57L471.58 503.53L462.58 494.15L466.78 501.43L465.82 502.17L465.15 503.3L461.53 500.52L466.06 508.62L460.31 502.89L460.01 504.52L459.87 506.41L459.98 508.67L457.23 506.86L461 514.48L449.77 500.18L457.06 513.12L454.43 511.4M443.12 508.34L439.74 504.99L442.14 511.35L442.02 513.53L444.3 519.95L438.03 511.37L442.81 522.41L436.76 513.99L438.21 519.17L434.69 515.18L435.44 519.19L433.23 517.55L433.19 520.13L431.54 519.55L431.41 522.02L428.8 519.45L428.91 522.46L426.2 519.58L425.87 521.7L422.47 517.17L422.97 521.15L421.6 521L423.82 529.09L420.5 524.5L418.43 522.69L418.24 525.36L418.94 530.31L416.76 528.17L416.3 530.34L413.16 525.62L413.89 530.94L411.12 527.01L410.78 529.59L408.53 526.91L408.87 531.49L406.53 528.43L404.63 526.57L402.29 523.25L401.68 525.15L400.1 524.02L400.24 528.43L398.76 527.64L399.11 532.97L396.15 527.12L397.85 537.43L394.61 530.36L394.98 536.32L392.46 531.56L392.37 535.99L389.88 531.07L389.51 534.56L387.78 532.53M381.92 543.25L379.72 538.2L380.29 547.96L376.66 534.63L376.12 538.46L373.78 531.58L373.21 535.3L370.98 528.43L371.1 537.11L369.38 533.32L368.17 532.97L367.32 535.5L365.7 531.79L364.79 533.92L364.21 539.25L362.91 538.21L361.74 538.45L359.84 530.63L359.41 538.96L358.04 536.61L357.18 540.88L355.58 534.82L354.67 538.97L353.23 534.3L352.4 540.97L350.91 534.05L350.04 541.64L348.7 537.2L347.62 540.54L346.38 537.79L345.24 540.79L344.02 535.95L342.86 547.55L341.68 539.1L340.41 547.22L339.35 537.21L338.14 538.95L337.08 534.79L335.77 539.13L334.56 539.76L333.1 545.65L332.29 537.81L330.6 546.45L330.26 532.82L328.08 547.32L327.74 535.75L326.12 541.17L325.19 538.15L323.91 539.12L323.23 534.03M313.25 546.23L313.18 538.43L311.29 542.81L310.49 540.19L309.13 540.99L309.01 534.7L307.01 539.15L306.6 534.83L305.04 536.74L305.03 530.73L303.31 533.38L301.75 535.06L300.4 535.69L301.02 527.54L298.88 531.77L298.65 527.67L297.01 529.6L296.75 525.88L292.52 537.79L293.92 527.72L290.55 535.8L290.86 530.18L286.95 539.69L287.93 531.89L284.64 538.85L285.53 531.67L282.32 538.02L285.32 524.44L280.58 535.43L282.94 524.33L277.85 535.92L277.77 532.38L273.2 541.84L279.13 521.35L272.19 537.18L276.19 522.75L270.75 533.94L275.49 518.12L269.24 531.06L269.82 526.31L268.13 527.31L268.33 523.69L264.24 530.45L265.75 523.76L260 534.09L262.37 525.57L259.11 529.95L262.19 520.16L256.95 528.74M251.06 520.57L256.11 508.3L249.96 517.52L251.89 511.42L249.19 513.98L250.16 509.8L249.44 508.76L247.37 510.1L246.51 509.28L245.38 508.92L240.34 515.17L243.03 508.36L239.32 512.24L245.93 499.25L236.04 512.99L244.07 498.08L235.4 509.53L239.62 500.87L233.31 508.4L235.53 502.92L229.86 509.26L234.93 499.73L230.01 504.82L232.45 499.28L226.26 506.01L229.86 498.96L225.94 502.37L230.14 494.7L221.97 503.73L223.94 499.13L217.96 505L223.83 495.44L218.72 500.06L220.72 495.63L216.94 498.45L219.84 493.01L217.3 494.25L219.42 489.88L214.99 493.34L216.63 489.6L212.94 492.09L216.74 485.96L209.33 492.6L211.2 488.71L206.13 492.54L208.44 488.24L208.07 486.9L210.25 482.87L205.15 486.54M198.81 481.5L201.94 476.84L195.14 481.64L198.75 476.6L193.82 479.52L192.8 478.81L188.27 481.23L194.12 474.36L187.56 478.52L187.65 476.79L189.28 473.77L191.97 469.89L184.25 474.79L191.53 467.16L184.68 471.22L187.59 467.3L182.38 469.91L186.82 464.85L178.46 469.82L181.78 465.7L181.01 464.75L181.57 462.8L178.19 463.78L182.42 459.18L174.82 463.17L179.06 458.62L175.29 459.79L179.8 455.16L176.47 455.99L175.27 455.34L170.02 457.37L173.53 453.56L167.99 455.7L173.03 450.98L171.36 450.6L172.52 448.44L166.82 450.52L171.91 445.98L164.54 448.98L169.62 444.53L163.26 446.82L167.67 442.85L167.85 441.34L169.48 439.05L164.28 440.54L165.24 438.62L161.84 439.06L163.69 436.68L163.11 435.61M160.26 427.98L163.83 424.99L157.54 426.54L162.58 422.93L157.83 423.72L158.22 422.22L156.37 421.68L160.32 418.7L156.66 418.91L164.78 414.32L163.38 413.62L161.39 413.15L148.82 416.7L165.05 409.26L148.9 414L152.52 411.35L152.44 410.08L158.83 406.56L155.74 406.37L157.39 404.56L152.44 404.94L162.07 400.56L156.24 401.2L155.94 400.05L149.09 400.88L160.51 396.23L150.11 398.04L146.67 397.75L149.52 395.69L152.85 393.54L150.33 392.97L154.09 390.76L148.12 391.04L151.89 388.87L144.4 389.43L155.39 385.62L150.44 385.54L159.13 382.43L150.09 383.18L150.65 381.85L152.51 380.27L156.92 378.22L145.06 379.27L152.66 376.66L150.54 375.85L151.59 374.47L147.35 373.97M153.11 364.64L154.12 363.38L151.29 362.53L153.11 361.2L149.02 360.44L153.7 358.86L149.93 358.03L157.95 356.27L151.46 355.61L156.67 354.13L151.54 353.31L150.5 352.21L149.3 351.11L155.04 349.73L148.21 348.83L155.49 347.47L148.02 346.51L149.45 345.33L147.19 344.19L152.1 343.01L143.73 341.84L150.51 340.71L148.7 339.54L149.08 338.39L144.69 337.11L152.63 336.19L144.77 334.74L151.6 333.86L144.49 332.36L147.57 331.35L146.13 330.08L148.29 329.05L147 327.79L149.53 326.82L146.87 325.42L149.92 324.53L147.01 323.07L147.39 321.93L146.2 320.62L148.66 319.72L144.68 318.05M149.96 310.25L151.54 309.35L147.09 307.38L154.54 307.57L143.43 304.29L151.23 304.6L147.97 302.76L150.23 302.03L146.6 300.05L151 299.81L147.99 297.93L155.59 298.5L148.58 295.64L152.97 295.5L144.37 292.13L150.94 292.58L145.46 289.91L153.47 290.84L150.08 288.69L158.02 289.72L152.53 286.93L158.52 287.49L152.44 284.45L157.53 284.8L151.42 281.66L155.23 281.64L148.43 278.16L158.83 280.39L153.86 277.47L157.27 277.41L148.06 272.88L157.27 274.93L155.57 273.05L151.37 270.2L150.53 268.58L165.64 273.18L147.15 264.61L164.19 270.16L151.74 263.8L163.07 267.22L152.89 261.63M157.15 254.01L170.41 259.08L155.45 250.47L167.09 254.89L161.47 250.74L169.95 253.74L165.9 250.34L169.05 250.66L166.35 247.9L174.79 251.13L169.92 247.16L176.14 249.29L169.82 244.42L177.58 247.51L175.04 244.73L181.22 247.04L176.29 242.8L181.23 244.45L171.29 237.03L179.91 240.99L172.98 235.27L178.24 237.22L175.59 234.13L179.57 235.33L169.34 227.15L180.65 233.27L172.64 226.41L184.79 233.32L176.89 226.4L187.32 232.32L180.67 226.16L181.25 225.12L183.36 225.21L184.32 224.47L181.13 220.59L182.78 220.34L187.06 222.14L192.93 225.26L186.28 218.56L191.16 220.95M195.5 212.58L195.69 211.2L188.37 203.03L197.58 209.79L190.26 201.45L196.8 205.89L194.31 201.91L200.26 205.95L194.6 198.85L204.83 207.19L196.45 197.27L198.66 197.78L195.23 192.58L202.09 197.85L196.68 190.52L208.53 201.19L205.92 196.74L206.15 195.26L203.52 190.64L203.85 189.21L203.73 187.25L210.44 192.99L204.41 184.3L212.44 191.71L208.3 185.05L216.84 193.29L216.58 191.18L218.19 191.32L215.13 185.73L214.95 183.62L215.91 182.9L226.63 194.61L218.21 181.95L221.24 183.94L220.37 180.85L225.33 185.49L221.66 178.58M232.37 180.18L239.28 188.43L232.69 176.55L238.62 183.49L234.23 174.7L236.69 176.39L236.57 174.06L238.37 174.78L237.32 170.88L241.49 175.52L238.26 167.92L241.66 171.37L238.36 163.42L245.67 173.72L240.49 162.32L246.64 170.85L246.23 167.75L246.79 166.37L243.43 157.66L248.46 164.56L249.53 164.09L253.83 169.89L250.85 161.55L256.5 170.21L254.38 163.4L256.06 164.21L258.79 167.25L257.67 162.25L259.73 163.94L260.51 162.9L258.99 156.75L264.79 166.92M269.89 159.26L271.38 159.91L270.71 154.96L273.23 158.32L274.83 159.33L277.27 162.68L276.51 157.26L279.39 161.97L278.22 155.14L280.76 159.04L280.25 153.91L283.38 159.81L283.38 156.09L285.98 160.61L285.83 156.3L286.28 153.84L287.02 152.25L289.62 157.13L290.71 156.85L290.88 153.21L291.9 152.61L292.25 149.39L293.82 150.84L294.02 146.87L293.34 139.07L298.06 153.71L297.24 145.08L301.65 159.36L299.46 144.17L300.75 144.52M307.84 140.39L310.77 150.81L310.13 139.78L311.24 139.24L312.97 142.9L315.17 150.05L315.4 143.52L317.68 152.06L317.3 140.22L319.8 151.25L320.46 147.25L322.08 151.75L321.89 139.11L324.55 154.38L324.93 146.65L326.18 147.99L326.95 143.54L329.19 158.45" class="ln" stroke-width="0.75"/>
<path d="M355.27 183.8L355.67 187.17L356.46 185.7L357.14 185.69L357.68 187.05L357.98 190.8L358.73 189.82L359.49 188.89L360.09 189.45L360.72 189.76L361.41 189.53L362.09 189.42L362.68 189.96L363.08 191.91L364.39 187.19L364.98 187.83L365.38 189.69L365.78 191.39L367.05 187.56L367.26 190.45L368.49 187.06L369.17 187.05L370.38 184.06L370.57 186.87L371.82 183.83L371.84 187.44L373.36 183.08L373.62 185.34L374.31 185.4L374.7 186.91L375.44 186.68L375.48 189.75L376.65 187.5L377.25 187.94L378.13 187.12L379.11 185.88L379.89 185.61L380.62 185.5L382.19 182.01L382.42 184L382.96 184.7L382.69 188.5L384.03 186.11L383.67 190.09L385.48 186.04L386.22 185.95L386.99 185.77L387.51 186.48L388.68 184.96L387.95 189.88L390.09 185.14L390.48 186.25L391.26 186.09L391.82 186.65L392.28 187.48L392.79 188.17L394.39 185.52L393.62 190.07L394.8 188.72L394.44 191.9L396.04 189.37L396.09 191.31L397.05 190.66L395.07 198.14L398.89 189.63L398.34 193.1L398.92 193.49L398.28 197.09L400.62 192.89L400.72 194.51L401.64 194.01L401.47 196.26L402.57 195.36L403.34 195.27L403.74 196.07L403.45 198.51L405.05 196.46L405.49 197.14L407.48 194.28L407.6 195.71L409.01 194.25L409.23 195.43L410.06 195.28L410.45 196.08L411.33 195.83L412.85 194.24L414.53 192.35L414.43 194.19L414.59 195.46L415.38 195.44L415.7 196.36L415.77 197.78L416.98 196.93L417.4 197.64L415.65 202.5L418.82 197.92L419.69 197.77L419.27 200.04L416.52 206.55L419.57 202.36L420.5 202.09L421.94 200.93L423.21 200.09L423.26 201.4L424.69 200.31L423.27 204.15L425.25 202.12L423.74 206.02L425.35 204.67L425.61 205.57L426.86 204.83L427.48 205.14L429.13 203.79L427.87 207.11M436.37 206.42L437.71 205.71L440.87 202.44L438.98 206.37L439.37 207.04L436.56 212.15L439.19 209.68L436.45 214.6L440.17 210.7L439.79 212.38L441.07 211.82L439.42 215.14L440.92 214.3L439.56 217.18L440.38 217.22L440.49 218.17L438.93 221.21L441.04 219.64L444.87 215.95L442.25 220.27L442.66 220.81L441.97 222.69L442.04 223.64L441.55 225.25L443.1 224.43L441.74 227.03L443.79 225.63L444.92 225.34L446.58 224.46L447.26 224.7L449.17 223.57L448.48 225.34L450.78 223.81L450.1 225.55L450.04 226.61L449 228.71L451.44 227.09L451.14 228.38L452.51 227.91L451.49 229.93L452.04 230.32L454.3 228.97L453.63 230.61L454.9 230.29L455.99 230.15L457.33 229.78L458.72 229.39L456.71 232.29L456.4 233.51L454.19 236.54L455.12 236.56L454.84 237.72L454.5 238.92L456 238.42L458.52 237.01L457.55 238.78L459.2 238.18L461.37 237.14L462.36 237.17L462.3 238.12L464.91 236.76L462.98 239.31L465.22 238.29L462.63 241.37L463.82 241.24L462.72 243.02L464.24 242.63L462.57 244.85L465.93 242.98L464.26 245.18L466.83 243.99L465.99 245.5L467.86 244.89L467.08 246.34L467.96 246.51L466.67 248.33L469.12 247.31L466.19 250.33L469 249.07L466.45 251.76L466.79 252.32L467.11 252.9L470.74 251.11L469.17 253.03L469.35 253.71L469.15 254.65L470.73 254.36L471.67 254.51L474.13 253.65L472.55 255.51L474.18 255.23L474.46 255.85L477.41 254.73L478.11 255.09L479.72 254.87L479.04 256.12L481.2 255.58L478.79 257.89M484.31 262.87L483.58 264.06L488.08 262.36L485.74 264.44L486.86 264.62L486.53 265.58L488.68 265.23L487.59 266.58L492.34 264.9L488.82 267.51L490.85 267.26L487.38 269.79L488.36 270.07L484.02 272.97L488.61 271.48L485.86 273.56L488.98 272.83L488.2 273.95L489.34 274.17L488.09 275.5L489.87 275.43L485.89 277.97L488.24 277.66L486.01 279.38L486.92 279.7L485.94 280.85L487.16 281.05L485.87 282.31L491.86 280.54L484.3 284.38L484.87 284.84L485.73 285.2L489.73 284.32L489.62 285.08L491.09 285.23L487.23 287.42L489.32 287.34L485.99 289.28L488.06 289.21L485.98 290.66L488.9 290.3L486.87 291.71L488.85 291.71L490.16 291.95L491.31 292.26L489.72 293.49L490.2 294.02L489.5 294.94L492.51 294.67L491.06 295.82L492.5 296.07L490.06 297.5L490.94 297.92L490.45 298.75L491.56 299.11L493.35 299.28L492.66 300.16L490.55 301.43L494.75 300.96L493.34 302.03L497.8 301.53L495.6 302.81L495.57 303.51L494.17 304.54L493.55 305.38L493.5 306.06L494.41 306.52L495.92 306.85L497 307.29L495.97 308.21L497.22 308.61L496.89 309.37L499.58 309.49L496.29 310.86L496.7 311.45L494.93 312.48L497.14 312.72L496.69 313.48L498.1 313.9L497.15 314.75L497.85 315.3L497.89 315.97L499.29 316.42L498.38 317.24L505.95 316.73L498.31 318.6L500.2 319L499.79 319.74L501.73 320.15L496.98 321.48L500.47 321.68L501.58 322.22L501.16 322.96L501.33 323.62L502.9 324.12M506.61 330.62L502.97 331.56L505.25 332.09L503.41 332.88L505.32 333.45L505.34 334.14L509.15 334.64L507.83 335.4L508.37 336.07L509.02 336.74L510.86 337.39L509.54 338.13L511.23 338.79L508.18 339.55L508.54 340.24L507.4 340.94L510.08 341.62L509.68 342.33L508.91 343.02L505.74 343.69L507.55 344.4L507.65 345.09L509.01 345.81L506.77 346.46L509.2 347.21L506.86 347.84L506.22 348.5L506.91 349.22L504.67 349.8L501.56 350.33L502.03 351.02L499.73 351.56L501.93 352.36L501.74 353.01L504.45 353.88L502 354.37L504.63 355.26L498.71 355.44L501.42 356.34L498.95 356.78L500.06 357.55L498.8 358.09L499.8 358.86L497.31 359.25L500.68 360.29L499.88 360.87L500.36 361.59L499.15 362.11L501.44 363.08L501.5 363.77L502.81 364.63L499.05 364.77L500.75 365.69L499.06 366.11L502.74 367.36L498.56 367.38L500.57 368.38L500.35 369.02L501.34 369.87L500.21 370.36L500.67 371.12L499 371.5L500.8 372.52L498.66 372.79L498.01 373.34L497.53 373.92L499.66 375.04L497.39 375.24L501.23 376.75L501.13 377.43L503.89 378.75L501.35 378.87L502.35 379.81L498.21 379.53L499.37 380.5L497.69 380.78L497.21 381.35L497.42 382.1L498.7 383.12L496.11 383.13M487.89 387.93L485.47 387.83L488.92 389.61L485.97 389.32L487.84 390.61L485.53 390.51L487.96 392.01L486.92 392.34L487.32 393.16L485.04 393.03L487.79 394.7L485.07 394.4L488.15 396.22L483.05 395.01L487.64 397.43L487.38 398.03L490.37 399.89L486.17 398.95L486.36 399.73L481.07 398.29L486.79 401.31L484.43 401.04L485.96 402.38L485.91 403.07L486.47 404.02L486.13 404.59L487.02 405.7L485.82 405.9L487.26 407.27L486.9 407.84L487.19 408.7L485.08 408.46L485.21 409.25L485.72 410.23L486.79 411.48L483.17 410.47L486.75 412.96L483.22 411.97L486.46 414.33L484.51 414.1L481.76 413.45L482.65 414.64L484.74 416.48L482.49 416.06L485.61 418.48L483.53 418.13L484.17 419.25L483.08 419.42L484.08 420.75L481.87 420.29L482.14 421.21L481.98 421.9L483.01 423.27L480.18 422.41L480.39 423.31L478.78 423.14L480.14 424.73L478.14 424.31L479.8 426.1L476.95 425.15L479.31 427.4L478.66 427.78L478.84 428.7L476.89 428.26L476.19 428.61L475.12 428.71L474.84 429.32L473.25 429.06L474.17 430.48L474.63 431.59L475.68 433.12L472.04 431.44L474.19 433.73L472.98 433.71L475.28 436.16L470.48 433.58L472.95 436.17M469.55 442.26L472.72 445.64L468.36 443.04L468.08 443.69L468.48 444.89L467.76 445.18L467.64 445.97L463.39 443.3L465.2 445.7L463.4 445.05L464.04 446.48L464.8 448.03L464.11 448.32L464.08 449.2L463.44 449.54L461.89 449.06L463.4 451.34L461.71 450.72L462.27 452.15L460.9 451.82L461.75 453.54L458.12 451.06L459.71 453.49L458.16 452.94L458.49 454.2L456.83 453.53L456.98 454.62L455.57 454.16L456.82 456.36L454.17 454.65L456.09 457.55L452.81 455.17L452.83 456.14L451.02 455.21L451.59 456.77L451.15 457.27L452.22 459.39L450.81 458.86L449.44 458.36L448.45 458.26L449.66 460.58L448.26 460.02L448.74 461.56L447.79 461.5L448.16 462.94L447.07 462.71L447.71 464.48L445.42 462.83L446.17 464.75L445.36 464.84L445.23 465.74L444.08 465.4L443.82 466.14L443.06 466.27L441.76 465.72L439.67 464.17L440.39 466.14L438.77 465.15L439.53 467.19L436.12 463.84L436.43 465.32L436.6 466.63L436.99 468.24L434.75 466.33L436.44 469.72L434.12 467.67L433.46 467.87L431.59 466.38L432.17 468.31L430.37 466.88L430.25 467.83L429.51 467.88L428.86 468.07L427.84 467.71L428.18 469.35L427.86 470.04L427.84 471.18M426.35 480.63L425.47 480.49L425.23 481.42L424.6 481.68L423.47 481.09L421.1 478.34L421.53 480.42L420.45 479.87L419.8 480.06L418.88 479.77L418.17 479.85L416.9 478.9L416.97 480.42L416.79 481.48L415.02 479.54L413.44 477.92L413.55 479.53L412.74 479.39L413.41 482.14L411.46 479.71L409.81 477.85L409.84 479.35L409.07 479.23L407.79 478.05L408.22 480.43L407.4 480.18L406.44 479.64L405.17 478.4L405.67 481.03L405.72 482.7L405.69 484.22L403.52 480.92L404.34 484.39L403.8 484.79L404.4 487.87L402.89 485.99L403.18 488.41L402.34 488.1L402.26 489.68L402.05 490.95L401.98 492.61L400.39 490.39L400.47 492.48L399.6 492.09L400.35 496L398.16 492.06L398.71 495.54L397.43 494.02L397.12 495.16L395.67 493.1L395.18 493.73L393.97 492.28L393.62 493.32L392.27 491.4L392.3 493.59L391.08 492.01L391.08 494.19L389.54 491.52L389.02 492.05L387.16 488.23L387.63 492.01L386.64 490.99L386.44 492.63L385.83 492.88L384.92 492.11L384.03 491.33L384.26 494.66L383.35 493.82L382.89 494.66L381.75 492.92L381.89 496.09L381.53 497.42L381.59 500.46L380.27 497.94L380.92 503.56M375.17 508.65L374.02 506.44L372.79 503.67L371.67 501.38L370.69 499.74L369.59 497.33L369.67 501.78L369.1 502.5L368.69 504.2L367.52 501.22L366.72 500.41L365.88 499.35L366.08 505.43L365.03 502.87L364.26 502.25L363.03 498.1L362.7 500.76L361.88 499.56L361.3 500.37L360.55 499.67L360.45 504.89L359.47 502.12L359.27 506.84L358.67 507.88L358.16 509.93L357.04 505.21L356.15 502.85L355.13 498.63L354.42 497.88L353.6 495.66L353.16 498.65L352.37 496.66L351.85 498.88L351.19 498.82L350.67 501.57L349.84 498.23L349.29 500.69L348.67 501.81L348.03 502.95L347.27 499.95L346.57 498.52L345.89 497.41L345.24 497.39L344.6 498.34L343.95 498.56L343.29 496.87L342.64 501.47L341.97 501.19L341.27 504.82L340.63 501.96L339.89 505.48L339.19 506.33L338.51 505.86L337.87 504.51L337.16 505.26L336.55 503.39L335.77 505.63L335.23 502.49L334.63 501.02L333.89 502.4L333.2 502.58L332.42 504.25L331.59 506.45L331.27 501.23L330.43 503.54L329.77 503.26L328.98 504.54L327.75 510.64L328.06 499.64L327.54 498.12L326.74 499.51M319.68 501.73L319.1 501.12L317.63 506.24L317.43 503.06L317.32 499.54L317.03 497.23L316.06 499.03L315.58 497.89L315.04 497.18L314.41 496.96L312.95 501.2L312.99 497.43L312.1 498.57L312.29 494.22L310.91 497.76L311.18 493.23L309.66 497.27L309.51 494.86L308.95 494.38L308.89 491.7L307.4 495.3L306.9 494.57L306.62 492.93L306.44 490.96L304.38 496.62L303.78 496.25L302.93 496.91L303.15 493.44L302.3 494.1L301.84 493.31L301.18 493.25L301.57 489.43L300.73 490.06L299.64 491.52L298.92 491.68L298.6 490.47L298.79 487.61L298.26 487.18L297.78 486.61L296.42 488.82L295.43 489.8L294.91 489.33L293.12 492.7L293.37 489.85L291.54 493.23L292.45 488.56L290.76 491.45L290.53 490.11L287.99 495.26L287.36 495.01L286.41 495.63L286.11 494.51L286.18 492.39L286.83 488.8L285.38 490.75L285.72 488.05L283.02 493.12L283.14 490.99L280.87 494.82L280.71 493.4L280.06 493.18L281.33 488.4L279.58 490.83L278.16 492.43L278.55 489.82L280.05 484.75L277.75 488.33L276.47 489.56L276.77 487.27L276.76 485.69M270.56 482.64L270.4 481.53L269.82 481.24L271.04 477.55L270.37 477.46L268.87 478.88L268.01 479.1L267.92 477.94L266.58 479.02L266.59 477.68L264.72 479.66L264.92 477.99L263.45 479.22L264.64 475.89L263.68 476.25L263.62 475.09L260.8 478.52L262.26 474.86L260.78 476.04L261.22 474.08L258.77 476.8L259.35 474.64L257.09 476.99L257.94 474.42L256.05 476.14L256.27 474.59L254.23 476.5L255.98 472.67L252.87 476.12L253.7 473.7L251.03 476.44L252.32 473.39L250.74 474.5L251.35 472.46L248.8 474.92L248.45 474.25L247.43 474.5L247.08 473.83L246.08 474.06L246.27 472.66L244.48 473.93L245.81 471.03L244.72 471.36L243.81 471.44L242.53 471.99L242.03 471.53L241.38 471.24L241.87 469.54L241.84 468.5L241.1 468.34L239.89 468.76L240.32 467.17L238.29 468.57L238.44 467.33L238.01 466.78L238.06 465.68L237.94 464.79L237.8 463.93L235.33 465.74L235.48 464.54L234.94 464.14L236.03 461.89L233.65 463.55L233.6 462.59L232.71 462.56L233.02 461.23L231.7 461.66L232.58 459.74L231.19 460.23L230.69 459.77M223.96 457.18L225.1 455.13L224.2 455.05L223.89 454.39L223.58 453.74L224.43 452.02L225.25 450.35L227.41 447.47L226.22 447.67L228.49 444.75L225.14 446.87L226.69 444.62L224.59 445.59L226.87 442.74L225.77 442.84L227 440.94L225.67 441.23L226.84 439.42L224.02 440.93L225.64 438.76L222.38 440.59L222.95 439.3L222.77 438.61L223.61 437.12L221.41 438.04L222.74 436.18L220.49 437.11L218.73 437.64L220.82 435.23L218.6 436.1L217.19 436.34L217.44 435.33L216.09 435.51L215.63 435.03L213.3 435.9L213.7 434.79L213.06 434.42L217.8 430.28L217.27 429.86L216.32 429.74L216.31 428.96L217.96 427.06L211.71 430.51L214.09 428.12L212.9 428.13L212.75 427.45L210.46 428.16L212.26 426.22L213.23 424.82L212.42 424.58L210.36 425.1L210.21 424.42L208.98 424.41L210.5 422.71L210.23 422.12L212.56 419.97L207.81 422.04L207.15 421.67L204.72 422.31L204.18 421.84L205.23 420.48L203.08 420.93L199.5 422.15L202.96 419.45L202.46 418.97L207.09 415.7L201.62 417.89L203.67 416.05L200.52 416.95L201.81 415.52M192.08 413.05L193.52 411.62L193.36 410.94L194.72 409.57L189.85 411.02L193.44 408.67L193.22 408.02L192.68 407.52L193.02 406.63L193.26 405.8L192.89 405.22L193.67 404.17L192.94 403.74L196.25 401.68L192.9 402.31L193.25 401.45L191.96 401.23L194.53 399.52L191.8 399.86L192.94 398.71L189.37 399.33L190.42 398.22L187.84 398.44L190.63 396.71L187.33 397.16L188.51 396.03L186.54 395.99L190.74 393.84L186.93 394.41L186.98 393.68L186.43 393.14L185.99 392.56L185.29 392.07L184.94 391.46L184.3 390.94L186.4 389.58L184.9 389.32L188.05 387.69L185.7 387.67L187.76 386.38L184.58 386.57L189.68 384.46L187.47 384.38L188.82 383.32L187.48 382.99L190.95 381.41L188.25 381.42L192.02 379.8L189.22 379.82L191.68 378.56L188.58 378.62L190 377.62L187.92 377.42L190.77 376.12L191.1 375.38L193.22 374.27L189.01 374.5L188.54 373.93L187.65 373.44L190.24 372.27L186.44 372.34L188.82 371.22L187.56 370.79L188.58 369.94L188 369.38L186.71 368.94L185.7 368.44L183.05 368.2M180.43 361.43L183.43 360.42L181.8 359.93L187.33 358.68L188.46 357.92L188.82 357.24L185.58 356.9L187.79 356.05L188.52 355.35L191.51 354.47L190.01 353.96L188.08 353.46L189.46 352.73L189.33 352.1L186 351.66L188.87 350.86L188.86 350.22L190.13 349.53L188.74 348.96L189 348.31L187.83 347.72L187.04 347.1L186.3 346.48L186.47 345.83L182.09 345.26L188.22 344.52L186.57 343.89L189.09 343.24L187.03 342.61L187.07 341.97L184.63 341.31L186.21 340.67L185.75 340.02L187.3 339.4L187.29 338.76L186.38 338.1L183.49 337.36L184.19 336.73L182.09 335.99L181.62 335.31L180.77 334.6L183.48 334.07L181.26 333.29L182.44 332.69L183.49 332.1L186.07 331.61L187.22 331.05L177.45 329.65L181.74 329.31L179.63 328.47L181.26 327.93L185.58 327.67L183.29 326.79L186.52 326.46L187.19 325.88L191.46 325.7L190.32 324.94L191.04 324.39L187.85 323.36M186.67 316.37L189.98 316.27L188.16 315.3L189.86 314.94L185.29 313.45L186.78 313.05L184.95 312.02L188.12 311.97L186.27 310.93L188.21 310.65L188.45 310.03L192.4 310.2L189.84 308.99L189.65 308.28L189.37 307.55L193.75 307.89L191.41 306.69L191.85 306.13L192.85 305.71L193.9 305.31L191.67 304.08L194.04 304.03L193.08 303.12L193.81 302.64L193.96 302.02L198.43 302.59L197.07 301.56L193.89 300L194.07 299.39L194.59 298.87L194.11 298.05L193.16 297.09L194.16 296.72L193.6 295.87L194.06 295.33L193.45 294.46L191.48 293.13L191.8 292.54L189.49 291.07L192.64 291.43L190.8 290.1L192.22 289.88L190.51 288.58L189.9 287.65L188.46 286.4L190.48 286.42L191.58 286.11L191.55 285.38L191.08 284.48L191.97 284.1L191.24 283.1L192.82 283L192.04 281.96L192.86 281.57L194.42 281.48L196.07 281.45L196.68 280.99L200.68 281.97M199 273.95L200.28 273.84L199.07 272.52L197.72 271.13L200.21 271.62L201.18 271.37L201.95 271.03L203.52 271.1L200.4 268.76L201.43 268.55L200.93 267.55L202.52 267.64L200.14 265.62L200.59 265.1L200.44 264.26L202.61 264.7L199.51 262.2L203.07 263.43L201.53 261.8L202.8 261.75L202.77 260.96L203.38 260.54L203.34 259.75L208.4 262L206.78 260.27L208.02 260.25L207.17 258.96L205.88 257.39L205.01 256.06L207.63 256.92L206.81 255.62L210.11 256.95L207.09 254.21L208.32 254.23L204.96 251.2L207.78 252.27L206.48 250.58L207.81 250.67L207.71 249.78L208.43 249.46L207.2 247.78L210.07 248.97L206.4 245.54L207.88 245.75L208.03 245.01L208.73 244.67L207.46 242.89L210.48 244.27L208.75 242.12L207.95 240.65L207.68 239.58L210.4 240.78L212.6 241.62L216.83 244.06L215.7 242.33L218.24 243.49L223.61 246.96M220.45 234.58L224.32 237.12L220.88 233.15L221.04 232.38L220.86 231.29L222 231.41L219.79 228.44L223.34 230.8L219.63 226.37L223.23 228.83L223.08 227.74L225.14 228.77L222.59 225.34L227.4 229.09L225.59 226.34L228.75 228.54L228.57 227.41L230.08 227.98L227.43 224.31L229.04 224.99L229.32 224.31L228.09 222.03L229.68 222.7L233.04 225.3L232.35 223.57L232.44 222.68L233.53 222.87L232.75 221L236.46 224.12L236.13 222.75L235.52 221.07L239.52 224.6L240.01 224.18L240.51 223.76L238.41 220.3L238.41 219.28L238.65 218.52L239.94 219.02L237.09 214.53L239.63 216.54L240.59 216.64L242.88 218.42L242.77 217.23L244.81 218.73L244.62 217.42L247.66 220.26L246.67 217.92L248.53 219.29L246.6 215.68L248.81 217.51L248.97 216.64L249.07 215.68M254.67 212.97L255.88 213.61L254.67 210.66L256.39 212.1L255.78 210.01L257.66 211.71L259.27 213.03L261.03 214.63L259.7 211.37L262.06 213.94L260.76 210.67L259.94 208.14L260.32 207.53L260.34 206.31L260.06 204.59L261.09 205.04L261.31 204.13L261.7 203.49L262.55 203.66L263.31 203.68L263.29 202.32L265.62 205.13L265.45 203.49L267.99 206.77L268.53 206.44L270.07 207.95L268.28 203.29L269.73 204.64L269.58 202.99L270.75 203.85L269.48 199.99L271.5 202.53L272.62 203.33L273.17 203.01L272.45 200.11L273.4 200.58L274.67 201.72L275.88 202.78L274.36 198.1L276.04 200.14L275.35 197.14L274.48 193.68L275.78 194.94L275.12 191.85L274.59 188.99M285.37 198.2L286.74 199.96L286.66 198.04L287.59 198.73L288.89 200.42L289.08 199.17L287.66 193.56L289.01 195.39L289.29 194.31L289.79 193.8L289.85 192.06L291.09 193.66L291.27 192.22L291.73 191.58L291.63 189.27L293.32 192.33L292.08 186.42L294.63 192.23L293.96 187.98L295.53 190.85L295.86 189.71L296.02 188.02L296.03 185.77L296.81 186.11L297.38 185.7L298.86 188.52L299.02 186.69L299.52 186.05L300.38 186.71L301.29 187.59L301.25 184.89L302.24 186.08L301.75 181.55L303.23 184.69L303.79 184.24L303.07 178.44L304.93 183.33L306.07 185.33L306.18 182.89L307.26 184.68L307.45 182.52L308.91 186.14L309.25 184.61M316.29 189.35L317 189.89L317.1 186.78L317.74 186.88L318.34 186.76L319.44 189.9L319.92 189.04L320.36 187.84L320.38 183.6L321.07 184L321.28 180.89L322.13 182.53L322.6 181.15L323.04 179.53L323.52 178.15L324.21 178.45L324.8 177.94L326.06 183.79L326.67 183.67L327.55 186.29L327.77 181.98L328.49 182.97L329.54 187.95L330.06 186.89L330.46 184.24L331.29 186.97" class="ln"/>
<path d="M351.83 227.2L351.81 233.35L352.25 233.68L352.71 233.77L353.18 233.69L353.76 232.59L354.11 233.78L354.66 233.08L355.02 234.08L355.55 233.58L356 233.73L356.5 233.51L356.86 234.35L357.41 233.78L357.83 234.19L358.54 232.52L358.98 232.8L359.29 233.89L359.83 233.48L360.18 234.25L360.66 234.22L361.24 233.61L362.22 230.76L361.97 234.87L362.39 235.14L363.18 233.5L363.31 235.3L363.82 235.12L364.24 235.42L364.91 234.47L365.2 235.4L365.9 234.33L366.27 234.87L367.09 233.37L366.96 236.09L367.38 236.32L367.94 235.99L368.23 236.78L368.82 236.32L369.18 236.81L370.05 235.27L376.17 213.6L371.23 234.48L371.38 235.78L371.38 237.58L372.09 236.75L372.49 237.07L372.71 237.99L373.52 236.88L373.95 237.05L374.2 237.87L374.84 237.35L375.14 237.99L375.42 238.65L376.57 236.59L377.09 236.52L376.85 238.76L377.46 238.42L377.56 239.58L378.68 237.74L378.51 239.67L378.94 239.85L380.18 237.75L379.88 239.97L380.24 240.36L381.05 239.5L381.49 239.67L388.5 222.66L382.74 239.03L383.04 239.58L383.36 240.03L383.24 241.59L383.95 241.08L384.69 240.51L385.29 240.3L385.22 241.69L385.75 241.64L386.46 241.16L386.59 242.06L386.91 242.49L387.52 242.26L387.75 242.88L387.96 243.55L388.43 243.64L388.88 243.79L389.28 244.02L389.8 244.01L390.29 244.08L390.71 244.28L391.01 244.72L391.75 244.27L391.93 244.96L393.2 243.5L392.56 245.78L393.62 244.74L393.71 245.59L394.57 244.97L395.64 243.97L394.61 246.86L395.53 246.15L397.04 244.4L395.89 247.44L396.23 247.77L396.71 247.87L398.06 246.46L399.56 244.83L398.67 247.3L398.32 248.8L399.06 248.48L400.54 246.94L399.36 249.79L399.9 249.78L400.51 249.69L403.48 245.84M408.25 247.23L404.88 252.94L405.32 253.12L406.49 252.27L406.96 252.42L407.52 252.44L407.15 253.76L407.33 254.3L407.62 254.69L409.19 253.36L408.21 255.45L408.88 255.33L409.08 255.83L409.72 255.76L411.03 254.84L411.84 254.56L411.36 255.93L410.98 257.16L411.84 256.83L412.73 256.48L412.02 258.09L413.66 256.84L414.74 256.28L413.31 258.72L415.88 256.41L414.28 259.01L416.01 257.72L414.71 259.94L415.54 259.7L416.82 258.96L416.11 260.46L417.08 260.09L416.14 261.82L416.78 261.81L417.22 262.02L416.84 263.1L418.23 262.3L425 255.86L417.98 263.91L418.34 264.2L418.89 264.31L419.19 264.66L419.7 264.8L420.25 264.91L421.16 264.66L421.63 264.86L421.85 265.3L421.7 266.1L421.95 266.51L423.37 265.8L422.27 267.48L423.34 267.12L427.4 264L424.28 267.52L424.11 268.32L425.04 268.11L424.12 269.57L424.05 270.25L424.32 270.62L425.1 270.56L427.67 268.94L426.37 270.69L426.01 271.61L426.26 272L427.2 271.82L426.7 272.84L427.78 272.56L430.81 270.69L428.8 272.94L428.21 274.01L428 274.77L428.56 274.92L429.08 275.1L429.05 275.71L429.36 276.06L429.93 276.21L430.06 276.69L429.91 277.38L430.14 277.78L431.05 277.69L431.97 277.6L431.07 278.82L432.06 278.68L436.5 276.12L433.82 278.59L433.24 279.57L432.78 280.45L434.56 279.8L433.05 281.39L434.17 281.2L433.93 281.92L433.63 282.67L434.24 282.83L434.74 283.05L435.44 283.16L436.12 283.28L436.07 283.86L439.63 282.21M443.46 285.81L438.93 288.89L438.3 289.77L438.43 290.22L438.56 290.68L438.9 291.02L438.99 291.49L440.45 291.25L439.4 292.32L439.81 292.63L440.56 292.77L441.5 292.82L448.37 289.92L442.36 293.44L440.85 294.69L440.78 295.24L442.19 295.08L443.77 294.85L441.52 296.42L442.09 296.67L442.15 297.15L445.59 296.11L442.29 298.1L442.41 298.55L443.14 298.73L443.18 299.22L443.67 299.52L442.83 300.38L443.41 300.63L444.55 300.66L444.71 301.1L445.01 301.49L444.33 302.26L448.46 301.14L445.54 302.78L445.13 303.44L445.76 303.69L450.46 302.45L446.05 304.58L446.21 305.02L445.53 305.76L449.25 304.94L445.45 306.76L446.05 307.04L445.77 307.63L445.72 308.13L446.63 308.32L446.46 308.86L447.64 308.97L449.22 308.96L448.19 309.77L448.33 310.22L447.84 310.85L448.23 311.22L448.24 311.7L447.25 312.47L448.16 312.7L448.56 313.06L448.02 313.69L447.9 314.21L448.03 314.65L447.82 315.18L449.19 315.3L448.89 315.86L449.16 316.27L448.76 316.84L450.35 316.94L449.61 317.6L449.55 318.09L449.71 318.53L448.96 319.17L449.91 319.43L449.43 320.01L449.93 320.38L449.93 320.85L450.57 321.2L449.73 321.83L450.27 322.2L451.85 322.38L451.84 322.86L450.04 323.65L449.73 324.17L450.61 324.49L450.63 324.96L451.42 325.3L451.67 325.74L450.61 326.37L450.27 326.88L452.12 327.09L450.59 327.77L451.74 328.08L450.91 328.66L451.57 329.04L458.1 328.74L456.06 329.46M457.96 334.12L451.86 335.02L451.45 335.5L451.51 335.96L451.64 336.41L452.7 336.81L453.63 337.23L451.44 337.79L451.46 338.24L451.22 338.71L452.16 339.14L451.87 339.6L452.91 340.04L453.21 340.5L452.19 340.97L451.58 341.44L451.94 341.89L453.71 342.35L451.61 342.81L452.4 343.27L452.15 343.73L451.52 344.18L452.42 344.65L451.28 345.08L451.69 345.55L451.36 346L451.52 346.46L452.35 346.95L453.41 347.46L451.98 347.85L460.3 348.76L452.23 348.79L451.71 349.22L451.64 349.67L451.7 350.13L453.39 350.72L453.97 351.23L451.82 351.52L452.58 352.05L452.13 352.47L453.1 353.03L451.48 353.34L450.72 353.72L450.74 354.18L451.32 354.7L450.88 355.11L452.82 355.81L450.94 356.04L452.41 356.69L454.07 357.38L453.02 357.71L450.63 357.84L451.49 358.43L450.25 358.71L450.39 359.19L450.7 359.71L451.11 360.24L449.88 360.5L450.46 361.06L450.59 361.55L449.85 361.88L453.48 363.02L449.98 362.84L449.96 363.3L451.5 364.07L449.89 364.22L451.62 365.05L449.44 365.06L449.59 365.56L449.06 365.92L450.71 366.76L449.19 366.88L448.67 367.23L448.59 367.68L448.33 368.09L450.3 369.05L449.43 369.31L448.23 369.47L450.62 370.57L452.98 371.68M452.97 376.98L447.26 375.67L447.06 376.09L446.29 376.33L447.56 377.23L449.67 378.43L447.43 378.17L447.16 378.57L445.6 378.52L445.5 378.97L446.81 379.93L444.98 379.76L447.42 381.15L444.91 380.71L446.25 381.71L444.26 381.44L446.64 382.86L446.77 383.42L443.92 382.79L444.88 383.67L443.74 383.71L443.86 384.26L443.25 384.5L443.29 385.02L443.52 385.62L443.32 386.03L443.34 386.54L443.07 386.93L442.65 387.25L446.02 389.28L442.39 388.15L441.51 388.25L441.35 388.68L443.74 390.32L440.59 389.33L441.85 390.45L441.28 390.69L443.02 392.06L441.2 391.68L439.72 391.45L440.22 392.22L439.75 392.5L439.04 392.65L439.06 393.18L440.63 394.53L438.98 394.18L438.67 394.53L438.76 395.11L438.01 395.22L437.46 395.44L437.82 396.17L437.9 396.74L437.26 396.9L436.95 397.25L436.56 397.56L436.96 398.33L437.08 398.94L436.43 399.09L435.96 399.34L435.39 399.53L437.82 401.58L434.94 400.33L436.9 402.11L435.39 401.71L435.63 402.41L437 403.87L433.91 402.4L436.86 404.91L433.88 403.48L433.36 403.69L434.16 404.79L432.16 403.99L434.26 406L431.84 404.87L431.63 405.29L431.69 405.9L435.3 409.06M433.5 413.88L427.83 410L427.83 410.58L427.21 410.67L427.63 411.61L427.17 411.82L427.08 412.34L426.12 412.14L426.58 413.13L427.12 414.19L426.04 413.88L425.57 414.09L424.59 413.85L425.68 415.41L424.95 415.39L429.81 420.35L424.56 416.28L425.52 417.79L423.58 416.64L422.8 416.54L424.45 418.71L422.53 417.55L422.85 418.49L421.79 418.12L421.63 418.61L420.62 418.27L420.48 418.78L419.94 418.88L419.76 419.35L420.11 420.35L419.78 420.68L419.04 420.58L419.64 421.86L418.16 420.99L418.06 421.55L417.73 421.87L417.83 422.65L417.65 423.14L416.74 422.84L416.23 422.95L415.94 423.32L416.09 424.17L415.87 424.62L415.25 424.62L414.91 424.93L415.05 425.79L416.78 428.52L414.5 426.59L413.91 426.6L414.5 428.03L412.61 426.5L412.71 427.34L411.44 426.52L411.61 427.45L411.31 427.82L411 428.17L410.08 427.75L411.64 430.48L410.03 429.18L408.96 428.54L408.54 428.75L408.54 429.5L407.79 429.27L407.46 429.59L407.11 429.88L408.23 432.19L406.54 430.66L406.54 431.44L406.53 432.22L405.91 432.14L405.21 431.96L404.82 432.19L404.94 433.19L404.61 433.52L404.24 433.8L402.98 432.75L405.63 437.58M402.53 441.27L399.49 437.14L398.82 436.92L398.26 436.88L398.93 438.96L397.73 437.82L396.56 436.7L396.76 437.98L397.24 439.78L395.84 438.23L394.98 437.62L394.58 437.85L394.43 438.52L394.17 439.01L393.89 439.48L393.15 439.04L392.76 439.29L392.25 439.3L391.94 439.7L391.3 439.46L391.96 441.81L390.61 440.11L390.24 440.41L390.31 441.61L390.97 444.08L388.9 440.79L388.97 442.03L388.58 442.29L387.96 442.03L389.02 445.52L386.8 441.7L387.12 443.55L387.55 445.72L385.78 442.8L385.14 442.45L385.39 444.24L384.51 443.33L383.88 443L383.78 443.99L383.05 443.4L382.81 444.03L382.37 444.18L381.84 444.08L382.07 445.96L381 444.44L380.81 445.25L380.13 444.74L379.72 444.94L379.27 445.05L378.74 444.93L378.37 445.27L377.86 445.19L377.5 445.55L377.19 446.05L377.44 448.29L376.14 445.8L375.77 446.14L375.36 446.39L375.36 447.93L374.6 447.03L374.07 446.86L374.03 448.34L373.08 446.74L372.86 447.64L372.65 448.59L371.94 447.76L371.6 448.27L371.02 447.89L370.51 447.77L369.97 447.51L369.57 447.78L369.28 448.52L368.72 448.14L368.54 449.37L369.03 453.42M364.85 455.82L363.64 452.08L362.77 449.95L362.53 451.2L361.86 450.1L361.42 450.24L360.97 450.35L360.47 450.16L360.01 450.17L359.48 449.73L359.11 450.33L358.57 449.87L358.42 452.02L357.69 450.13L357.4 451.44L356.95 451.51L356.49 451.56L355.87 450.3L355.44 450.57L355.32 453.61L354.56 450.95L354.07 450.64L353.66 451.14L353.23 451.44L352.69 450.63L352.29 451.32L351.87 451.78L351.63 454.54L351.03 452.87L350.41 450.75L350.06 452.39L349.53 451.29L349.11 452.02L348.66 452.19L348.22 452.72L347.71 451.73L347.25 451.65L346.77 451.14L346.31 451.03L345.86 451.17L345.41 451.79L344.97 452.47L344.48 451L344.04 451.8L343.57 451.03L343.12 451.78L342.66 451.55L342.2 451.9L341.74 450.96L341.26 452.83L340.79 453.67L340.34 452.58L339.91 451.31L339.44 451.71L338.89 454.36L338.52 451.67L338.05 451.86L337.63 451.12L337.13 451.86L336.66 452.05L336.21 451.9L335.66 453.26L335.28 451.98L334.85 451.48L334.4 451.37L334 450.65L333.26 453.99L333.04 451.14L332.4 453.04L332.09 451.36L331.17 455.92M326.18 456.77L326.64 450.39L326.06 451.15L325.59 451.21L325.22 450.59L324.83 450.15L324.47 449.6L324 449.64L323.38 450.49L323.02 449.93L322.58 449.8L322.16 449.57L321.6 450.05L321.12 450.15L320.7 449.88L320.3 449.59L319.75 449.97L319.5 448.96L318.73 450.34L318.43 449.55L317.92 449.74L317.43 449.8L317.33 448.25L316.48 449.81L315.98 449.92L315.87 448.49L315.41 448.44L314.89 448.61L314.39 448.69L313.89 448.81L313.64 447.99L309.67 460.47L312.63 448.19L312.53 446.89L312.11 446.7L311.56 446.97L310.6 448.55L310.83 446.23L309.97 447.49L309.86 446.29L308.04 450.48L308.93 446.22L308.61 445.73L308.19 445.56L307.49 446.22L306.77 446.89L306.79 445.44L306.45 445.04L305.7 445.78L305.42 445.23L304.92 445.24L304.27 445.68L304.29 444.34L303.86 444.19L303.47 443.93L302.73 444.58L302.18 444.71L301.73 444.61L300.74 445.82L301.41 442.97L300.49 444L300.55 442.68L299.58 443.8L299.45 442.94L298.47 444.05L298.15 443.63L298.39 441.95L297.56 442.69L296.95 442.93L295 446.05M289.84 445.16L292.59 438.84L291.92 439.14L288.78 444.09L291.13 438.68L290.51 438.88L290.23 438.43L289.78 438.31L289.63 437.65L288.99 437.86L288.25 438.24L288.05 437.66L287.44 437.8L287.67 436.51L287.32 436.21L287 435.86L286.68 435.52L286.15 435.51L284.99 436.55L285.24 435.27L285.2 434.48L284.24 435.15L283.37 435.66L282.93 435.51L283.3 434.08L282.76 434.08L282.53 433.6L281.89 433.75L281.96 432.82L280.92 433.55L280.73 433.02L280.67 432.3L279.61 433.02L277.05 435.86L279.05 432.23L277.5 433.61L279.05 430.66L278.62 430.48L277.93 430.66L278.1 429.66L277.21 430.1L277.14 429.43L276.7 429.27L276.17 429.22L275.33 429.56L274.89 429.38L275.48 427.88L273.01 430.28L273.6 428.79L274.4 427.06L273.85 427.01L273.46 426.78L273.05 426.56L272.43 426.6L271.32 427.21L272.3 425.34L270.66 426.56L270.12 426.49L271.33 424.39L271.03 424.05L270.18 424.32L270.11 423.72L267.92 425.48L269.18 423.39L269.39 422.49L268.52 422.77L267.71 422.97L267.84 422.16L267.04 422.35L263.93 424.95M259.62 422.72L262.63 419.16L262.74 418.41L263.61 416.95L262.67 417.2L260.12 418.94L261.95 416.62L261.68 416.24L260.92 416.31L260.65 415.93L261.24 414.79L260.35 414.96L260.04 414.62L260.08 413.97L260.09 413.36L260 412.84L258.2 413.76L258.11 413.23L258.79 412.06L258.2 411.95L257.88 411.62L257.22 411.56L257.66 410.62L248.72 417.15L256.85 410.09L256.83 409.53L253.48 411.54L254.44 410.21L255.43 408.87L255.39 408.32L255.4 407.74L253.5 408.58L254.69 407.13L253.94 407.11L253.51 406.85L253.93 405.97L252.87 406.16L251.52 406.55L251.15 406.24L250.39 406.19L252.6 404.11L250.38 405.06L252.32 403.19L251.86 402.95L252.08 402.26L251.69 401.96L249.85 402.61L250.09 401.9L250.98 400.79L250.27 400.7L250.21 400.2L246.52 401.94L249.36 399.65L249.17 399.22L247.23 399.85L248.16 398.75L248.71 397.89L248.27 397.62L248.2 397.13L245.87 397.93L247.67 396.37L245.66 396.98L246.59 395.92L244.4 396.6L246.98 394.66L247.04 394.1L246.79 393.72L244.32 394.51L245.83 393.2L241.43 394.96M238.08 391.48L244.18 388.12L242.82 388.24L242.15 388.04L243.26 387.05L239.08 388.41L241.97 386.62L241.83 386.18L240.63 386.2L242.53 384.89L242.22 384.53L242.39 383.97L238.8 384.95L242.04 383.14L240.5 383.27L241.42 382.41L241.02 382.09L239.95 382.01L240.41 381.35L239.56 381.18L240.89 380.2L240.5 379.86L240.37 379.43L237.08 380.12L240.03 378.59L239.11 378.43L239.65 377.76L238.75 377.59L237.9 377.39L236.25 377.45L238.4 376.26L238.63 375.71L237.64 375.55L236.09 375.55L238.82 374.23L236.85 374.35L236.8 373.89L234.63 374.05L235.72 373.25L237.22 372.34L237.65 371.75L236.67 371.55L237.86 370.75L236.67 370.6L236.45 370.19L237.42 369.46L236.13 369.33L235.31 369.06L233 369.15L236.59 367.81L236.95 367.26L236 367.01L236.52 366.43L233.46 366.64L235.9 365.64L232.54 365.89L236.07 364.67L236.21 364.18L233.14 364.34L233.47 363.8L234.72 363.09L234.01 362.76L233.7 362.35L235.5 361.56L235.37 361.12L234.31 360.84L235.01 360.26L230.06 360.6M227.93 355.86L233.74 354.73L233.62 354.28L233.79 353.81L232.11 353.53L231.25 353.15L233.05 352.52L234.04 351.98L232 351.7L231.75 351.26L231.79 350.79L232.29 350.3L233.08 349.79L233 349.34L230.43 349.04L232.76 348.44L233.33 347.96L233.44 347.5L233.02 347.07L233.24 346.61L233.94 346.13L233.29 345.7L224.86 345.47L233.94 344.79L232.68 344.36L233.2 343.9L232.36 343.46L233.5 343L233.29 342.55L233.33 342.09L232.54 341.64L233.06 341.19L232.56 340.73L234.06 340.3L232.05 339.81L233.38 339.39L233.28 338.94L232.89 338.47L232.51 338L233.15 337.57L232.46 337.09L232.87 336.65L233.86 336.26L234.16 335.82L232.42 335.26L233.65 334.89L231.91 334.31L232.96 333.93L233.47 333.52L234.26 333.13L232.29 332.51L232.49 332.07L233.74 331.73L232.77 331.18L234.7 330.92L234.05 330.4L234.3 329.98L234.23 329.52L229.45 328.47M228.71 323.39L234.17 323.83L234.69 323.46L234.6 322.98L235.83 322.74L235.74 322.26L234.86 321.63L234.25 321.05L231.36 320L236.04 320.48L233.31 319.44L235.4 319.41L236.06 319.09L235 318.39L233.89 317.67L236.41 317.78L236.38 317.3L236.84 316.95L235.24 316.09L235.31 315.63L236.55 315.47L236.78 315.06L236.17 314.43L235.84 313.87L235.4 313.27L237.86 313.47L237.47 312.89L237.37 312.39L237.43 311.93L235.5 310.89L238.45 311.29L235.6 309.95L238.54 310.37L236.14 309.15L237.46 309.07L239.32 309.19L238.23 308.36L239.38 308.26L237.16 307.04L239.45 307.33L238.09 306.38L239.76 306.48L239.77 306L237.38 304.66L239.99 305.11L238.52 304.09L240.96 304.51L240.47 303.84L241.25 303.65L241.15 303.13L240.6 302.42L240.14 301.75L241.68 301.88L239.97 300.69L240.48 300.4L242.2 300.62L241 299.62L237.71 297.73M238.37 292.7L244.17 294.97L243.66 294.22L243.26 293.52L245.03 293.88L244.56 293.14L245.16 292.94L244.93 292.32L246.17 292.45L245.87 291.78L245.74 291.2L245.65 290.64L246.76 290.73L245.21 289.37L247.56 290.14L246.31 288.93L247.55 289.11L247.17 288.37L248.39 288.55L244.65 285.88L247.09 286.76L247.93 286.72L248.36 286.45L247.78 285.57L249.65 286.17L249.7 285.67L249.95 285.3L249.07 284.22L250.57 284.63L250.04 283.76L250.03 283.22L250.58 283.03L251.07 282.81L245.01 278.3L250.99 281.68L252.08 281.86L252.19 281.39L251.41 280.32L250.83 279.37L250.48 278.57L252.62 279.5L252.97 279.19L253.21 278.8L253.56 278.5L253.83 278.13L253.23 277.13L254.39 277.42L254.45 276.9L255.22 276.91L255.31 276.42L256.1 276.45L255.98 275.79L256.19 275.38L256.17 274.8L257.08 274.93L256.86 274.19L253.67 271.04M256.03 265.96L260.27 269.09L260.44 268.63L261.24 268.74L261.95 268.77L262.56 268.71L262.85 268.37L263.33 268.19L259.66 264.11L260.09 263.87L263.09 266.08L264.59 266.9L264.48 266.17L264.76 265.81L264.77 265.18L265.16 264.92L265.16 264.28L266.28 264.76L263.05 260.8L267.09 264.29L266.85 263.4L267.03 262.92L267.6 262.87L268.45 263.11L268.83 262.85L268.7 262.05L267.58 260.15L268.77 260.77L268.35 259.63L269.91 260.68L270.78 260.97L271.14 260.7L270.68 259.49L271.06 259.23L271.95 259.57L272.47 259.48L272.48 258.79L272.52 258.13L273.13 258.17L271.15 255.02L273.66 257.38L273.29 256.19L274.56 257.04L275.16 257.07L275.26 256.47L275.62 256.19L274.95 254.58L275.14 254.07L276.34 254.89L277.44 255.59L275.65 252.44L274.89 250.63M277.71 246.85L282 252.37L282.24 251.92L282.51 251.53L283.1 251.61L283.48 251.38L281.36 247.29L283.32 249.5L284.48 250.49L284.85 250.24L285.12 249.83L285.08 248.92L285.81 249.25L285.94 248.61L286.3 248.34L286.02 247L287.08 247.91L287.06 246.99L288.28 248.2L288.15 247.07L288.98 247.63L289.08 246.9L289.55 246.84L289.5 245.82L289.71 245.26L288.7 242.45L291.05 245.86L291.75 246.22L291.16 244.13L292.39 245.53L292.34 244.46L292.28 243.35L293.69 245.14L291.51 239.78L294.14 244.05L294 242.73L295.01 243.8L295.39 243.54L295.89 243.56L295.16 240.95L296.82 243.45L297.39 243.61L297.42 242.62L297.56 241.83L296.4 238.12M300.01 235.01L302.66 240.49L303.21 240.69L303.62 240.52L303.69 239.45L304.45 240.23L304.82 239.95L304.88 238.83L305.8 240.07L305.59 238.18L306.46 239.3L307.11 239.84L306.86 237.76L307.7 238.84L308.32 239.32L308.77 239.28L307.78 234.8L308.94 236.95L308.97 235.54L310.31 238.33L310.57 237.69L311.2 238.22L311.59 237.99L311.56 236.35L312.24 237.08L312.88 237.71L312.94 236.29L313.75 237.56L314.1 237.18L314.35 236.4L314.53 235.38L315.1 235.8L315.27 234.64L316.13 236.22L316.68 236.63L316.86 235.48L317.16 234.83L317.6 234.75L318.29 235.78L318.77 235.91L319.17 235.69L319.42 234.75L319.04 230.78M323.05 228.52L324.53 234.57L324.82 233.73L325.42 234.74L325.75 234.13L326.1 233.58L326.59 233.92L327.06 234.23L327.31 232.92L327.96 234.48L328.29 233.74L328.26 230.19L328.99 232.41L329.54 233.4L329.83 232.15L330.34 232.85L330.74 232.56L331.21 232.89L331.74 233.84L332.07 232.79L332.55 233.32L333.02 233.8L333.44 233.72L333.89 234.06L334.12 231.46L334.34 228.61" class="ln" stroke-width="0.8"/>
</g>
<text class="cl" x="453.71" y="20.19" transform="rotate(19.01 453.71 20.19)">Chr01</text>
<text class="cl" x="593.14" y="109.35" transform="rotate(47.06 593.14 109.35)">Chr02</text>
<text class="cl" x="668.27" y="244.04" transform="rotate(73.19 668.27 244.04)">Chr03</text>
<text class="cl" x="677.61" y="366.88" transform="rotate(-85.82 677.61 366.88)">Chr04</text>
<text class="cl" x="647.11" y="489.3" transform="rotate(-64.24 647.11 489.3)">Chr05</text>
<text class="cl" x="576.41" y="589.2" transform="rotate(-43.44 576.41 589.2)">Chr06</text>
<text class="cl" x="477.45" y="649.22" transform="rotate(-23.71 477.45 649.22)">Chr07</text>
<text class="cl" x="366.28" y="677.97" transform="rotate(-4.02 366.28 677.97)">Chr08</text>
<text class="cl" x="249.74" y="668.3" transform="rotate(15.92 249.74 668.3)">Chr09</text>
<text class="cl" x="147.11" y="621" transform="rotate(35.07 147.11 621)">Chr10</text>
<text class="cl" x="67.66" y="545.33" transform="rotate(53.58 67.66 545.33)">Chr11</text>
<text class="cl" x="19.33" y="447.1" transform="rotate(72.06 19.33 447.1)">Chr12</text>
<text class="cl" x="6" y="341.99" transform="rotate(90.07 6 341.99)">Chr13</text>
<text class="cl" x="17.91" y="239.5" transform="rotate(-72.42 17.91 239.5)">Chr14</text>
<text class="cl" x="58.16" y="153.57" transform="rotate(-56.43 58.16 153.57)">Chr15</text>
<text class="cl" x="115.83" y="87.95" transform="rotate(-41.72 115.83 87.95)">Chr16</text>
<text class="cl" x="179.59" y="43.74" transform="rotate(-28.64 179.59 43.74)">Chr17</text>
<text class="cl" x="248.12" y="17.28" transform="rotate(-16.22 248.12 17.28)">Chr18</text>
<text class="cl" x="299.2" y="7.92" transform="rotate(-7.41 299.2 7.92)">Chr19</text>
<text class="lt" x="342.3" y="44">a</text>
<text class="lt" x="342.3" y="71.7">b</text>
<text class="lt" x="342.5" y="106">c</text>
<text class="lt" x="340.6" y="147.2">d</text>
<text class="lt" x="341.0" y="185.7">e</text>
<text class="lt" x="340.5" y="225.4">f</text>
<defs><clipPath id="shc"><path d="M345 273.4C353.37 273.9 369.88 275.17 378.8 276.9C387.72 278.63 393.23 281.02 398.5 283.8C403.77 286.58 406.78 289.67 410.4 293.6C414.02 297.53 417.5 302.5 420.2 307.4C422.9 312.3 425.17 318.07 426.6 323C428.03 327.93 428.82 332.17 428.8 337C428.78 341.83 428.05 347 426.5 352C424.95 357 422.75 362.42 419.5 367C416.25 371.58 411.75 375.8 407 379.5C402.25 383.2 395.58 386.37 391 389.2C386.42 392.03 383 393.78 379.5 396.5C376 399.22 373.42 402.17 370 405.5C366.58 408.83 362.42 413.75 359 416.5C355.58 419.25 352.67 420.92 349.5 422C346.33 423.08 342.13 423.15 340 423C337.87 422.85 339.13 422.22 336.7 421.1C334.27 419.98 329.15 418.7 325.4 416.3C321.65 413.9 317.93 410.18 314.2 406.7C310.47 403.22 306.75 399.15 303 395.4C299.25 391.65 295.72 388.2 291.7 384.2C287.68 380.2 282.9 375.42 278.9 371.4C274.9 367.38 270.65 363.85 267.7 360.1C264.75 356.35 262.78 353.42 261.2 348.9C259.62 344.38 258.48 337.82 258.2 333C257.92 328.18 258.72 323.6 259.5 320C260.28 316.4 261.23 314.82 262.9 311.4C264.57 307.98 266.43 303.45 269.5 299.5C272.57 295.55 277.15 290.77 281.3 287.7C285.45 284.63 289.58 282.97 294.4 281.1C299.22 279.23 304.5 277.7 310.2 276.5C315.9 275.3 322.8 274.42 328.6 273.9C334.4 273.38 336.63 272.9 345 273.4Z"/></clipPath><filter id="bl" x="-20%" y="-20%" width="140%" height="140%"><feGaussianBlur stdDeviation="1.3"/></filter><filter id="bl2" x="-20%" y="-20%" width="140%" height="140%"><feGaussianBlur stdDeviation="0.6"/></filter><linearGradient id="shg" x1="0" y1="273" x2="0" y2="423" gradientUnits="userSpaceOnUse"><stop offset="0" stop-color="#947072"/><stop offset="0.3" stop-color="#8f6669"/><stop offset="1" stop-color="#7f6065"/></linearGradient></defs>
<path d="M345 273.4C353.37 273.9 369.88 275.17 378.8 276.9C387.72 278.63 393.23 281.02 398.5 283.8C403.77 286.58 406.78 289.67 410.4 293.6C414.02 297.53 417.5 302.5 420.2 307.4C422.9 312.3 425.17 318.07 426.6 323C428.03 327.93 428.82 332.17 428.8 337C428.78 341.83 428.05 347 426.5 352C424.95 357 422.75 362.42 419.5 367C416.25 371.58 411.75 375.8 407 379.5C402.25 383.2 395.58 386.37 391 389.2C386.42 392.03 383 393.78 379.5 396.5C376 399.22 373.42 402.17 370 405.5C366.58 408.83 362.42 413.75 359 416.5C355.58 419.25 352.67 420.92 349.5 422C346.33 423.08 342.13 423.15 340 423C337.87 422.85 339.13 422.22 336.7 421.1C334.27 419.98 329.15 418.7 325.4 416.3C321.65 413.9 317.93 410.18 314.2 406.7C310.47 403.22 306.75 399.15 303 395.4C299.25 391.65 295.72 388.2 291.7 384.2C287.68 380.2 282.9 375.42 278.9 371.4C274.9 367.38 270.65 363.85 267.7 360.1C264.75 356.35 262.78 353.42 261.2 348.9C259.62 344.38 258.48 337.82 258.2 333C257.92 328.18 258.72 323.6 259.5 320C260.28 316.4 261.23 314.82 262.9 311.4C264.57 307.98 266.43 303.45 269.5 299.5C272.57 295.55 277.15 290.77 281.3 287.7C285.45 284.63 289.58 282.97 294.4 281.1C299.22 279.23 304.5 277.7 310.2 276.5C315.9 275.3 322.8 274.42 328.6 273.9C334.4 273.38 336.63 272.9 345 273.4Z" fill="url(#shg)"/>
<g clip-path="url(#shc)">
<path d="M345 273.4C353.37 273.9 369.88 275.17 378.8 276.9C387.72 278.63 393.23 281.02 398.5 283.8C403.77 286.58 406.78 289.67 410.4 293.6C414.02 297.53 417.5 302.5 420.2 307.4C422.9 312.3 425.17 318.07 426.6 323C428.03 327.93 428.82 332.17 428.8 337C428.78 341.83 428.05 347 426.5 352C424.95 357 422.75 362.42 419.5 367C416.25 371.58 411.75 375.8 407 379.5C402.25 383.2 395.58 386.37 391 389.2C386.42 392.03 383 393.78 379.5 396.5C376 399.22 373.42 402.17 370 405.5C366.58 408.83 362.42 413.75 359 416.5C355.58 419.25 352.67 420.92 349.5 422C346.33 423.08 342.13 423.15 340 423C337.87 422.85 339.13 422.22 336.7 421.1C334.27 419.98 329.15 418.7 325.4 416.3C321.65 413.9 317.93 410.18 314.2 406.7C310.47 403.22 306.75 399.15 303 395.4C299.25 391.65 295.72 388.2 291.7 384.2C287.68 380.2 282.9 375.42 278.9 371.4C274.9 367.38 270.65 363.85 267.7 360.1C264.75 356.35 262.78 353.42 261.2 348.9C259.62 344.38 258.48 337.82 258.2 333C257.92 328.18 258.72 323.6 259.5 320C260.28 316.4 261.23 314.82 262.9 311.4C264.57 307.98 266.43 303.45 269.5 299.5C272.57 295.55 277.15 290.77 281.3 287.7C285.45 284.63 289.58 282.97 294.4 281.1C299.22 279.23 304.5 277.7 310.2 276.5C315.9 275.3 322.8 274.42 328.6 273.9C334.4 273.38 336.63 272.9 345 273.4Z" fill="#8f6566" transform="translate(345 419) scale(0.9) translate(-345 -419)" filter="url(#bl)"/>
<path d="M345 273.4C353.37 273.9 369.88 275.17 378.8 276.9C387.72 278.63 393.23 281.02 398.5 283.8C403.77 286.58 406.78 289.67 410.4 293.6C414.02 297.53 417.5 302.5 420.2 307.4C422.9 312.3 425.17 318.07 426.6 323C428.03 327.93 428.82 332.17 428.8 337C428.78 341.83 428.05 347 426.5 352C424.95 357 422.75 362.42 419.5 367C416.25 371.58 411.75 375.8 407 379.5C402.25 383.2 395.58 386.37 391 389.2C386.42 392.03 383 393.78 379.5 396.5C376 399.22 373.42 402.17 370 405.5C366.58 408.83 362.42 413.75 359 416.5C355.58 419.25 352.67 420.92 349.5 422C346.33 423.08 342.13 423.15 340 423C337.87 422.85 339.13 422.22 336.7 421.1C334.27 419.98 329.15 418.7 325.4 416.3C321.65 413.9 317.93 410.18 314.2 406.7C310.47 403.22 306.75 399.15 303 395.4C299.25 391.65 295.72 388.2 291.7 384.2C287.68 380.2 282.9 375.42 278.9 371.4C274.9 367.38 270.65 363.85 267.7 360.1C264.75 356.35 262.78 353.42 261.2 348.9C259.62 344.38 258.48 337.82 258.2 333C257.92 328.18 258.72 323.6 259.5 320C260.28 316.4 261.23 314.82 262.9 311.4C264.57 307.98 266.43 303.45 269.5 299.5C272.57 295.55 277.15 290.77 281.3 287.7C285.45 284.63 289.58 282.97 294.4 281.1C299.22 279.23 304.5 277.7 310.2 276.5C315.9 275.3 322.8 274.42 328.6 273.9C334.4 273.38 336.63 272.9 345 273.4Z" fill="#ad8d8f" transform="translate(345 419) scale(0.755) translate(-345 -419)" filter="url(#bl)"/>
<path d="M345 273.4C353.37 273.9 369.88 275.17 378.8 276.9C387.72 278.63 393.23 281.02 398.5 283.8C403.77 286.58 406.78 289.67 410.4 293.6C414.02 297.53 417.5 302.5 420.2 307.4C422.9 312.3 425.17 318.07 426.6 323C428.03 327.93 428.82 332.17 428.8 337C428.78 341.83 428.05 347 426.5 352C424.95 357 422.75 362.42 419.5 367C416.25 371.58 411.75 375.8 407 379.5C402.25 383.2 395.58 386.37 391 389.2C386.42 392.03 383 393.78 379.5 396.5C376 399.22 373.42 402.17 370 405.5C366.58 408.83 362.42 413.75 359 416.5C355.58 419.25 352.67 420.92 349.5 422C346.33 423.08 342.13 423.15 340 423C337.87 422.85 339.13 422.22 336.7 421.1C334.27 419.98 329.15 418.7 325.4 416.3C321.65 413.9 317.93 410.18 314.2 406.7C310.47 403.22 306.75 399.15 303 395.4C299.25 391.65 295.72 388.2 291.7 384.2C287.68 380.2 282.9 375.42 278.9 371.4C274.9 367.38 270.65 363.85 267.7 360.1C264.75 356.35 262.78 353.42 261.2 348.9C259.62 344.38 258.48 337.82 258.2 333C257.92 328.18 258.72 323.6 259.5 320C260.28 316.4 261.23 314.82 262.9 311.4C264.57 307.98 266.43 303.45 269.5 299.5C272.57 295.55 277.15 290.77 281.3 287.7C285.45 284.63 289.58 282.97 294.4 281.1C299.22 279.23 304.5 277.7 310.2 276.5C315.9 275.3 322.8 274.42 328.6 273.9C334.4 273.38 336.63 272.9 345 273.4Z" fill="#987676" transform="translate(345 419) scale(0.72) translate(-345 -419)" filter="url(#bl)"/>
<path d="M345 273.4C353.37 273.9 369.88 275.17 378.8 276.9C387.72 278.63 393.23 281.02 398.5 283.8C403.77 286.58 406.78 289.67 410.4 293.6C414.02 297.53 417.5 302.5 420.2 307.4C422.9 312.3 425.17 318.07 426.6 323C428.03 327.93 428.82 332.17 428.8 337C428.78 341.83 428.05 347 426.5 352C424.95 357 422.75 362.42 419.5 367C416.25 371.58 411.75 375.8 407 379.5C402.25 383.2 395.58 386.37 391 389.2C386.42 392.03 383 393.78 379.5 396.5C376 399.22 373.42 402.17 370 405.5C366.58 408.83 362.42 413.75 359 416.5C355.58 419.25 352.67 420.92 349.5 422C346.33 423.08 342.13 423.15 340 423C337.87 422.85 339.13 422.22 336.7 421.1C334.27 419.98 329.15 418.7 325.4 416.3C321.65 413.9 317.93 410.18 314.2 406.7C310.47 403.22 306.75 399.15 303 395.4C299.25 391.65 295.72 388.2 291.7 384.2C287.68 380.2 282.9 375.42 278.9 371.4C274.9 367.38 270.65 363.85 267.7 360.1C264.75 356.35 262.78 353.42 261.2 348.9C259.62 344.38 258.48 337.82 258.2 333C257.92 328.18 258.72 323.6 259.5 320C260.28 316.4 261.23 314.82 262.9 311.4C264.57 307.98 266.43 303.45 269.5 299.5C272.57 295.55 277.15 290.77 281.3 287.7C285.45 284.63 289.58 282.97 294.4 281.1C299.22 279.23 304.5 277.7 310.2 276.5C315.9 275.3 322.8 274.42 328.6 273.9C334.4 273.38 336.63 272.9 345 273.4Z" fill="#9c7b7d" transform="translate(345 419) scale(0.665) translate(-345 -419)" filter="url(#bl)"/>
<path d="M345 273.4C353.37 273.9 369.88 275.17 378.8 276.9C387.72 278.63 393.23 281.02 398.5 283.8C403.77 286.58 406.78 289.67 410.4 293.6C414.02 297.53 417.5 302.5 420.2 307.4C422.9 312.3 425.17 318.07 426.6 323C428.03 327.93 428.82 332.17 428.8 337C428.78 341.83 428.05 347 426.5 352C424.95 357 422.75 362.42 419.5 367C416.25 371.58 411.75 375.8 407 379.5C402.25 383.2 395.58 386.37 391 389.2C386.42 392.03 383 393.78 379.5 396.5C376 399.22 373.42 402.17 370 405.5C366.58 408.83 362.42 413.75 359 416.5C355.58 419.25 352.67 420.92 349.5 422C346.33 423.08 342.13 423.15 340 423C337.87 422.85 339.13 422.22 336.7 421.1C334.27 419.98 329.15 418.7 325.4 416.3C321.65 413.9 317.93 410.18 314.2 406.7C310.47 403.22 306.75 399.15 303 395.4C299.25 391.65 295.72 388.2 291.7 384.2C287.68 380.2 282.9 375.42 278.9 371.4C274.9 367.38 270.65 363.85 267.7 360.1C264.75 356.35 262.78 353.42 261.2 348.9C259.62 344.38 258.48 337.82 258.2 333C257.92 328.18 258.72 323.6 259.5 320C260.28 316.4 261.23 314.82 262.9 311.4C264.57 307.98 266.43 303.45 269.5 299.5C272.57 295.55 277.15 290.77 281.3 287.7C285.45 284.63 289.58 282.97 294.4 281.1C299.22 279.23 304.5 277.7 310.2 276.5C315.9 275.3 322.8 274.42 328.6 273.9C334.4 273.38 336.63 272.9 345 273.4Z" fill="#8f6d6f" transform="translate(345 419) scale(0.625) translate(-345 -419)" filter="url(#bl)"/>
<path d="M345 273.4C353.37 273.9 369.88 275.17 378.8 276.9C387.72 278.63 393.23 281.02 398.5 283.8C403.77 286.58 406.78 289.67 410.4 293.6C414.02 297.53 417.5 302.5 420.2 307.4C422.9 312.3 425.17 318.07 426.6 323C428.03 327.93 428.82 332.17 428.8 337C428.78 341.83 428.05 347 426.5 352C424.95 357 422.75 362.42 419.5 367C416.25 371.58 411.75 375.8 407 379.5C402.25 383.2 395.58 386.37 391 389.2C386.42 392.03 383 393.78 379.5 396.5C376 399.22 373.42 402.17 370 405.5C366.58 408.83 362.42 413.75 359 416.5C355.58 419.25 352.67 420.92 349.5 422C346.33 423.08 342.13 423.15 340 423C337.87 422.85 339.13 422.22 336.7 421.1C334.27 419.98 329.15 418.7 325.4 416.3C321.65 413.9 317.93 410.18 314.2 406.7C310.47 403.22 306.75 399.15 303 395.4C299.25 391.65 295.72 388.2 291.7 384.2C287.68 380.2 282.9 375.42 278.9 371.4C274.9 367.38 270.65 363.85 267.7 360.1C264.75 356.35 262.78 353.42 261.2 348.9C259.62 344.38 258.48 337.82 258.2 333C257.92 328.18 258.72 323.6 259.5 320C260.28 316.4 261.23 314.82 262.9 311.4C264.57 307.98 266.43 303.45 269.5 299.5C272.57 295.55 277.15 290.77 281.3 287.7C285.45 284.63 289.58 282.97 294.4 281.1C299.22 279.23 304.5 277.7 310.2 276.5C315.9 275.3 322.8 274.42 328.6 273.9C334.4 273.38 336.63 272.9 345 273.4Z" fill="#9f7f81" transform="translate(345 419) scale(0.6) translate(-345 -419)" filter="url(#bl)"/>
<path d="M345 273.4C353.37 273.9 369.88 275.17 378.8 276.9C387.72 278.63 393.23 281.02 398.5 283.8C403.77 286.58 406.78 289.67 410.4 293.6C414.02 297.53 417.5 302.5 420.2 307.4C422.9 312.3 425.17 318.07 426.6 323C428.03 327.93 428.82 332.17 428.8 337C428.78 341.83 428.05 347 426.5 352C424.95 357 422.75 362.42 419.5 367C416.25 371.58 411.75 375.8 407 379.5C402.25 383.2 395.58 386.37 391 389.2C386.42 392.03 383 393.78 379.5 396.5C376 399.22 373.42 402.17 370 405.5C366.58 408.83 362.42 413.75 359 416.5C355.58 419.25 352.67 420.92 349.5 422C346.33 423.08 342.13 423.15 340 423C337.87 422.85 339.13 422.22 336.7 421.1C334.27 419.98 329.15 418.7 325.4 416.3C321.65 413.9 317.93 410.18 314.2 406.7C310.47 403.22 306.75 399.15 303 395.4C299.25 391.65 295.72 388.2 291.7 384.2C287.68 380.2 282.9 375.42 278.9 371.4C274.9 367.38 270.65 363.85 267.7 360.1C264.75 356.35 262.78 353.42 261.2 348.9C259.62 344.38 258.48 337.82 258.2 333C257.92 328.18 258.72 323.6 259.5 320C260.28 316.4 261.23 314.82 262.9 311.4C264.57 307.98 266.43 303.45 269.5 299.5C272.57 295.55 277.15 290.77 281.3 287.7C285.45 284.63 289.58 282.97 294.4 281.1C299.22 279.23 304.5 277.7 310.2 276.5C315.9 275.3 322.8 274.42 328.6 273.9C334.4 273.38 336.63 272.9 345 273.4Z" fill="#896466" transform="translate(345 419) scale(0.572) translate(-345 -419)" filter="url(#bl)"/>
<path d="M345 273.4C353.37 273.9 369.88 275.17 378.8 276.9C387.72 278.63 393.23 281.02 398.5 283.8C403.77 286.58 406.78 289.67 410.4 293.6C414.02 297.53 417.5 302.5 420.2 307.4C422.9 312.3 425.17 318.07 426.6 323C428.03 327.93 428.82 332.17 428.8 337C428.78 341.83 428.05 347 426.5 352C424.95 357 422.75 362.42 419.5 367C416.25 371.58 411.75 375.8 407 379.5C402.25 383.2 395.58 386.37 391 389.2C386.42 392.03 383 393.78 379.5 396.5C376 399.22 373.42 402.17 370 405.5C366.58 408.83 362.42 413.75 359 416.5C355.58 419.25 352.67 420.92 349.5 422C346.33 423.08 342.13 423.15 340 423C337.87 422.85 339.13 422.22 336.7 421.1C334.27 419.98 329.15 418.7 325.4 416.3C321.65 413.9 317.93 410.18 314.2 406.7C310.47 403.22 306.75 399.15 303 395.4C299.25 391.65 295.72 388.2 291.7 384.2C287.68 380.2 282.9 375.42 278.9 371.4C274.9 367.38 270.65 363.85 267.7 360.1C264.75 356.35 262.78 353.42 261.2 348.9C259.62 344.38 258.48 337.82 258.2 333C257.92 328.18 258.72 323.6 259.5 320C260.28 316.4 261.23 314.82 262.9 311.4C264.57 307.98 266.43 303.45 269.5 299.5C272.57 295.55 277.15 290.77 281.3 287.7C285.45 284.63 289.58 282.97 294.4 281.1C299.22 279.23 304.5 277.7 310.2 276.5C315.9 275.3 322.8 274.42 328.6 273.9C334.4 273.38 336.63 272.9 345 273.4Z" fill="#8b6669" transform="translate(345 419) scale(0.42) translate(-345 -419)" filter="url(#bl)"/>
<path d="M345 273.4C353.37 273.9 369.88 275.17 378.8 276.9C387.72 278.63 393.23 281.02 398.5 283.8C403.77 286.58 406.78 289.67 410.4 293.6C414.02 297.53 417.5 302.5 420.2 307.4C422.9 312.3 425.17 318.07 426.6 323C428.03 327.93 428.82 332.17 428.8 337C428.78 341.83 428.05 347 426.5 352C424.95 357 422.75 362.42 419.5 367C416.25 371.58 411.75 375.8 407 379.5C402.25 383.2 395.58 386.37 391 389.2C386.42 392.03 383 393.78 379.5 396.5C376 399.22 373.42 402.17 370 405.5C366.58 408.83 362.42 413.75 359 416.5C355.58 419.25 352.67 420.92 349.5 422C346.33 423.08 342.13 423.15 340 423C337.87 422.85 339.13 422.22 336.7 421.1C334.27 419.98 329.15 418.7 325.4 416.3C321.65 413.9 317.93 410.18 314.2 406.7C310.47 403.22 306.75 399.15 303 395.4C299.25 391.65 295.72 388.2 291.7 384.2C287.68 380.2 282.9 375.42 278.9 371.4C274.9 367.38 270.65 363.85 267.7 360.1C264.75 356.35 262.78 353.42 261.2 348.9C259.62 344.38 258.48 337.82 258.2 333C257.92 328.18 258.72 323.6 259.5 320C260.28 316.4 261.23 314.82 262.9 311.4C264.57 307.98 266.43 303.45 269.5 299.5C272.57 295.55 277.15 290.77 281.3 287.7C285.45 284.63 289.58 282.97 294.4 281.1C299.22 279.23 304.5 277.7 310.2 276.5C315.9 275.3 322.8 274.42 328.6 273.9C334.4 273.38 336.63 272.9 345 273.4Z" fill="#846165" transform="translate(345 419) scale(0.25) translate(-345 -419)" filter="url(#bl)"/>
<g fill="none" stroke="#a88480" stroke-width="0.5" opacity="0.6"><path d="M345 273.4C353.37 273.9 369.88 275.17 378.8 276.9C387.72 278.63 393.23 281.02 398.5 283.8C403.77 286.58 406.78 289.67 410.4 293.6C414.02 297.53 417.5 302.5 420.2 307.4C422.9 312.3 425.17 318.07 426.6 323C428.03 327.93 428.82 332.17 428.8 337C428.78 341.83 428.05 347 426.5 352C424.95 357 422.75 362.42 419.5 367C416.25 371.58 411.75 375.8 407 379.5C402.25 383.2 395.58 386.37 391 389.2C386.42 392.03 383 393.78 379.5 396.5C376 399.22 373.42 402.17 370 405.5C366.58 408.83 362.42 413.75 359 416.5C355.58 419.25 352.67 420.92 349.5 422C346.33 423.08 342.13 423.15 340 423C337.87 422.85 339.13 422.22 336.7 421.1C334.27 419.98 329.15 418.7 325.4 416.3C321.65 413.9 317.93 410.18 314.2 406.7C310.47 403.22 306.75 399.15 303 395.4C299.25 391.65 295.72 388.2 291.7 384.2C287.68 380.2 282.9 375.42 278.9 371.4C274.9 367.38 270.65 363.85 267.7 360.1C264.75 356.35 262.78 353.42 261.2 348.9C259.62 344.38 258.48 337.82 258.2 333C257.92 328.18 258.72 323.6 259.5 320C260.28 316.4 261.23 314.82 262.9 311.4C264.57 307.98 266.43 303.45 269.5 299.5C272.57 295.55 277.15 290.77 281.3 287.7C285.45 284.63 289.58 282.97 294.4 281.1C299.22 279.23 304.5 277.7 310.2 276.5C315.9 275.3 322.8 274.42 328.6 273.9C334.4 273.38 336.63 272.9 345 273.4Z" transform="translate(345 419) scale(0.98) translate(-345 -419)"/><path d="M345 273.4C353.37 273.9 369.88 275.17 378.8 276.9C387.72 278.63 393.23 281.02 398.5 283.8C403.77 286.58 406.78 289.67 410.4 293.6C414.02 297.53 417.5 302.5 420.2 307.4C422.9 312.3 425.17 318.07 426.6 323C428.03 327.93 428.82 332.17 428.8 337C428.78 341.83 428.05 347 426.5 352C424.95 357 422.75 362.42 419.5 367C416.25 371.58 411.75 375.8 407 379.5C402.25 383.2 395.58 386.37 391 389.2C386.42 392.03 383 393.78 379.5 396.5C376 399.22 373.42 402.17 370 405.5C366.58 408.83 362.42 413.75 359 416.5C355.58 419.25 352.67 420.92 349.5 422C346.33 423.08 342.13 423.15 340 423C337.87 422.85 339.13 422.22 336.7 421.1C334.27 419.98 329.15 418.7 325.4 416.3C321.65 413.9 317.93 410.18 314.2 406.7C310.47 403.22 306.75 399.15 303 395.4C299.25 391.65 295.72 388.2 291.7 384.2C287.68 380.2 282.9 375.42 278.9 371.4C274.9 367.38 270.65 363.85 267.7 360.1C264.75 356.35 262.78 353.42 261.2 348.9C259.62 344.38 258.48 337.82 258.2 333C257.92 328.18 258.72 323.6 259.5 320C260.28 316.4 261.23 314.82 262.9 311.4C264.57 307.98 266.43 303.45 269.5 299.5C272.57 295.55 277.15 290.77 281.3 287.7C285.45 284.63 289.58 282.97 294.4 281.1C299.22 279.23 304.5 277.7 310.2 276.5C315.9 275.3 322.8 274.42 328.6 273.9C334.4 273.38 336.63 272.9 345 273.4Z" transform="translate(345 419) scale(0.96) translate(-345 -419)"/><path d="M345 273.4C353.37 273.9 369.88 275.17 378.8 276.9C387.72 278.63 393.23 281.02 398.5 283.8C403.77 286.58 406.78 289.67 410.4 293.6C414.02 297.53 417.5 302.5 420.2 307.4C422.9 312.3 425.17 318.07 426.6 323C428.03 327.93 428.82 332.17 428.8 337C428.78 341.83 428.05 347 426.5 352C424.95 357 422.75 362.42 419.5 367C416.25 371.58 411.75 375.8 407 379.5C402.25 383.2 395.58 386.37 391 389.2C386.42 392.03 383 393.78 379.5 396.5C376 399.22 373.42 402.17 370 405.5C366.58 408.83 362.42 413.75 359 416.5C355.58 419.25 352.67 420.92 349.5 422C346.33 423.08 342.13 423.15 340 423C337.87 422.85 339.13 422.22 336.7 421.1C334.27 419.98 329.15 418.7 325.4 416.3C321.65 413.9 317.93 410.18 314.2 406.7C310.47 403.22 306.75 399.15 303 395.4C299.25 391.65 295.72 388.2 291.7 384.2C287.68 380.2 282.9 375.42 278.9 371.4C274.9 367.38 270.65 363.85 267.7 360.1C264.75 356.35 262.78 353.42 261.2 348.9C259.62 344.38 258.48 337.82 258.2 333C257.92 328.18 258.72 323.6 259.5 320C260.28 316.4 261.23 314.82 262.9 311.4C264.57 307.98 266.43 303.45 269.5 299.5C272.57 295.55 277.15 290.77 281.3 287.7C285.45 284.63 289.58 282.97 294.4 281.1C299.22 279.23 304.5 277.7 310.2 276.5C315.9 275.3 322.8 274.42 328.6 273.9C334.4 273.38 336.63 272.9 345 273.4Z" transform="translate(345 419) scale(0.94) translate(-345 -419)"/><path d="M345 273.4C353.37 273.9 369.88 275.17 378.8 276.9C387.72 278.63 393.23 281.02 398.5 283.8C403.77 286.58 406.78 289.67 410.4 293.6C414.02 297.53 417.5 302.5 420.2 307.4C422.9 312.3 425.17 318.07 426.6 323C428.03 327.93 428.82 332.17 428.8 337C428.78 341.83 428.05 347 426.5 352C424.95 357 422.75 362.42 419.5 367C416.25 371.58 411.75 375.8 407 379.5C402.25 383.2 395.58 386.37 391 389.2C386.42 392.03 383 393.78 379.5 396.5C376 399.22 373.42 402.17 370 405.5C366.58 408.83 362.42 413.75 359 416.5C355.58 419.25 352.67 420.92 349.5 422C346.33 423.08 342.13 423.15 340 423C337.87 422.85 339.13 422.22 336.7 421.1C334.27 419.98 329.15 418.7 325.4 416.3C321.65 413.9 317.93 410.18 314.2 406.7C310.47 403.22 306.75 399.15 303 395.4C299.25 391.65 295.72 388.2 291.7 384.2C287.68 380.2 282.9 375.42 278.9 371.4C274.9 367.38 270.65 363.85 267.7 360.1C264.75 356.35 262.78 353.42 261.2 348.9C259.62 344.38 258.48 337.82 258.2 333C257.92 328.18 258.72 323.6 259.5 320C260.28 316.4 261.23 314.82 262.9 311.4C264.57 307.98 266.43 303.45 269.5 299.5C272.57 295.55 277.15 290.77 281.3 287.7C285.45 284.63 289.58 282.97 294.4 281.1C299.22 279.23 304.5 277.7 310.2 276.5C315.9 275.3 322.8 274.42 328.6 273.9C334.4 273.38 336.63 272.9 345 273.4Z" transform="translate(345 419) scale(0.91) translate(-345 -419)"/><path d="M345 273.4C353.37 273.9 369.88 275.17 378.8 276.9C387.72 278.63 393.23 281.02 398.5 283.8C403.77 286.58 406.78 289.67 410.4 293.6C414.02 297.53 417.5 302.5 420.2 307.4C422.9 312.3 425.17 318.07 426.6 323C428.03 327.93 428.82 332.17 428.8 337C428.78 341.83 428.05 347 426.5 352C424.95 357 422.75 362.42 419.5 367C416.25 371.58 411.75 375.8 407 379.5C402.25 383.2 395.58 386.37 391 389.2C386.42 392.03 383 393.78 379.5 396.5C376 399.22 373.42 402.17 370 405.5C366.58 408.83 362.42 413.75 359 416.5C355.58 419.25 352.67 420.92 349.5 422C346.33 423.08 342.13 423.15 340 423C337.87 422.85 339.13 422.22 336.7 421.1C334.27 419.98 329.15 418.7 325.4 416.3C321.65 413.9 317.93 410.18 314.2 406.7C310.47 403.22 306.75 399.15 303 395.4C299.25 391.65 295.72 388.2 291.7 384.2C287.68 380.2 282.9 375.42 278.9 371.4C274.9 367.38 270.65 363.85 267.7 360.1C264.75 356.35 262.78 353.42 261.2 348.9C259.62 344.38 258.48 337.82 258.2 333C257.92 328.18 258.72 323.6 259.5 320C260.28 316.4 261.23 314.82 262.9 311.4C264.57 307.98 266.43 303.45 269.5 299.5C272.57 295.55 277.15 290.77 281.3 287.7C285.45 284.63 289.58 282.97 294.4 281.1C299.22 279.23 304.5 277.7 310.2 276.5C315.9 275.3 322.8 274.42 328.6 273.9C334.4 273.38 336.63 272.9 345 273.4Z" transform="translate(345 419) scale(0.89) translate(-345 -419)"/><path d="M345 273.4C353.37 273.9 369.88 275.17 378.8 276.9C387.72 278.63 393.23 281.02 398.5 283.8C403.77 286.58 406.78 289.67 410.4 293.6C414.02 297.53 417.5 302.5 420.2 307.4C422.9 312.3 425.17 318.07 426.6 323C428.03 327.93 428.82 332.17 428.8 337C428.78 341.83 428.05 347 426.5 352C424.95 357 422.75 362.42 419.5 367C416.25 371.58 411.75 375.8 407 379.5C402.25 383.2 395.58 386.37 391 389.2C386.42 392.03 383 393.78 379.5 396.5C376 399.22 373.42 402.17 370 405.5C366.58 408.83 362.42 413.75 359 416.5C355.58 419.25 352.67 420.92 349.5 422C346.33 423.08 342.13 423.15 340 423C337.87 422.85 339.13 422.22 336.7 421.1C334.27 419.98 329.15 418.7 325.4 416.3C321.65 413.9 317.93 410.18 314.2 406.7C310.47 403.22 306.75 399.15 303 395.4C299.25 391.65 295.72 388.2 291.7 384.2C287.68 380.2 282.9 375.42 278.9 371.4C274.9 367.38 270.65 363.85 267.7 360.1C264.75 356.35 262.78 353.42 261.2 348.9C259.62 344.38 258.48 337.82 258.2 333C257.92 328.18 258.72 323.6 259.5 320C260.28 316.4 261.23 314.82 262.9 311.4C264.57 307.98 266.43 303.45 269.5 299.5C272.57 295.55 277.15 290.77 281.3 287.7C285.45 284.63 289.58 282.97 294.4 281.1C299.22 279.23 304.5 277.7 310.2 276.5C315.9 275.3 322.8 274.42 328.6 273.9C334.4 273.38 336.63 272.9 345 273.4Z" transform="translate(345 419) scale(0.86) translate(-345 -419)"/><path d="M345 273.4C353.37 273.9 369.88 275.17 378.8 276.9C387.72 278.63 393.23 281.02 398.5 283.8C403.77 286.58 406.78 289.67 410.4 293.6C414.02 297.53 417.5 302.5 420.2 307.4C422.9 312.3 425.17 318.07 426.6 323C428.03 327.93 428.82 332.17 428.8 337C428.78 341.83 428.05 347 426.5 352C424.95 357 422.75 362.42 419.5 367C416.25 371.58 411.75 375.8 407 379.5C402.25 383.2 395.58 386.37 391 389.2C386.42 392.03 383 393.78 379.5 396.5C376 399.22 373.42 402.17 370 405.5C366.58 408.83 362.42 413.75 359 416.5C355.58 419.25 352.67 420.92 349.5 422C346.33 423.08 342.13 423.15 340 423C337.87 422.85 339.13 422.22 336.7 421.1C334.27 419.98 329.15 418.7 325.4 416.3C321.65 413.9 317.93 410.18 314.2 406.7C310.47 403.22 306.75 399.15 303 395.4C299.25 391.65 295.72 388.2 291.7 384.2C287.68 380.2 282.9 375.42 278.9 371.4C274.9 367.38 270.65 363.85 267.7 360.1C264.75 356.35 262.78 353.42 261.2 348.9C259.62 344.38 258.48 337.82 258.2 333C257.92 328.18 258.72 323.6 259.5 320C260.28 316.4 261.23 314.82 262.9 311.4C264.57 307.98 266.43 303.45 269.5 299.5C272.57 295.55 277.15 290.77 281.3 287.7C285.45 284.63 289.58 282.97 294.4 281.1C299.22 279.23 304.5 277.7 310.2 276.5C315.9 275.3 322.8 274.42 328.6 273.9C334.4 273.38 336.63 272.9 345 273.4Z" transform="translate(345 419) scale(0.84) translate(-345 -419)"/><path d="M345 273.4C353.37 273.9 369.88 275.17 378.8 276.9C387.72 278.63 393.23 281.02 398.5 283.8C403.77 286.58 406.78 289.67 410.4 293.6C414.02 297.53 417.5 302.5 420.2 307.4C422.9 312.3 425.17 318.07 426.6 323C428.03 327.93 428.82 332.17 428.8 337C428.78 341.83 428.05 347 426.5 352C424.95 357 422.75 362.42 419.5 367C416.25 371.58 411.75 375.8 407 379.5C402.25 383.2 395.58 386.37 391 389.2C386.42 392.03 383 393.78 379.5 396.5C376 399.22 373.42 402.17 370 405.5C366.58 408.83 362.42 413.75 359 416.5C355.58 419.25 352.67 420.92 349.5 422C346.33 423.08 342.13 423.15 340 423C337.87 422.85 339.13 422.22 336.7 421.1C334.27 419.98 329.15 418.7 325.4 416.3C321.65 413.9 317.93 410.18 314.2 406.7C310.47 403.22 306.75 399.15 303 395.4C299.25 391.65 295.72 388.2 291.7 384.2C287.68 380.2 282.9 375.42 278.9 371.4C274.9 367.38 270.65 363.85 267.7 360.1C264.75 356.35 262.78 353.42 261.2 348.9C259.62 344.38 258.48 337.82 258.2 333C257.92 328.18 258.72 323.6 259.5 320C260.28 316.4 261.23 314.82 262.9 311.4C264.57 307.98 266.43 303.45 269.5 299.5C272.57 295.55 277.15 290.77 281.3 287.7C285.45 284.63 289.58 282.97 294.4 281.1C299.22 279.23 304.5 277.7 310.2 276.5C315.9 275.3 322.8 274.42 328.6 273.9C334.4 273.38 336.63 272.9 345 273.4Z" transform="translate(345 419) scale(0.82) translate(-345 -419)"/><path d="M345 273.4C353.37 273.9 369.88 275.17 378.8 276.9C387.72 278.63 393.23 281.02 398.5 283.8C403.77 286.58 406.78 289.67 410.4 293.6C414.02 297.53 417.5 302.5 420.2 307.4C422.9 312.3 425.17 318.07 426.6 323C428.03 327.93 428.82 332.17 428.8 337C428.78 341.83 428.05 347 426.5 352C424.95 357 422.75 362.42 419.5 367C416.25 371.58 411.75 375.8 407 379.5C402.25 383.2 395.58 386.37 391 389.2C386.42 392.03 383 393.78 379.5 396.5C376 399.22 373.42 402.17 370 405.5C366.58 408.83 362.42 413.75 359 416.5C355.58 419.25 352.67 420.92 349.5 422C346.33 423.08 342.13 423.15 340 423C337.87 422.85 339.13 422.22 336.7 421.1C334.27 419.98 329.15 418.7 325.4 416.3C321.65 413.9 317.93 410.18 314.2 406.7C310.47 403.22 306.75 399.15 303 395.4C299.25 391.65 295.72 388.2 291.7 384.2C287.68 380.2 282.9 375.42 278.9 371.4C274.9 367.38 270.65 363.85 267.7 360.1C264.75 356.35 262.78 353.42 261.2 348.9C259.62 344.38 258.48 337.82 258.2 333C257.92 328.18 258.72 323.6 259.5 320C260.28 316.4 261.23 314.82 262.9 311.4C264.57 307.98 266.43 303.45 269.5 299.5C272.57 295.55 277.15 290.77 281.3 287.7C285.45 284.63 289.58 282.97 294.4 281.1C299.22 279.23 304.5 277.7 310.2 276.5C315.9 275.3 322.8 274.42 328.6 273.9C334.4 273.38 336.63 272.9 345 273.4Z" transform="translate(345 419) scale(0.79) translate(-345 -419)"/></g>
<g fill="#f6eef0" opacity="0.55"><circle cx="417.39" cy="312.26" r="0.22"/><circle cx="414.27" cy="329.86" r="0.43"/><circle cx="394.89" cy="320.84" r="0.27"/><circle cx="330.37" cy="282.09" r="0.41"/><circle cx="353.64" cy="302.63" r="0.21"/><circle cx="410.42" cy="305.97" r="0.46"/><circle cx="399.71" cy="300.59" r="0.47"/><circle cx="309.96" cy="297.81" r="0.48"/><circle cx="318.23" cy="282.97" r="0.42"/><circle cx="386.8" cy="294.8" r="0.32"/><circle cx="399.79" cy="292.56" r="0.24"/><circle cx="324.5" cy="284.02" r="0.44"/><circle cx="399.63" cy="325.67" r="0.39"/><circle cx="266.66" cy="317.8" r="0.33"/><circle cx="391.78" cy="314.43" r="0.42"/><circle cx="404.8" cy="333.62" r="0.36"/><circle cx="338.49" cy="294.59" r="0.27"/><circle cx="398.42" cy="310.06" r="0.46"/><circle cx="293.6" cy="313.89" r="0.33"/><circle cx="278.47" cy="330.61" r="0.34"/><circle cx="362.61" cy="288.91" r="0.48"/><circle cx="379.15" cy="303.22" r="0.45"/><circle cx="304.55" cy="294.66" r="0.34"/><circle cx="393.85" cy="304.05" r="0.45"/><circle cx="346.93" cy="295.9" r="0.32"/><circle cx="389.54" cy="285.85" r="0.32"/><circle cx="414.66" cy="320.16" r="0.35"/><circle cx="402.08" cy="330.51" r="0.29"/><circle cx="402.59" cy="321.31" r="0.53"/><circle cx="401.9" cy="310.5" r="0.52"/><circle cx="364.52" cy="286.73" r="0.48"/><circle cx="371.89" cy="287.94" r="0.54"/><circle cx="401.48" cy="308.42" r="0.44"/><circle cx="283.31" cy="309.35" r="0.41"/><circle cx="386.12" cy="298.73" r="0.48"/><circle cx="407.15" cy="298.56" r="0.55"/><circle cx="389" cy="285.67" r="0.49"/><circle cx="399.38" cy="304.17" r="0.23"/><circle cx="293.92" cy="311.54" r="0.26"/><circle cx="398.96" cy="317.56" r="0.37"/><circle cx="408.62" cy="302.28" r="0.45"/><circle cx="401.5" cy="311.66" r="0.33"/><circle cx="395.11" cy="301.36" r="0.38"/><circle cx="397.03" cy="316.64" r="0.4"/><circle cx="408.01" cy="308.55" r="0.37"/><circle cx="393.67" cy="297.79" r="0.29"/><circle cx="414.51" cy="311.62" r="0.21"/><circle cx="296.17" cy="290.53" r="0.39"/><circle cx="380.3" cy="287.4" r="0.4"/><circle cx="287.26" cy="324.78" r="0.26"/><circle cx="387.95" cy="313.43" r="0.35"/><circle cx="280.44" cy="333.11" r="0.34"/><circle cx="392.24" cy="317.81" r="0.48"/><circle cx="279.73" cy="298.94" r="0.3"/><circle cx="407.61" cy="296.1" r="0.28"/><circle cx="397.2" cy="303.08" r="0.43"/><circle cx="401.77" cy="292.91" r="0.28"/><circle cx="413.72" cy="322.71" r="0.35"/><circle cx="396.04" cy="301.08" r="0.24"/><circle cx="365.55" cy="290.7" r="0.34"/><circle cx="387.4" cy="315.66" r="0.5"/><circle cx="269.11" cy="326.33" r="0.34"/><circle cx="393.54" cy="289.1" r="0.46"/><circle cx="416.33" cy="309.78" r="0.55"/><circle cx="278.32" cy="329.34" r="0.53"/><circle cx="389.18" cy="315.71" r="0.26"/><circle cx="284.15" cy="307.88" r="0.26"/><circle cx="304.92" cy="304.73" r="0.4"/><circle cx="411.04" cy="314.11" r="0.24"/><circle cx="362.8" cy="286.95" r="0.35"/><circle cx="398.5" cy="304.35" r="0.44"/><circle cx="282.63" cy="301.18" r="0.32"/><circle cx="367.09" cy="308.72" r="0.47"/><circle cx="303.73" cy="312.02" r="0.4"/><circle cx="295" cy="317.03" r="0.52"/><circle cx="385.55" cy="298.26" r="0.53"/><circle cx="376.38" cy="297.68" r="0.33"/><circle cx="368.86" cy="303.37" r="0.53"/><circle cx="313.89" cy="304.58" r="0.53"/><circle cx="408.22" cy="341.6" r="0.31"/><circle cx="272.65" cy="333.72" r="0.5"/><circle cx="417.62" cy="313.12" r="0.28"/><circle cx="272.92" cy="318.88" r="0.21"/><circle cx="402.58" cy="295.83" r="0.28"/><circle cx="405.11" cy="332.22" r="0.45"/><circle cx="397.07" cy="296.41" r="0.54"/><circle cx="379.03" cy="288.81" r="0.25"/><circle cx="371.17" cy="286.6" r="0.37"/><circle cx="311.64" cy="287.99" r="0.5"/><circle cx="387.02" cy="294" r="0.36"/><circle cx="403.53" cy="320.5" r="0.24"/><circle cx="390.42" cy="310.26" r="0.34"/><circle cx="388.13" cy="284.57" r="0.26"/><circle cx="406.98" cy="299.39" r="0.25"/><circle cx="268.33" cy="330.1" r="0.29"/><circle cx="386.4" cy="291.06" r="0.37"/><circle cx="293.53" cy="310.59" r="0.3"/><circle cx="388.25" cy="311.04" r="0.5"/><circle cx="394.44" cy="295.01" r="0.24"/><circle cx="305.07" cy="297.97" r="0.35"/><circle cx="403.4" cy="330.15" r="0.41"/><circle cx="303.57" cy="304.99" r="0.26"/><circle cx="404.16" cy="307.19" r="0.47"/><circle cx="380.3" cy="296.5" r="0.45"/><circle cx="410.16" cy="338.52" r="0.44"/><circle cx="285.33" cy="325.11" r="0.44"/><circle cx="298.75" cy="299.93" r="0.48"/><circle cx="376.16" cy="308.1" r="0.51"/><circle cx="407.58" cy="303.16" r="0.24"/><circle cx="371.28" cy="297.55" r="0.53"/><circle cx="400.25" cy="329.29" r="0.42"/><circle cx="398.94" cy="310.48" r="0.34"/><circle cx="420.97" cy="318.82" r="0.45"/><circle cx="398.88" cy="324.38" r="0.29"/><circle cx="401.5" cy="294.08" r="0.35"/><circle cx="394.72" cy="315.49" r="0.4"/><circle cx="402.79" cy="297.77" r="0.45"/><circle cx="386.7" cy="305.01" r="0.49"/><circle cx="415.87" cy="319.77" r="0.31"/><circle cx="399.2" cy="294.56" r="0.25"/><circle cx="379.06" cy="301.98" r="0.4"/><circle cx="409.43" cy="302.18" r="0.21"/><circle cx="366.07" cy="300.98" r="0.54"/><circle cx="389.82" cy="290.98" r="0.49"/><circle cx="379.23" cy="305.88" r="0.27"/><circle cx="275.18" cy="310.17" r="0.28"/><circle cx="409.78" cy="332.3" r="0.53"/><circle cx="416.69" cy="317.13" r="0.32"/><circle cx="316.55" cy="287.22" r="0.25"/><circle cx="363.94" cy="294.51" r="0.46"/><circle cx="380.82" cy="283.24" r="0.39"/><circle cx="393.66" cy="298.48" r="0.36"/><circle cx="400.78" cy="305.55" r="0.48"/><circle cx="352.37" cy="292.16" r="0.27"/><circle cx="277.21" cy="332.02" r="0.37"/><circle cx="279.09" cy="307.69" r="0.24"/><circle cx="402.01" cy="300.24" r="0.36"/><circle cx="285.52" cy="319.76" r="0.31"/><circle cx="400.72" cy="303.7" r="0.39"/><circle cx="340.18" cy="301.55" r="0.43"/><circle cx="270.96" cy="322.32" r="0.29"/><circle cx="370.13" cy="280.03" r="0.23"/><circle cx="408.84" cy="304.1" r="0.24"/><circle cx="295.47" cy="314.6" r="0.32"/><circle cx="403.82" cy="318.64" r="0.37"/><circle cx="268.97" cy="320.72" r="0.41"/><circle cx="380.94" cy="311.72" r="0.21"/><circle cx="284.1" cy="331.4" r="0.47"/><circle cx="403.26" cy="325.24" r="0.22"/><circle cx="403.3" cy="309.43" r="0.44"/><circle cx="297.63" cy="309.34" r="0.34"/><circle cx="390.97" cy="313.44" r="0.47"/><circle cx="269.58" cy="306.25" r="0.29"/><circle cx="392.33" cy="314.37" r="0.49"/><circle cx="306.65" cy="308.27" r="0.45"/><circle cx="388.43" cy="298.33" r="0.48"/><circle cx="398.7" cy="312.99" r="0.34"/><circle cx="299.78" cy="306.1" r="0.32"/><circle cx="369.19" cy="298.02" r="0.37"/><circle cx="401.33" cy="316.17" r="0.25"/><circle cx="405.79" cy="318.29" r="0.46"/><circle cx="369.95" cy="305.23" r="0.34"/><circle cx="419.38" cy="326.26" r="0.53"/><circle cx="292.38" cy="309.89" r="0.55"/><circle cx="271.63" cy="332.51" r="0.24"/><circle cx="371.67" cy="307.07" r="0.27"/><circle cx="416.03" cy="307.81" r="0.46"/><circle cx="408.83" cy="299.02" r="0.39"/><circle cx="405.85" cy="336.03" r="0.29"/><circle cx="379.48" cy="282.66" r="0.51"/><circle cx="389.33" cy="288.9" r="0.41"/><circle cx="400.27" cy="308.54" r="0.22"/><circle cx="365.7" cy="305.59" r="0.55"/><circle cx="289.11" cy="315.77" r="0.22"/><circle cx="296.46" cy="294.09" r="0.23"/><circle cx="410.36" cy="315.22" r="0.22"/><circle cx="397.02" cy="297.28" r="0.48"/><circle cx="407.46" cy="300.54" r="0.23"/><circle cx="415.36" cy="328.48" r="0.38"/><circle cx="273.75" cy="332.89" r="0.41"/><circle cx="398.79" cy="307.18" r="0.26"/><circle cx="294.32" cy="299.41" r="0.49"/><circle cx="397.6" cy="307.45" r="0.43"/><circle cx="376.93" cy="309.42" r="0.35"/><circle cx="400.28" cy="301.54" r="0.43"/><circle cx="341.3" cy="306.46" r="0.32"/><circle cx="302.19" cy="289.67" r="0.53"/><circle cx="382.87" cy="287.45" r="0.21"/><circle cx="399.18" cy="321.33" r="0.33"/><circle cx="396.82" cy="306.41" r="0.22"/><circle cx="397.67" cy="302.65" r="0.26"/><circle cx="334.48" cy="294.37" r="0.32"/><circle cx="390.45" cy="309.87" r="0.46"/><circle cx="320.13" cy="280.58" r="0.5"/><circle cx="395.33" cy="308.45" r="0.34"/><circle cx="315.11" cy="303.59" r="0.26"/><circle cx="323.18" cy="288.22" r="0.51"/><circle cx="383.58" cy="292.72" r="0.36"/><circle cx="300.57" cy="302.24" r="0.23"/><circle cx="291.9" cy="298.15" r="0.22"/><circle cx="316.64" cy="284.02" r="0.49"/><circle cx="341.59" cy="286.22" r="0.39"/><circle cx="418.95" cy="324.26" r="0.48"/><circle cx="293.43" cy="300.76" r="0.44"/><circle cx="389.57" cy="285.63" r="0.35"/><circle cx="307.17" cy="311.46" r="0.23"/><circle cx="382.22" cy="282.91" r="0.48"/><circle cx="405.58" cy="305.92" r="0.41"/><circle cx="275.94" cy="338.92" r="0.41"/><circle cx="372.65" cy="304.54" r="0.33"/><circle cx="386.02" cy="284.34" r="0.43"/><circle cx="283" cy="292.48" r="0.43"/><circle cx="384.31" cy="309.24" r="0.31"/><circle cx="396.32" cy="294.38" r="0.5"/><circle cx="404.93" cy="320.3" r="0.32"/><circle cx="386.26" cy="305.11" r="0.27"/><circle cx="361.22" cy="303.71" r="0.41"/><circle cx="307.68" cy="302.61" r="0.52"/><circle cx="285.32" cy="326" r="0.28"/><circle cx="284.36" cy="304.4" r="0.28"/><circle cx="401.72" cy="307.9" r="0.34"/><circle cx="392.62" cy="305.26" r="0.41"/><circle cx="292.44" cy="320.15" r="0.21"/><circle cx="297.52" cy="297.61" r="0.27"/><circle cx="331.57" cy="280.25" r="0.3"/><circle cx="400.91" cy="319.52" r="0.32"/><circle cx="416.4" cy="330.8" r="0.27"/><circle cx="405.11" cy="304.73" r="0.35"/><circle cx="375.4" cy="301.76" r="0.22"/><circle cx="304.14" cy="285.26" r="0.21"/><circle cx="390.45" cy="316.52" r="0.25"/><circle cx="403.54" cy="319.13" r="0.37"/><circle cx="373.4" cy="308.73" r="0.47"/><circle cx="393.18" cy="303.11" r="0.44"/><circle cx="382.92" cy="289.77" r="0.53"/><circle cx="359.72" cy="295.21" r="0.43"/><circle cx="392.94" cy="300.36" r="0.29"/><circle cx="363.83" cy="281.09" r="0.24"/><circle cx="397.2" cy="314.31" r="0.26"/><circle cx="372.55" cy="291.41" r="0.41"/><circle cx="374.43" cy="308.06" r="0.3"/><circle cx="297.88" cy="314.35" r="0.25"/><circle cx="376.97" cy="307.26" r="0.48"/><circle cx="282.46" cy="327.82" r="0.45"/><circle cx="323.93" cy="287.7" r="0.48"/><circle cx="398.85" cy="322.35" r="0.39"/><circle cx="411.81" cy="329.07" r="0.3"/><circle cx="391.03" cy="304.65" r="0.3"/><circle cx="406.12" cy="330.49" r="0.26"/><circle cx="329.02" cy="292.71" r="0.43"/><circle cx="388.04" cy="310.52" r="0.53"/><circle cx="286.27" cy="293.77" r="0.3"/><circle cx="403.8" cy="306.42" r="0.38"/><circle cx="390.21" cy="310.9" r="0.31"/><circle cx="395.63" cy="307.29" r="0.4"/><circle cx="395.94" cy="290.92" r="0.31"/><circle cx="404.11" cy="316.84" r="0.38"/><circle cx="368.28" cy="286.26" r="0.21"/><circle cx="370.36" cy="298.11" r="0.24"/><circle cx="385.95" cy="298.34" r="0.38"/><circle cx="360.43" cy="308.39" r="0.53"/><circle cx="381.6" cy="287.64" r="0.51"/><circle cx="403.43" cy="317.34" r="0.31"/><circle cx="304.61" cy="296.98" r="0.32"/><circle cx="279.95" cy="338.51" r="0.54"/><circle cx="308.85" cy="282.52" r="0.27"/><circle cx="291.71" cy="313.91" r="0.44"/><circle cx="380.7" cy="302.65" r="0.54"/><circle cx="412.58" cy="318.83" r="0.43"/><circle cx="296.75" cy="308.01" r="0.21"/><circle cx="387.03" cy="297.43" r="0.54"/><circle cx="398.44" cy="323.83" r="0.4"/><circle cx="325.17" cy="278.22" r="0.26"/><circle cx="373.1" cy="298.87" r="0.28"/><circle cx="300.73" cy="286.94" r="0.2"/><circle cx="298.99" cy="296.31" r="0.26"/><circle cx="357.37" cy="298.24" r="0.23"/><circle cx="375.62" cy="309.7" r="0.31"/><circle cx="288.39" cy="297.41" r="0.35"/><circle cx="365.07" cy="291.65" r="0.21"/><circle cx="388.54" cy="303.28" r="0.54"/><circle cx="399.99" cy="315.82" r="0.46"/><circle cx="405.72" cy="317.21" r="0.45"/><circle cx="305.55" cy="299.1" r="0.38"/><circle cx="377.38" cy="302.08" r="0.23"/><circle cx="418.59" cy="327.87" r="0.42"/><circle cx="388.76" cy="299.68" r="0.3"/><circle cx="395.51" cy="318.23" r="0.55"/><circle cx="409.8" cy="311.6" r="0.35"/><circle cx="395.58" cy="311.48" r="0.37"/><circle cx="379.08" cy="309.32" r="0.42"/><circle cx="380.98" cy="311.86" r="0.24"/><circle cx="409.31" cy="306.74" r="0.27"/><circle cx="271.01" cy="322.07" r="0.27"/><circle cx="420.97" cy="323.89" r="0.51"/><circle cx="378.75" cy="311.58" r="0.54"/><circle cx="391.78" cy="306.36" r="0.37"/><circle cx="398.13" cy="291.13" r="0.29"/><circle cx="392.66" cy="296.07" r="0.3"/><circle cx="398.13" cy="308.8" r="0.36"/></g>
<g fill="#f8f0f2" opacity="0.6"><circle cx="346.48" cy="302.89" r="0.39"/><circle cx="402.04" cy="313.88" r="0.28"/><circle cx="410.3" cy="356.45" r="0.31"/><circle cx="336.54" cy="303.81" r="0.36"/><circle cx="406.58" cy="333.3" r="0.23"/><circle cx="350.15" cy="306.6" r="0.43"/><circle cx="400.11" cy="311.1" r="0.45"/><circle cx="395.42" cy="307.03" r="0.47"/><circle cx="399.11" cy="311.96" r="0.43"/><circle cx="411.34" cy="349.79" r="0.36"/><circle cx="392.12" cy="312.98" r="0.5"/><circle cx="382.13" cy="304.87" r="0.24"/><circle cx="339.23" cy="298.82" r="0.39"/><circle cx="378.37" cy="303.72" r="0.24"/><circle cx="334.85" cy="307.99" r="0.39"/><circle cx="364.7" cy="306.96" r="0.26"/><circle cx="413.65" cy="350.58" r="0.34"/><circle cx="416.19" cy="343.14" r="0.39"/><circle cx="348.49" cy="308.9" r="0.37"/><circle cx="353.51" cy="307.31" r="0.32"/><circle cx="395.68" cy="311.43" r="0.26"/><circle cx="408.15" cy="343.73" r="0.42"/><circle cx="414.13" cy="356.37" r="0.41"/><circle cx="391.46" cy="317.28" r="0.32"/><circle cx="335.39" cy="304.64" r="0.31"/><circle cx="399.09" cy="328.38" r="0.39"/><circle cx="397.37" cy="321.56" r="0.49"/><circle cx="402.02" cy="325.97" r="0.48"/><circle cx="402.21" cy="328.19" r="0.32"/><circle cx="405.32" cy="334.6" r="0.34"/><circle cx="410.7" cy="359.71" r="0.34"/><circle cx="387.67" cy="318.15" r="0.43"/><circle cx="409.12" cy="349.11" r="0.44"/><circle cx="382.81" cy="303.08" r="0.49"/><circle cx="409.07" cy="340.98" r="0.46"/><circle cx="369.58" cy="298.06" r="0.37"/><circle cx="401.7" cy="319.79" r="0.3"/><circle cx="392.41" cy="311.01" r="0.25"/><circle cx="340.96" cy="302.06" r="0.22"/><circle cx="391.58" cy="319.1" r="0.31"/><circle cx="391.33" cy="313.39" r="0.28"/><circle cx="408.79" cy="355.43" r="0.33"/><circle cx="392.91" cy="321.22" r="0.37"/><circle cx="349.96" cy="296.99" r="0.47"/><circle cx="335.71" cy="308.87" r="0.38"/><circle cx="414.61" cy="355.94" r="0.39"/><circle cx="355.31" cy="302.16" r="0.31"/><circle cx="410.8" cy="357.81" r="0.27"/><circle cx="392.9" cy="312.7" r="0.46"/><circle cx="396.78" cy="307.68" r="0.5"/><circle cx="341.07" cy="306.27" r="0.38"/><circle cx="416.17" cy="344.73" r="0.21"/><circle cx="343.24" cy="307.12" r="0.29"/><circle cx="415.12" cy="351.53" r="0.36"/><circle cx="353.1" cy="299.97" r="0.22"/><circle cx="415.31" cy="353.05" r="0.37"/><circle cx="405.56" cy="339.97" r="0.41"/><circle cx="413.55" cy="343.25" r="0.48"/><circle cx="404.2" cy="339.64" r="0.23"/><circle cx="390.01" cy="318.22" r="0.44"/><circle cx="340.93" cy="298.64" r="0.32"/><circle cx="400.35" cy="318.97" r="0.29"/><circle cx="406.15" cy="344.35" r="0.39"/><circle cx="384.58" cy="316.16" r="0.3"/><circle cx="393.28" cy="309.9" r="0.49"/><circle cx="357.85" cy="300.78" r="0.35"/><circle cx="404.99" cy="319.31" r="0.28"/><circle cx="382.56" cy="301.44" r="0.5"/><circle cx="408.31" cy="356.88" r="0.49"/><circle cx="336.73" cy="298.98" r="0.21"/><circle cx="351.37" cy="303.78" r="0.23"/><circle cx="396.57" cy="313.34" r="0.38"/><circle cx="352.52" cy="309.45" r="0.5"/><circle cx="375.16" cy="310.81" r="0.38"/><circle cx="388.33" cy="317.68" r="0.41"/><circle cx="413.43" cy="355.78" r="0.21"/><circle cx="409.53" cy="324.97" r="0.42"/><circle cx="344.62" cy="308.17" r="0.38"/><circle cx="388.65" cy="315.04" r="0.3"/><circle cx="410.09" cy="338.98" r="0.47"/><circle cx="396.08" cy="307.53" r="0.37"/><circle cx="354.45" cy="306.9" r="0.45"/><circle cx="398.79" cy="317.74" r="0.3"/><circle cx="408.06" cy="361.96" r="0.25"/><circle cx="368.8" cy="297.27" r="0.48"/><circle cx="413.98" cy="341.56" r="0.35"/><circle cx="371.12" cy="309.99" r="0.41"/><circle cx="387.07" cy="314.56" r="0.29"/><circle cx="409.69" cy="359.98" r="0.25"/><circle cx="346.44" cy="296.63" r="0.37"/><circle cx="407.43" cy="329.38" r="0.24"/><circle cx="408.53" cy="351.1" r="0.31"/><circle cx="386.35" cy="312.02" r="0.46"/><circle cx="409.83" cy="339.93" r="0.2"/><circle cx="336.62" cy="298.04" r="0.34"/><circle cx="408.41" cy="323.39" r="0.3"/><circle cx="377.49" cy="311.24" r="0.47"/><circle cx="413.88" cy="343.27" r="0.31"/><circle cx="341.79" cy="302.05" r="0.28"/><circle cx="397.86" cy="321.43" r="0.46"/><circle cx="377.47" cy="313.79" r="0.45"/><circle cx="390.03" cy="308.96" r="0.46"/><circle cx="405.27" cy="322.96" r="0.34"/><circle cx="411.69" cy="329.36" r="0.28"/><circle cx="334.86" cy="303.49" r="0.29"/><circle cx="404.33" cy="330.79" r="0.41"/><circle cx="385.48" cy="306.59" r="0.28"/><circle cx="403.88" cy="321.89" r="0.4"/><circle cx="333.49" cy="307.24" r="0.39"/><circle cx="414.79" cy="339.42" r="0.4"/><circle cx="405.43" cy="341.39" r="0.38"/><circle cx="411.3" cy="340.09" r="0.23"/><circle cx="393.75" cy="312.71" r="0.22"/><circle cx="364.89" cy="308.84" r="0.26"/><circle cx="403.85" cy="326.51" r="0.47"/><circle cx="380.04" cy="307.43" r="0.44"/><circle cx="382.94" cy="304.69" r="0.23"/><circle cx="360.51" cy="303.42" r="0.35"/><circle cx="371.83" cy="309.19" r="0.22"/><circle cx="334.41" cy="303.84" r="0.23"/><circle cx="332.35" cy="296.26" r="0.25"/><circle cx="348.86" cy="304.69" r="0.37"/><circle cx="414.99" cy="354.68" r="0.49"/><circle cx="414.98" cy="343.93" r="0.38"/><circle cx="376.75" cy="311.13" r="0.31"/><circle cx="393.43" cy="318.34" r="0.35"/><circle cx="405.79" cy="326.31" r="0.3"/><circle cx="403.61" cy="335.69" r="0.3"/><circle cx="411.5" cy="335.77" r="0.26"/><circle cx="410.49" cy="326.35" r="0.4"/><circle cx="352.42" cy="295.84" r="0.39"/><circle cx="415.36" cy="352.18" r="0.32"/><circle cx="340.68" cy="302.57" r="0.4"/><circle cx="361.79" cy="307.41" r="0.45"/><circle cx="368.69" cy="306.12" r="0.22"/><circle cx="355.15" cy="298.78" r="0.38"/><circle cx="339.88" cy="303.19" r="0.4"/><circle cx="387.69" cy="316.3" r="0.32"/><circle cx="332.77" cy="298.99" r="0.25"/><circle cx="336.62" cy="295.25" r="0.2"/><circle cx="408" cy="336.99" r="0.45"/><circle cx="409.58" cy="348.89" r="0.48"/><circle cx="375.83" cy="309.97" r="0.3"/><circle cx="387.29" cy="307.55" r="0.37"/><circle cx="394.89" cy="318.12" r="0.43"/><circle cx="404.26" cy="321.78" r="0.38"/><circle cx="352.53" cy="298.77" r="0.44"/><circle cx="376.15" cy="306.07" r="0.46"/><circle cx="334.69" cy="303.58" r="0.33"/><circle cx="339.94" cy="297.17" r="0.38"/><circle cx="343.6" cy="307.78" r="0.37"/><circle cx="362.96" cy="300.43" r="0.45"/><circle cx="334.01" cy="295.95" r="0.21"/><circle cx="388.25" cy="302.02" r="0.33"/><circle cx="410.15" cy="329.16" r="0.26"/><circle cx="342.8" cy="300.82" r="0.49"/><circle cx="378.6" cy="307.31" r="0.25"/><circle cx="345.96" cy="296" r="0.45"/><circle cx="336.48" cy="303.6" r="0.35"/><circle cx="375.55" cy="305.83" r="0.34"/><circle cx="412.67" cy="348.36" r="0.46"/><circle cx="404.46" cy="327.23" r="0.3"/><circle cx="334.44" cy="300.7" r="0.26"/><circle cx="339.98" cy="306.62" r="0.33"/><circle cx="380.47" cy="308.23" r="0.48"/><circle cx="390.48" cy="304.75" r="0.38"/><circle cx="412.81" cy="352.5" r="0.21"/><circle cx="403.11" cy="327.01" r="0.44"/><circle cx="408.33" cy="322.43" r="0.33"/><circle cx="399.11" cy="317.89" r="0.42"/><circle cx="400.73" cy="329.77" r="0.33"/><circle cx="392.7" cy="318.68" r="0.27"/><circle cx="407.81" cy="340.89" r="0.47"/><circle cx="353.13" cy="303.75" r="0.37"/><circle cx="410.63" cy="358.29" r="0.41"/><circle cx="338.64" cy="305.62" r="0.43"/><circle cx="400.14" cy="323.93" r="0.24"/><circle cx="409.38" cy="359.11" r="0.32"/><circle cx="410.53" cy="358.87" r="0.39"/><circle cx="398.52" cy="326.6" r="0.35"/><circle cx="405.54" cy="323.5" r="0.34"/><circle cx="368.03" cy="302.2" r="0.44"/><circle cx="414.93" cy="353.7" r="0.32"/><circle cx="403.68" cy="331.31" r="0.44"/><circle cx="411.3" cy="345.83" r="0.22"/><circle cx="377.97" cy="312.68" r="0.41"/><circle cx="409.45" cy="348.6" r="0.33"/><circle cx="413" cy="341.33" r="0.25"/><circle cx="375.09" cy="298.32" r="0.23"/><circle cx="338.69" cy="297.8" r="0.21"/><circle cx="413.46" cy="355.53" r="0.33"/><circle cx="410.72" cy="343.14" r="0.24"/><circle cx="407.98" cy="339.17" r="0.3"/><circle cx="347.4" cy="308.6" r="0.3"/><circle cx="415.44" cy="351.32" r="0.38"/><circle cx="414.7" cy="343.57" r="0.27"/><circle cx="374.98" cy="310.41" r="0.32"/><circle cx="379.04" cy="312.28" r="0.45"/><circle cx="404.73" cy="320.52" r="0.43"/><circle cx="361.99" cy="296.43" r="0.45"/><circle cx="396.32" cy="319.29" r="0.21"/><circle cx="408.85" cy="351.53" r="0.5"/><circle cx="413.97" cy="347.72" r="0.3"/><circle cx="414.28" cy="340.85" r="0.48"/><circle cx="410.37" cy="349.52" r="0.35"/><circle cx="402.6" cy="322.17" r="0.36"/><circle cx="389.87" cy="306.67" r="0.35"/><circle cx="407.82" cy="352.89" r="0.33"/><circle cx="407.79" cy="331.17" r="0.27"/><circle cx="364.24" cy="306.83" r="0.33"/><circle cx="340.31" cy="296.94" r="0.25"/><circle cx="342.45" cy="308.63" r="0.43"/><circle cx="409.61" cy="348.23" r="0.34"/><circle cx="413.74" cy="355.29" r="0.33"/><circle cx="342.85" cy="306.57" r="0.26"/><circle cx="409.45" cy="340.82" r="0.44"/><circle cx="411.17" cy="342.88" r="0.25"/><circle cx="393.17" cy="312.18" r="0.33"/><circle cx="410.94" cy="327.56" r="0.36"/><circle cx="416.23" cy="350.84" r="0.34"/><circle cx="340.01" cy="302.73" r="0.34"/><circle cx="343.65" cy="301.21" r="0.42"/><circle cx="408.52" cy="338.59" r="0.44"/><circle cx="339.68" cy="305.72" r="0.2"/><circle cx="415.72" cy="347.33" r="0.31"/><circle cx="379.62" cy="313.88" r="0.36"/><circle cx="382.85" cy="309.06" r="0.3"/><circle cx="374.28" cy="311.93" r="0.25"/><circle cx="343.83" cy="297.93" r="0.2"/><circle cx="412.29" cy="354.63" r="0.26"/><circle cx="399.82" cy="317.41" r="0.36"/><circle cx="412.79" cy="346.12" r="0.22"/><circle cx="392.18" cy="309.06" r="0.46"/><circle cx="412.47" cy="355.54" r="0.26"/><circle cx="401.85" cy="328.79" r="0.33"/><circle cx="399.34" cy="311.05" r="0.45"/><circle cx="387.64" cy="318.03" r="0.42"/><circle cx="338.71" cy="304.58" r="0.21"/><circle cx="387.36" cy="316.16" r="0.47"/><circle cx="415.42" cy="340.91" r="0.46"/><circle cx="397.51" cy="314.2" r="0.41"/><circle cx="409.88" cy="323.95" r="0.26"/><circle cx="407.24" cy="348.36" r="0.3"/><circle cx="412.58" cy="340.45" r="0.34"/><circle cx="341.64" cy="302.43" r="0.41"/><circle cx="392.61" cy="319.87" r="0.26"/><circle cx="378.29" cy="310.71" r="0.47"/><circle cx="340.08" cy="304.28" r="0.36"/><circle cx="409.68" cy="359.13" r="0.4"/><circle cx="408.17" cy="322.05" r="0.23"/><circle cx="386.95" cy="315.84" r="0.26"/><circle cx="352.13" cy="298.99" r="0.25"/><circle cx="408.89" cy="357.12" r="0.23"/><circle cx="414.31" cy="348.46" r="0.41"/><circle cx="401.88" cy="320.66" r="0.33"/><circle cx="385.74" cy="309.33" r="0.42"/><circle cx="391.52" cy="318.51" r="0.43"/><circle cx="397.4" cy="313.86" r="0.4"/><circle cx="386.98" cy="316.17" r="0.28"/><circle cx="387.75" cy="311" r="0.29"/></g>
<linearGradient id="fg" x1="315" y1="0" x2="385" y2="0" gradientUnits="userSpaceOnUse"><stop offset="0" stop-color="#000"/><stop offset="1" stop-color="#fff"/></linearGradient><mask id="fm"><rect x="250" y="260" width="190" height="170" fill="url(#fg)"/></mask>
<g mask="url(#fm)"><path d="M345 273.4C353.37 273.9 369.88 275.17 378.8 276.9C387.72 278.63 393.23 281.02 398.5 283.8C403.77 286.58 406.78 289.67 410.4 293.6C414.02 297.53 417.5 302.5 420.2 307.4C422.9 312.3 425.17 318.07 426.6 323C428.03 327.93 428.82 332.17 428.8 337C428.78 341.83 428.05 347 426.5 352C424.95 357 422.75 362.42 419.5 367C416.25 371.58 411.75 375.8 407 379.5C402.25 383.2 395.58 386.37 391 389.2C386.42 392.03 383 393.78 379.5 396.5C376 399.22 373.42 402.17 370 405.5C366.58 408.83 362.42 413.75 359 416.5C355.58 419.25 352.67 420.92 349.5 422C346.33 423.08 342.13 423.15 340 423C337.87 422.85 339.13 422.22 336.7 421.1C334.27 419.98 329.15 418.7 325.4 416.3C321.65 413.9 317.93 410.18 314.2 406.7C310.47 403.22 306.75 399.15 303 395.4C299.25 391.65 295.72 388.2 291.7 384.2C287.68 380.2 282.9 375.42 278.9 371.4C274.9 367.38 270.65 363.85 267.7 360.1C264.75 356.35 262.78 353.42 261.2 348.9C259.62 344.38 258.48 337.82 258.2 333C257.92 328.18 258.72 323.6 259.5 320C260.28 316.4 261.23 314.82 262.9 311.4C264.57 307.98 266.43 303.45 269.5 299.5C272.57 295.55 277.15 290.77 281.3 287.7C285.45 284.63 289.58 282.97 294.4 281.1C299.22 279.23 304.5 277.7 310.2 276.5C315.9 275.3 322.8 274.42 328.6 273.9C334.4 273.38 336.63 272.9 345 273.4Z" fill="none" stroke="#efe2e4" stroke-width="7" opacity="0.22" filter="url(#bl)" transform="translate(345 419) scale(0.79) translate(-345 -419)"/></g>
<ellipse cx="293" cy="322" rx="7" ry="3" fill="#e8dde0" opacity="0.5" filter="url(#bl)" transform="rotate(-30 293 322)"/>
<linearGradient id="lt" x1="258" y1="0" x2="430" y2="0" gradientUnits="userSpaceOnUse"><stop offset="0" stop-color="#2a1a1a" stop-opacity="0.14"/><stop offset="0.45" stop-color="#2a1a1a" stop-opacity="0"/><stop offset="0.6" stop-color="#fff" stop-opacity="0"/><stop offset="1" stop-color="#fff" stop-opacity="0.14"/></linearGradient>
<rect x="255" y="270" width="178" height="156" fill="url(#lt)"/>
<path d="M345 273.4C353.37 273.9 369.88 275.17 378.8 276.9C387.72 278.63 393.23 281.02 398.5 283.8C403.77 286.58 406.78 289.67 410.4 293.6C414.02 297.53 417.5 302.5 420.2 307.4C422.9 312.3 425.17 318.07 426.6 323C428.03 327.93 428.82 332.17 428.8 337C428.78 341.83 428.05 347 426.5 352C424.95 357 422.75 362.42 419.5 367C416.25 371.58 411.75 375.8 407 379.5C402.25 383.2 395.58 386.37 391 389.2C386.42 392.03 383 393.78 379.5 396.5C376 399.22 373.42 402.17 370 405.5C366.58 408.83 362.42 413.75 359 416.5C355.58 419.25 352.67 420.92 349.5 422C346.33 423.08 342.13 423.15 340 423C337.87 422.85 339.13 422.22 336.7 421.1C334.27 419.98 329.15 418.7 325.4 416.3C321.65 413.9 317.93 410.18 314.2 406.7C310.47 403.22 306.75 399.15 303 395.4C299.25 391.65 295.72 388.2 291.7 384.2C287.68 380.2 282.9 375.42 278.9 371.4C274.9 367.38 270.65 363.85 267.7 360.1C264.75 356.35 262.78 353.42 261.2 348.9C259.62 344.38 258.48 337.82 258.2 333C257.92 328.18 258.72 323.6 259.5 320C260.28 316.4 261.23 314.82 262.9 311.4C264.57 307.98 266.43 303.45 269.5 299.5C272.57 295.55 277.15 290.77 281.3 287.7C285.45 284.63 289.58 282.97 294.4 281.1C299.22 279.23 304.5 277.7 310.2 276.5C315.9 275.3 322.8 274.42 328.6 273.9C334.4 273.38 336.63 272.9 345 273.4Z" fill="none" stroke="#a08580" stroke-width="2" opacity="0.5" filter="url(#bl2)"/>
</g></svg></div></body></html>
